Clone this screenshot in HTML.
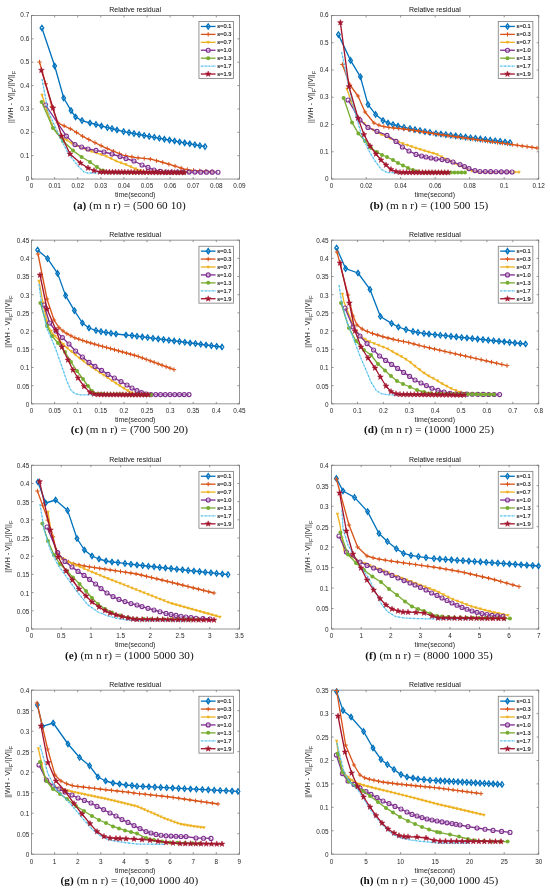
<!DOCTYPE html>
<html lang="en"><head><meta charset="utf-8"><title>Relative residual</title>
<style>
html,body{margin:0;padding:0;background:#fff;}
body{width:550px;height:891px;overflow:hidden;}
svg{display:block;}
.tk{font-family:'Liberation Sans', Arial, Helvetica, sans-serif;font-size:6.4px;fill:#262626;}
.tt{font-family:'Liberation Sans', Arial, Helvetica, sans-serif;font-size:7px;fill:#111;}
.lb{font-family:'Liberation Sans', Arial, Helvetica, sans-serif;font-size:7px;fill:#262626;}
.yl{font-family:'Liberation Sans', Arial, Helvetica, sans-serif;font-size:7px;letter-spacing:0.08px;fill:#262626;}
.sub{font-size:5.8px;}
.lg{font-family:'Liberation Sans', Arial, Helvetica, sans-serif;font-size:5.75px;fill:#111;stroke:#111;stroke-width:0.12px;}
.cap{font-family:'Liberation Serif', 'Times New Roman', serif;font-size:11.2px;word-spacing:0.2px;fill:#111;}
</style></head><body>
<svg width="550" height="891" viewBox="0 0 550 891">
<defs><filter id="soft" x="0" y="0" width="100%" height="100%" filterUnits="userSpaceOnUse"><feGaussianBlur stdDeviation="0.3"/></filter></defs>
<rect width="550" height="891" fill="#fff"/>
<g filter="url(#soft)">
<rect x="31.55" y="15.45" width="207.85" height="163.6" fill="#fff" stroke="#7a7a7a" stroke-width="0.8"/>
<text x="31.55" y="188.45" class="tk" text-anchor="middle">0</text>
<text x="54.64" y="188.45" class="tk" text-anchor="middle">0.01</text>
<text x="77.74" y="188.45" class="tk" text-anchor="middle">0.02</text>
<text x="100.83" y="188.45" class="tk" text-anchor="middle">0.03</text>
<text x="123.93" y="188.45" class="tk" text-anchor="middle">0.04</text>
<text x="147.02" y="188.45" class="tk" text-anchor="middle">0.05</text>
<text x="170.12" y="188.45" class="tk" text-anchor="middle">0.06</text>
<text x="193.21" y="188.45" class="tk" text-anchor="middle">0.07</text>
<text x="216.31" y="188.45" class="tk" text-anchor="middle">0.08</text>
<text x="239.4" y="188.45" class="tk" text-anchor="middle">0.09</text>
<text x="29.25" y="181.05" class="tk" text-anchor="end">0</text>
<text x="29.25" y="157.68" class="tk" text-anchor="end">0.1</text>
<text x="29.25" y="134.31" class="tk" text-anchor="end">0.2</text>
<text x="29.25" y="110.94" class="tk" text-anchor="end">0.3</text>
<text x="29.25" y="87.56" class="tk" text-anchor="end">0.4</text>
<text x="29.25" y="64.19" class="tk" text-anchor="end">0.5</text>
<text x="29.25" y="40.82" class="tk" text-anchor="end">0.6</text>
<text x="29.25" y="17.45" class="tk" text-anchor="end">0.7</text>
<path d="M31.55 179.05v-2M31.55 15.45v2M54.64 179.05v-2M54.64 15.45v2M77.74 179.05v-2M77.74 15.45v2M100.83 179.05v-2M100.83 15.45v2M123.93 179.05v-2M123.93 15.45v2M147.02 179.05v-2M147.02 15.45v2M170.12 179.05v-2M170.12 15.45v2M193.21 179.05v-2M193.21 15.45v2M216.31 179.05v-2M216.31 15.45v2M239.4 179.05v-2M239.4 15.45v2M31.55 179.05h2M239.4 179.05h-2M31.55 155.68h2M239.4 155.68h-2M31.55 132.31h2M239.4 132.31h-2M31.55 108.94h2M239.4 108.94h-2M31.55 85.56h2M239.4 85.56h-2M31.55 62.19h2M239.4 62.19h-2M31.55 38.82h2M239.4 38.82h-2M31.55 15.45h2M239.4 15.45h-2" stroke="#7a7a7a" stroke-width="0.8" fill="none"/>
<text x="135.17" y="11.85" class="tt" text-anchor="middle">Relative residual</text>
<text x="135.17" y="197.35" class="lb" text-anchor="middle">time(second)</text>
<text transform="translate(13.25 96.75) rotate(-90)" class="yl" text-anchor="middle">||WH - V||<tspan class="sub" dy="2.6">F</tspan><tspan dy="-2.6">/||V||</tspan><tspan class="sub" dy="2.6">F</tspan></text>
<path d="M41.9 28L54.7 66L63.7 98L71 110.6L75.6 117L82 120.6L90 123L96 124.4L101.4 126L107.4 127.6L112 128.6L117 130L123.6 131.6L129 132.6L134 133.6L205 146.6" fill="none" stroke="#0072BD" stroke-linejoin="round" stroke-width="1.32"/>
<path d="M41.9 25.35L43.7 28L41.9 30.65L40.1 28Z" fill="none" stroke="#0072BD" stroke-width="1.3"/>
<path d="M54.7 63.35L56.5 66L54.7 68.65L52.9 66Z" fill="none" stroke="#0072BD" stroke-width="1.3"/>
<path d="M63.7 95.35L65.5 98L63.7 100.65L61.9 98Z" fill="none" stroke="#0072BD" stroke-width="1.3"/>
<path d="M71 107.95L72.8 110.6L71 113.25L69.2 110.6Z" fill="none" stroke="#0072BD" stroke-width="1.3"/>
<path d="M75.6 114.35L77.4 117L75.6 119.65L73.8 117Z" fill="none" stroke="#0072BD" stroke-width="1.3"/>
<path d="M82 117.95L83.8 120.6L82 123.25L80.2 120.6Z" fill="none" stroke="#0072BD" stroke-width="1.3"/>
<path d="M90 120.35L91.8 123L90 125.65L88.2 123Z" fill="none" stroke="#0072BD" stroke-width="1.3"/>
<path d="M96 121.75L97.8 124.4L96 127.05L94.2 124.4Z" fill="none" stroke="#0072BD" stroke-width="1.3"/>
<path d="M101.4 123.35L103.2 126L101.4 128.65L99.6 126Z" fill="none" stroke="#0072BD" stroke-width="1.3"/>
<path d="M107.4 124.95L109.2 127.6L107.4 130.25L105.6 127.6Z" fill="none" stroke="#0072BD" stroke-width="1.3"/>
<path d="M112 125.95L113.8 128.6L112 131.25L110.2 128.6Z" fill="none" stroke="#0072BD" stroke-width="1.3"/>
<path d="M117 127.35L118.8 130L117 132.65L115.2 130Z" fill="none" stroke="#0072BD" stroke-width="1.3"/>
<path d="M123.6 128.95L125.4 131.6L123.6 134.25L121.8 131.6Z" fill="none" stroke="#0072BD" stroke-width="1.3"/>
<path d="M129 129.95L130.8 132.6L129 135.25L127.2 132.6Z" fill="none" stroke="#0072BD" stroke-width="1.3"/>
<path d="M134 130.95L135.8 133.6L134 136.25L132.2 133.6Z" fill="none" stroke="#0072BD" stroke-width="1.3"/>
<path d="M139.07 131.88L140.87 134.53L139.07 137.18L137.27 134.53Z" fill="none" stroke="#0072BD" stroke-width="1.3"/>
<path d="M144.14 132.81L145.94 135.46L144.14 138.11L142.34 135.46Z" fill="none" stroke="#0072BD" stroke-width="1.3"/>
<path d="M149.21 133.74L151.01 136.39L149.21 139.04L147.41 136.39Z" fill="none" stroke="#0072BD" stroke-width="1.3"/>
<path d="M154.29 134.66L156.09 137.31L154.29 139.96L152.49 137.31Z" fill="none" stroke="#0072BD" stroke-width="1.3"/>
<path d="M159.36 135.59L161.16 138.24L159.36 140.89L157.56 138.24Z" fill="none" stroke="#0072BD" stroke-width="1.3"/>
<path d="M164.43 136.52L166.23 139.17L164.43 141.82L162.63 139.17Z" fill="none" stroke="#0072BD" stroke-width="1.3"/>
<path d="M169.5 137.45L171.3 140.1L169.5 142.75L167.7 140.1Z" fill="none" stroke="#0072BD" stroke-width="1.3"/>
<path d="M174.57 138.38L176.37 141.03L174.57 143.68L172.77 141.03Z" fill="none" stroke="#0072BD" stroke-width="1.3"/>
<path d="M179.64 139.31L181.44 141.96L179.64 144.61L177.84 141.96Z" fill="none" stroke="#0072BD" stroke-width="1.3"/>
<path d="M184.71 140.24L186.51 142.89L184.71 145.54L182.91 142.89Z" fill="none" stroke="#0072BD" stroke-width="1.3"/>
<path d="M189.79 141.16L191.59 143.81L189.79 146.46L187.99 143.81Z" fill="none" stroke="#0072BD" stroke-width="1.3"/>
<path d="M194.86 142.09L196.66 144.74L194.86 147.39L193.06 144.74Z" fill="none" stroke="#0072BD" stroke-width="1.3"/>
<path d="M199.93 143.02L201.73 145.67L199.93 148.32L198.13 145.67Z" fill="none" stroke="#0072BD" stroke-width="1.3"/>
<path d="M205 143.95L206.8 146.6L205 149.25L203.2 146.6Z" fill="none" stroke="#0072BD" stroke-width="1.3"/>
<path d="M39.5 62L46 85L52 107L58 123L63 125.3L71.8 129.5L82.7 136.3L93.6 142L104.5 147.3L112.7 150.9L123.6 155.3L136 157.6L151 159.2L165 163L176 166.4L184 169L192 170.3L200 171L212 171.6" fill="none" stroke="#D95319" stroke-linejoin="round" stroke-width="1.32"/>
<path d="M37.3 62H41.7M39.5 59.8V64.2" stroke="#D95319" stroke-width="1" fill="none"/>
<path d="M43.46 83.8H47.86M45.66 81.6V86" stroke="#D95319" stroke-width="1" fill="none"/>
<path d="M49.62 106.35H54.02M51.82 104.15V108.55" stroke="#D95319" stroke-width="1" fill="none"/>
<path d="M55.78 122.95H60.18M57.98 120.75V125.15" stroke="#D95319" stroke-width="1" fill="none"/>
<path d="M61.94 125.85H66.34M64.14 123.65V128.05" stroke="#D95319" stroke-width="1" fill="none"/>
<path d="M68.1 128.79H72.5M70.3 126.59V130.99" stroke="#D95319" stroke-width="1" fill="none"/>
<path d="M74.26 132.41H78.66M76.46 130.21V134.61" stroke="#D95319" stroke-width="1" fill="none"/>
<path d="M80.42 136.25H84.83M82.62 134.05V138.45" stroke="#D95319" stroke-width="1" fill="none"/>
<path d="M86.59 139.48H90.99M88.79 137.28V141.68" stroke="#D95319" stroke-width="1" fill="none"/>
<path d="M92.75 142.65H97.15M94.95 140.45V144.85" stroke="#D95319" stroke-width="1" fill="none"/>
<path d="M98.91 145.65H103.31M101.11 143.45V147.85" stroke="#D95319" stroke-width="1" fill="none"/>
<path d="M105.07 148.52H109.47M107.27 146.32V150.72" stroke="#D95319" stroke-width="1" fill="none"/>
<path d="M111.23 151.19H115.63M113.43 148.99V153.39" stroke="#D95319" stroke-width="1" fill="none"/>
<path d="M117.39 153.68H121.79M119.59 151.48V155.88" stroke="#D95319" stroke-width="1" fill="none"/>
<path d="M123.55 155.7H127.95M125.75 153.5V157.9" stroke="#D95319" stroke-width="1" fill="none"/>
<path d="M129.71 156.84H134.11M131.91 154.64V159.04" stroke="#D95319" stroke-width="1" fill="none"/>
<path d="M135.87 157.82H140.27M138.07 155.62V160.02" stroke="#D95319" stroke-width="1" fill="none"/>
<path d="M142.03 158.48H146.43M144.23 156.28V160.68" stroke="#D95319" stroke-width="1" fill="none"/>
<path d="M148.19 159.14H152.59M150.39 156.94V161.34" stroke="#D95319" stroke-width="1" fill="none"/>
<path d="M154.35 160.71H158.75M156.55 158.51V162.91" stroke="#D95319" stroke-width="1" fill="none"/>
<path d="M160.51 162.38H164.91M162.71 160.18V164.58" stroke="#D95319" stroke-width="1" fill="none"/>
<path d="M166.68 164.2H171.07M168.88 162V166.4" stroke="#D95319" stroke-width="1" fill="none"/>
<path d="M172.84 166.1H177.24M175.04 163.9V168.3" stroke="#D95319" stroke-width="1" fill="none"/>
<path d="M179 168.09H183.4M181.2 165.89V170.29" stroke="#D95319" stroke-width="1" fill="none"/>
<path d="M185.16 169.55H189.56M187.36 167.35V171.75" stroke="#D95319" stroke-width="1" fill="none"/>
<path d="M191.32 170.43H195.72M193.52 168.23V172.63" stroke="#D95319" stroke-width="1" fill="none"/>
<path d="M197.48 170.97H201.88M199.68 168.77V173.17" stroke="#D95319" stroke-width="1" fill="none"/>
<path d="M203.64 171.29H208.04M205.84 169.09V173.49" stroke="#D95319" stroke-width="1" fill="none"/>
<path d="M209.8 171.6H214.2M212 169.4V173.8" stroke="#D95319" stroke-width="1" fill="none"/>
<path d="M42 95L47.5 112L53 128L60 136L74 144.6L88 150.4L95.9 152.8L106.8 156.5L116.8 161.3L125.9 164.6L135 168.6L145 172.4L150 172.6L190 172.6" fill="none" stroke="#EDB120" stroke-linejoin="round" stroke-width="1.32"/>
<path d="M40.7 93.96H43.3L42 96.43Z" fill="#EDB120" stroke="#EDB120" stroke-width="0.5"/>
<path d="M45.63 109.21H48.23L46.93 111.68Z" fill="#EDB120" stroke="#EDB120" stroke-width="0.5"/>
<path d="M50.57 123.66H53.17L51.87 126.13Z" fill="#EDB120" stroke="#EDB120" stroke-width="0.5"/>
<path d="M55.5 131.3H58.1L56.8 133.77Z" fill="#EDB120" stroke="#EDB120" stroke-width="0.5"/>
<path d="M60.43 136.02H63.03L61.73 138.49Z" fill="#EDB120" stroke="#EDB120" stroke-width="0.5"/>
<path d="M65.37 139.06H67.97L66.67 141.53Z" fill="#EDB120" stroke="#EDB120" stroke-width="0.5"/>
<path d="M70.3 142.09H72.9L71.6 144.56Z" fill="#EDB120" stroke="#EDB120" stroke-width="0.5"/>
<path d="M75.23 144.61H77.83L76.53 147.08Z" fill="#EDB120" stroke="#EDB120" stroke-width="0.5"/>
<path d="M80.17 146.65H82.77L81.47 149.12Z" fill="#EDB120" stroke="#EDB120" stroke-width="0.5"/>
<path d="M85.1 148.7H87.7L86.4 151.17Z" fill="#EDB120" stroke="#EDB120" stroke-width="0.5"/>
<path d="M90.03 150.37H92.63L91.33 152.84Z" fill="#EDB120" stroke="#EDB120" stroke-width="0.5"/>
<path d="M94.97 151.88H97.57L96.27 154.35Z" fill="#EDB120" stroke="#EDB120" stroke-width="0.5"/>
<path d="M99.9 153.56H102.5L101.2 156.03Z" fill="#EDB120" stroke="#EDB120" stroke-width="0.5"/>
<path d="M104.83 155.23H107.43L106.13 157.7Z" fill="#EDB120" stroke="#EDB120" stroke-width="0.5"/>
<path d="M109.77 157.51H112.37L111.07 159.98Z" fill="#EDB120" stroke="#EDB120" stroke-width="0.5"/>
<path d="M114.7 159.88H117.3L116 162.35Z" fill="#EDB120" stroke="#EDB120" stroke-width="0.5"/>
<path d="M119.63 161.76H122.23L120.93 164.23Z" fill="#EDB120" stroke="#EDB120" stroke-width="0.5"/>
<path d="M124.57 163.55H127.17L125.87 166.02Z" fill="#EDB120" stroke="#EDB120" stroke-width="0.5"/>
<path d="M129.5 165.71H132.1L130.8 168.18Z" fill="#EDB120" stroke="#EDB120" stroke-width="0.5"/>
<path d="M134.43 167.84H137.03L135.73 170.31Z" fill="#EDB120" stroke="#EDB120" stroke-width="0.5"/>
<path d="M139.37 169.71H141.97L140.67 172.18Z" fill="#EDB120" stroke="#EDB120" stroke-width="0.5"/>
<path d="M144.3 171.38H146.9L145.6 173.85Z" fill="#EDB120" stroke="#EDB120" stroke-width="0.5"/>
<path d="M149.23 171.56H151.83L150.53 174.03Z" fill="#EDB120" stroke="#EDB120" stroke-width="0.5"/>
<path d="M154.17 171.56H156.77L155.47 174.03Z" fill="#EDB120" stroke="#EDB120" stroke-width="0.5"/>
<path d="M159.1 171.56H161.7L160.4 174.03Z" fill="#EDB120" stroke="#EDB120" stroke-width="0.5"/>
<path d="M164.03 171.56H166.63L165.33 174.03Z" fill="#EDB120" stroke="#EDB120" stroke-width="0.5"/>
<path d="M168.97 171.56H171.57L170.27 174.03Z" fill="#EDB120" stroke="#EDB120" stroke-width="0.5"/>
<path d="M173.9 171.56H176.5L175.2 174.03Z" fill="#EDB120" stroke="#EDB120" stroke-width="0.5"/>
<path d="M178.83 171.56H181.43L180.13 174.03Z" fill="#EDB120" stroke="#EDB120" stroke-width="0.5"/>
<path d="M183.77 171.56H186.37L185.07 174.03Z" fill="#EDB120" stroke="#EDB120" stroke-width="0.5"/>
<path d="M188.7 171.56H191.3L190 174.03Z" fill="#EDB120" stroke="#EDB120" stroke-width="0.5"/>
<path d="M45.6 105L66.4 136.1L75 144.6L81.6 147L88 149L96 150.4L104 152L112 154L120 156.6L126 158.6L134 161L142 165L148 167.4L154 170L160 171.4L166 172L218 172.2" fill="none" stroke="#7E2F8E" stroke-linejoin="round" stroke-width="1.32"/>
<circle cx="45.6" cy="105" r="2.0" fill="#fff" fill-opacity="0.45" stroke="#7E2F8E" stroke-width="1.15"/>
<circle cx="66.4" cy="136.1" r="2.0" fill="#fff" fill-opacity="0.45" stroke="#7E2F8E" stroke-width="1.15"/>
<circle cx="75" cy="144.6" r="2.0" fill="#fff" fill-opacity="0.45" stroke="#7E2F8E" stroke-width="1.15"/>
<circle cx="81.6" cy="147" r="2.0" fill="#fff" fill-opacity="0.45" stroke="#7E2F8E" stroke-width="1.15"/>
<circle cx="88" cy="149" r="2.0" fill="#fff" fill-opacity="0.45" stroke="#7E2F8E" stroke-width="1.15"/>
<circle cx="96" cy="150.4" r="2.0" fill="#fff" fill-opacity="0.45" stroke="#7E2F8E" stroke-width="1.15"/>
<circle cx="104" cy="152" r="2.0" fill="#fff" fill-opacity="0.45" stroke="#7E2F8E" stroke-width="1.15"/>
<circle cx="112" cy="154" r="2.0" fill="#fff" fill-opacity="0.45" stroke="#7E2F8E" stroke-width="1.15"/>
<circle cx="120" cy="156.6" r="2.0" fill="#fff" fill-opacity="0.45" stroke="#7E2F8E" stroke-width="1.15"/>
<circle cx="126" cy="158.6" r="2.0" fill="#fff" fill-opacity="0.45" stroke="#7E2F8E" stroke-width="1.15"/>
<circle cx="134" cy="161" r="2.0" fill="#fff" fill-opacity="0.45" stroke="#7E2F8E" stroke-width="1.15"/>
<circle cx="142" cy="165" r="2.0" fill="#fff" fill-opacity="0.45" stroke="#7E2F8E" stroke-width="1.15"/>
<circle cx="148" cy="167.4" r="2.0" fill="#fff" fill-opacity="0.45" stroke="#7E2F8E" stroke-width="1.15"/>
<circle cx="154" cy="170" r="2.0" fill="#fff" fill-opacity="0.45" stroke="#7E2F8E" stroke-width="1.15"/>
<circle cx="160" cy="171.4" r="2.0" fill="#fff" fill-opacity="0.45" stroke="#7E2F8E" stroke-width="1.15"/>
<circle cx="166" cy="172" r="2.0" fill="#fff" fill-opacity="0.45" stroke="#7E2F8E" stroke-width="1.15"/>
<circle cx="171.78" cy="172.02" r="2.0" fill="#fff" fill-opacity="0.45" stroke="#7E2F8E" stroke-width="1.15"/>
<circle cx="177.56" cy="172.04" r="2.0" fill="#fff" fill-opacity="0.45" stroke="#7E2F8E" stroke-width="1.15"/>
<circle cx="183.33" cy="172.07" r="2.0" fill="#fff" fill-opacity="0.45" stroke="#7E2F8E" stroke-width="1.15"/>
<circle cx="189.11" cy="172.09" r="2.0" fill="#fff" fill-opacity="0.45" stroke="#7E2F8E" stroke-width="1.15"/>
<circle cx="194.89" cy="172.11" r="2.0" fill="#fff" fill-opacity="0.45" stroke="#7E2F8E" stroke-width="1.15"/>
<circle cx="200.67" cy="172.13" r="2.0" fill="#fff" fill-opacity="0.45" stroke="#7E2F8E" stroke-width="1.15"/>
<circle cx="206.44" cy="172.16" r="2.0" fill="#fff" fill-opacity="0.45" stroke="#7E2F8E" stroke-width="1.15"/>
<circle cx="212.22" cy="172.18" r="2.0" fill="#fff" fill-opacity="0.45" stroke="#7E2F8E" stroke-width="1.15"/>
<circle cx="218" cy="172.2" r="2.0" fill="#fff" fill-opacity="0.45" stroke="#7E2F8E" stroke-width="1.15"/>
<path d="M41.6 102L53 128L63 141L73 150.6L81.6 157L90 162L97 167L103 170.6L109 172.4L184 172.6" fill="none" stroke="#77AC30" stroke-linejoin="round" stroke-width="1.32"/>
<circle cx="41.6" cy="102" r="2.0" fill="#77AC30"/>
<circle cx="53" cy="128" r="2.0" fill="#77AC30"/>
<circle cx="63" cy="141" r="2.0" fill="#77AC30"/>
<circle cx="73" cy="150.6" r="2.0" fill="#77AC30"/>
<circle cx="81.6" cy="157" r="2.0" fill="#77AC30"/>
<circle cx="90" cy="162" r="2.0" fill="#77AC30"/>
<circle cx="97" cy="167" r="2.0" fill="#77AC30"/>
<circle cx="103" cy="170.6" r="2.0" fill="#77AC30"/>
<circle cx="109" cy="172.4" r="2.0" fill="#77AC30"/>
<circle cx="114" cy="172.41" r="2.0" fill="#77AC30"/>
<circle cx="119" cy="172.43" r="2.0" fill="#77AC30"/>
<circle cx="124" cy="172.44" r="2.0" fill="#77AC30"/>
<circle cx="129" cy="172.45" r="2.0" fill="#77AC30"/>
<circle cx="134" cy="172.47" r="2.0" fill="#77AC30"/>
<circle cx="139" cy="172.48" r="2.0" fill="#77AC30"/>
<circle cx="144" cy="172.49" r="2.0" fill="#77AC30"/>
<circle cx="149" cy="172.51" r="2.0" fill="#77AC30"/>
<circle cx="154" cy="172.52" r="2.0" fill="#77AC30"/>
<circle cx="159" cy="172.53" r="2.0" fill="#77AC30"/>
<circle cx="164" cy="172.55" r="2.0" fill="#77AC30"/>
<circle cx="169" cy="172.56" r="2.0" fill="#77AC30"/>
<circle cx="174" cy="172.57" r="2.0" fill="#77AC30"/>
<circle cx="179" cy="172.59" r="2.0" fill="#77AC30"/>
<circle cx="184" cy="172.6" r="2.0" fill="#77AC30"/>
<path d="M42 79L48 111L58 133L68 153L78 166L84 172L88 173L130 173" fill="none" stroke="#4DBEEE" stroke-linejoin="round" stroke-dasharray="2.1 0.55 0.6 0.55" stroke-width="1.3"/>
<path d="M41.4 70.2L53 108L61.6 136L70 154L80.4 163L88 168L94 170.6L100 172L184 172.6" fill="none" stroke="#A2142F" stroke-linejoin="round" stroke-width="1.32"/>
<path d="M41.4 67.2L42.13 69.19L44.25 69.27L42.59 70.59L43.16 72.63L41.4 71.45L39.64 72.63L40.21 70.59L38.55 69.27L40.67 69.19Z" fill="#A2142F" stroke="#A2142F" stroke-width="0.5"/>
<path d="M53 105L53.73 106.99L55.85 107.07L54.19 108.39L54.76 110.43L53 109.25L51.24 110.43L51.81 108.39L50.15 107.07L52.27 106.99Z" fill="#A2142F" stroke="#A2142F" stroke-width="0.5"/>
<path d="M61.6 133L62.33 134.99L64.45 135.07L62.79 136.39L63.36 138.43L61.6 137.25L59.84 138.43L60.41 136.39L58.75 135.07L60.87 134.99Z" fill="#A2142F" stroke="#A2142F" stroke-width="0.5"/>
<path d="M70 151L70.73 152.99L72.85 153.07L71.19 154.39L71.76 156.43L70 155.25L68.24 156.43L68.81 154.39L67.15 153.07L69.27 152.99Z" fill="#A2142F" stroke="#A2142F" stroke-width="0.5"/>
<path d="M80.4 160L81.13 161.99L83.25 162.07L81.59 163.39L82.16 165.43L80.4 164.25L78.64 165.43L79.21 163.39L77.55 162.07L79.67 161.99Z" fill="#A2142F" stroke="#A2142F" stroke-width="0.5"/>
<path d="M88 165L88.73 166.99L90.85 167.07L89.19 168.39L89.76 170.43L88 169.25L86.24 170.43L86.81 168.39L85.15 167.07L87.27 166.99Z" fill="#A2142F" stroke="#A2142F" stroke-width="0.5"/>
<path d="M94 167.6L94.73 169.59L96.85 169.67L95.19 170.99L95.76 173.03L94 171.85L92.24 173.03L92.81 170.99L91.15 169.67L93.27 169.59Z" fill="#A2142F" stroke="#A2142F" stroke-width="0.5"/>
<path d="M100 169L100.73 170.99L102.85 171.07L101.19 172.39L101.76 174.43L100 173.25L98.24 174.43L98.81 172.39L97.15 171.07L99.27 170.99Z" fill="#A2142F" stroke="#A2142F" stroke-width="0.5"/>
<path d="M103.11 169.02L103.85 171.01L105.96 171.1L104.3 172.41L104.87 174.45L103.11 173.27L101.35 174.45L101.92 172.41L100.26 171.1L102.38 171.01Z" fill="#A2142F" stroke="#A2142F" stroke-width="0.5"/>
<path d="M106.22 169.04L106.96 171.03L109.08 171.12L107.41 172.43L107.99 174.47L106.22 173.29L104.46 174.47L105.03 172.43L103.37 171.12L105.49 171.03Z" fill="#A2142F" stroke="#A2142F" stroke-width="0.5"/>
<path d="M109.33 169.07L110.07 171.06L112.19 171.14L110.52 172.45L111.1 174.49L109.33 173.32L107.57 174.49L108.14 172.45L106.48 171.14L108.6 171.06Z" fill="#A2142F" stroke="#A2142F" stroke-width="0.5"/>
<path d="M112.44 169.09L113.18 171.08L115.3 171.16L113.63 172.48L114.21 174.52L112.44 173.34L110.68 174.52L111.26 172.48L109.59 171.16L111.71 171.08Z" fill="#A2142F" stroke="#A2142F" stroke-width="0.5"/>
<path d="M115.56 169.11L116.29 171.1L118.41 171.18L116.74 172.5L117.32 174.54L115.56 173.36L113.79 174.54L114.37 172.5L112.7 171.18L114.82 171.1Z" fill="#A2142F" stroke="#A2142F" stroke-width="0.5"/>
<path d="M118.67 169.13L119.4 171.12L121.52 171.21L119.86 172.52L120.43 174.56L118.67 173.38L116.9 174.56L117.48 172.52L115.81 171.21L117.93 171.12Z" fill="#A2142F" stroke="#A2142F" stroke-width="0.5"/>
<path d="M121.78 169.16L122.51 171.14L124.63 171.23L122.97 172.54L123.54 174.58L121.78 173.41L120.01 174.58L120.59 172.54L118.92 171.23L121.04 171.14Z" fill="#A2142F" stroke="#A2142F" stroke-width="0.5"/>
<path d="M124.89 169.18L125.62 171.17L127.74 171.25L126.08 172.56L126.65 174.6L124.89 173.43L123.13 174.6L123.7 172.56L122.04 171.25L124.15 171.17Z" fill="#A2142F" stroke="#A2142F" stroke-width="0.5"/>
<path d="M128 169.2L128.73 171.19L130.85 171.27L129.19 172.59L129.76 174.63L128 173.45L126.24 174.63L126.81 172.59L125.15 171.27L127.27 171.19Z" fill="#A2142F" stroke="#A2142F" stroke-width="0.5"/>
<path d="M131.11 169.22L131.85 171.21L133.96 171.3L132.3 172.61L132.87 174.65L131.11 173.47L129.35 174.65L129.92 172.61L128.26 171.3L130.38 171.21Z" fill="#A2142F" stroke="#A2142F" stroke-width="0.5"/>
<path d="M134.22 169.24L134.96 171.23L137.08 171.32L135.41 172.63L135.99 174.67L134.22 173.49L132.46 174.67L133.03 172.63L131.37 171.32L133.49 171.23Z" fill="#A2142F" stroke="#A2142F" stroke-width="0.5"/>
<path d="M137.33 169.27L138.07 171.26L140.19 171.34L138.52 172.65L139.1 174.69L137.33 173.52L135.57 174.69L136.14 172.65L134.48 171.34L136.6 171.26Z" fill="#A2142F" stroke="#A2142F" stroke-width="0.5"/>
<path d="M140.44 169.29L141.18 171.28L143.3 171.36L141.63 172.68L142.21 174.72L140.44 173.54L138.68 174.72L139.26 172.68L137.59 171.36L139.71 171.28Z" fill="#A2142F" stroke="#A2142F" stroke-width="0.5"/>
<path d="M143.56 169.31L144.29 171.3L146.41 171.38L144.74 172.7L145.32 174.74L143.56 173.56L141.79 174.74L142.37 172.7L140.7 171.38L142.82 171.3Z" fill="#A2142F" stroke="#A2142F" stroke-width="0.5"/>
<path d="M146.67 169.33L147.4 171.32L149.52 171.41L147.86 172.72L148.43 174.76L146.67 173.58L144.9 174.76L145.48 172.72L143.81 171.41L145.93 171.32Z" fill="#A2142F" stroke="#A2142F" stroke-width="0.5"/>
<path d="M149.78 169.36L150.51 171.34L152.63 171.43L150.97 172.74L151.54 174.78L149.78 173.61L148.01 174.78L148.59 172.74L146.92 171.43L149.04 171.34Z" fill="#A2142F" stroke="#A2142F" stroke-width="0.5"/>
<path d="M152.89 169.38L153.62 171.37L155.74 171.45L154.08 172.76L154.65 174.8L152.89 173.63L151.13 174.8L151.7 172.76L150.04 171.45L152.15 171.37Z" fill="#A2142F" stroke="#A2142F" stroke-width="0.5"/>
<path d="M156 169.4L156.73 171.39L158.85 171.47L157.19 172.79L157.76 174.83L156 173.65L154.24 174.83L154.81 172.79L153.15 171.47L155.27 171.39Z" fill="#A2142F" stroke="#A2142F" stroke-width="0.5"/>
<path d="M159.11 169.42L159.85 171.41L161.96 171.5L160.3 172.81L160.87 174.85L159.11 173.67L157.35 174.85L157.92 172.81L156.26 171.5L158.38 171.41Z" fill="#A2142F" stroke="#A2142F" stroke-width="0.5"/>
<path d="M162.22 169.44L162.96 171.43L165.08 171.52L163.41 172.83L163.99 174.87L162.22 173.69L160.46 174.87L161.03 172.83L159.37 171.52L161.49 171.43Z" fill="#A2142F" stroke="#A2142F" stroke-width="0.5"/>
<path d="M165.33 169.47L166.07 171.46L168.19 171.54L166.52 172.85L167.1 174.89L165.33 173.72L163.57 174.89L164.14 172.85L162.48 171.54L164.6 171.46Z" fill="#A2142F" stroke="#A2142F" stroke-width="0.5"/>
<path d="M168.44 169.49L169.18 171.48L171.3 171.56L169.63 172.88L170.21 174.92L168.44 173.74L166.68 174.92L167.26 172.88L165.59 171.56L167.71 171.48Z" fill="#A2142F" stroke="#A2142F" stroke-width="0.5"/>
<path d="M171.56 169.51L172.29 171.5L174.41 171.58L172.74 172.9L173.32 174.94L171.56 173.76L169.79 174.94L170.37 172.9L168.7 171.58L170.82 171.5Z" fill="#A2142F" stroke="#A2142F" stroke-width="0.5"/>
<path d="M174.67 169.53L175.4 171.52L177.52 171.61L175.86 172.92L176.43 174.96L174.67 173.78L172.9 174.96L173.48 172.92L171.81 171.61L173.93 171.52Z" fill="#A2142F" stroke="#A2142F" stroke-width="0.5"/>
<path d="M177.78 169.56L178.51 171.54L180.63 171.63L178.97 172.94L179.54 174.98L177.78 173.81L176.01 174.98L176.59 172.94L174.92 171.63L177.04 171.54Z" fill="#A2142F" stroke="#A2142F" stroke-width="0.5"/>
<path d="M180.89 169.58L181.62 171.57L183.74 171.65L182.08 172.96L182.65 175L180.89 173.83L179.13 175L179.7 172.96L178.04 171.65L180.15 171.57Z" fill="#A2142F" stroke="#A2142F" stroke-width="0.5"/>
<path d="M184 169.6L184.73 171.59L186.85 171.67L185.19 172.99L185.76 175.03L184 173.85L182.24 175.03L182.81 172.99L181.15 171.67L183.27 171.59Z" fill="#A2142F" stroke="#A2142F" stroke-width="0.5"/>
<rect x="198.95" y="21.55" width="34.6" height="56.9" fill="#fff" stroke="#7a7a7a" stroke-width="0.8"/>
<path d="M200.85 26.45H215.55" stroke="#0072BD" fill="none" stroke-width="1.32"/>
<path d="M208.2 23.8L210 26.45L208.2 29.1L206.4 26.45Z" fill="none" stroke="#0072BD" stroke-width="1.3"/>
<text x="217.2" y="28.4" class="lg">s=0.1</text>
<path d="M200.85 34.38H215.55" stroke="#D95319" fill="none" stroke-width="1.32"/>
<path d="M206 34.38H210.4M208.2 32.18V36.58" stroke="#D95319" stroke-width="1" fill="none"/>
<text x="217.2" y="36.33" class="lg">s=0.3</text>
<path d="M200.85 42.31H215.55" stroke="#EDB120" fill="none" stroke-width="1.32"/>
<path d="M206.9 41.27H209.5L208.2 43.74Z" fill="#EDB120" stroke="#EDB120" stroke-width="0.5"/>
<text x="217.2" y="44.26" class="lg">s=0.7</text>
<path d="M200.85 50.24H215.55" stroke="#7E2F8E" fill="none" stroke-width="1.32"/>
<circle cx="208.2" cy="50.24" r="2.0" fill="#fff" fill-opacity="0.45" stroke="#7E2F8E" stroke-width="1.15"/>
<text x="217.2" y="52.19" class="lg">s=1.0</text>
<path d="M200.85 58.17H215.55" stroke="#77AC30" fill="none" stroke-width="1.32"/>
<circle cx="208.2" cy="58.17" r="2.0" fill="#77AC30"/>
<text x="217.2" y="60.12" class="lg">s=1.3</text>
<path d="M200.85 66.1H215.55" stroke="#4DBEEE" fill="none" stroke-dasharray="2.1 0.55 0.6 0.55" stroke-width="1.3"/>

<text x="217.2" y="68.05" class="lg">s=1.7</text>
<path d="M200.85 74.03H215.55" stroke="#A2142F" fill="none" stroke-width="1.32"/>
<path d="M208.2 71.03L208.93 73.02L211.05 73.1L209.39 74.42L209.96 76.46L208.2 75.28L206.44 76.46L207.01 74.42L205.35 73.1L207.47 73.02Z" fill="#A2142F" stroke="#A2142F" stroke-width="0.5"/>
<text x="217.2" y="75.98" class="lg">s=1.9</text>
<text x="129.4" y="208.65" class="cap" text-anchor="middle"><tspan font-weight="bold">(a)</tspan> (m n r) = (500 60 10)</text>
<rect x="331.6" y="15.45" width="207.1" height="163.6" fill="#fff" stroke="#7a7a7a" stroke-width="0.8"/>
<text x="331.6" y="188.45" class="tk" text-anchor="middle">0</text>
<text x="366.12" y="188.45" class="tk" text-anchor="middle">0.02</text>
<text x="400.63" y="188.45" class="tk" text-anchor="middle">0.04</text>
<text x="435.15" y="188.45" class="tk" text-anchor="middle">0.06</text>
<text x="469.67" y="188.45" class="tk" text-anchor="middle">0.08</text>
<text x="504.18" y="188.45" class="tk" text-anchor="middle">0.1</text>
<text x="538.7" y="188.45" class="tk" text-anchor="middle">0.12</text>
<text x="328.6" y="181.05" class="tk" text-anchor="end">0</text>
<text x="328.6" y="153.78" class="tk" text-anchor="end">0.1</text>
<text x="328.6" y="126.52" class="tk" text-anchor="end">0.2</text>
<text x="328.6" y="99.25" class="tk" text-anchor="end">0.3</text>
<text x="328.6" y="71.98" class="tk" text-anchor="end">0.4</text>
<text x="328.6" y="44.72" class="tk" text-anchor="end">0.5</text>
<text x="328.6" y="17.45" class="tk" text-anchor="end">0.6</text>
<path d="M331.6 179.05v-2M331.6 15.45v2M366.12 179.05v-2M366.12 15.45v2M400.63 179.05v-2M400.63 15.45v2M435.15 179.05v-2M435.15 15.45v2M469.67 179.05v-2M469.67 15.45v2M504.18 179.05v-2M504.18 15.45v2M538.7 179.05v-2M538.7 15.45v2M331.6 179.05h2M538.7 179.05h-2M331.6 151.78h2M538.7 151.78h-2M331.6 124.52h2M538.7 124.52h-2M331.6 97.25h2M538.7 97.25h-2M331.6 69.98h2M538.7 69.98h-2M331.6 42.72h2M538.7 42.72h-2M331.6 15.45h2M538.7 15.45h-2" stroke="#7a7a7a" stroke-width="0.8" fill="none"/>
<text x="434.85" y="11.85" class="tt" text-anchor="middle">Relative residual</text>
<text x="434.85" y="197.35" class="lb" text-anchor="middle">time(second)</text>
<text transform="translate(313.3 96.75) rotate(-90)" class="yl" text-anchor="middle">||WH - V||<tspan class="sub" dy="2.6">F</tspan><tspan dy="-2.6">/||V||</tspan><tspan class="sub" dy="2.6">F</tspan></text>
<path d="M338.4 34.6L350.6 60.4L360.4 76.8L368 104.6L375.6 114.4L383 120.6L388 123L393 124.6L398 126L404 127.4L410 128.6L415 129.6L420 130.6L425 131.6L430 132.4L436 133.4L510 142.6" fill="none" stroke="#0072BD" stroke-linejoin="round" stroke-width="1.32"/>
<path d="M338.4 31.95L340.2 34.6L338.4 37.25L336.6 34.6Z" fill="none" stroke="#0072BD" stroke-width="1.3"/>
<path d="M350.6 57.75L352.4 60.4L350.6 63.05L348.8 60.4Z" fill="none" stroke="#0072BD" stroke-width="1.3"/>
<path d="M360.4 74.15L362.2 76.8L360.4 79.45L358.6 76.8Z" fill="none" stroke="#0072BD" stroke-width="1.3"/>
<path d="M368 101.95L369.8 104.6L368 107.25L366.2 104.6Z" fill="none" stroke="#0072BD" stroke-width="1.3"/>
<path d="M375.6 111.75L377.4 114.4L375.6 117.05L373.8 114.4Z" fill="none" stroke="#0072BD" stroke-width="1.3"/>
<path d="M383 117.95L384.8 120.6L383 123.25L381.2 120.6Z" fill="none" stroke="#0072BD" stroke-width="1.3"/>
<path d="M388 120.35L389.8 123L388 125.65L386.2 123Z" fill="none" stroke="#0072BD" stroke-width="1.3"/>
<path d="M393 121.95L394.8 124.6L393 127.25L391.2 124.6Z" fill="none" stroke="#0072BD" stroke-width="1.3"/>
<path d="M398 123.35L399.8 126L398 128.65L396.2 126Z" fill="none" stroke="#0072BD" stroke-width="1.3"/>
<path d="M404 124.75L405.8 127.4L404 130.05L402.2 127.4Z" fill="none" stroke="#0072BD" stroke-width="1.3"/>
<path d="M410 125.95L411.8 128.6L410 131.25L408.2 128.6Z" fill="none" stroke="#0072BD" stroke-width="1.3"/>
<path d="M415 126.95L416.8 129.6L415 132.25L413.2 129.6Z" fill="none" stroke="#0072BD" stroke-width="1.3"/>
<path d="M420 127.95L421.8 130.6L420 133.25L418.2 130.6Z" fill="none" stroke="#0072BD" stroke-width="1.3"/>
<path d="M425 128.95L426.8 131.6L425 134.25L423.2 131.6Z" fill="none" stroke="#0072BD" stroke-width="1.3"/>
<path d="M430 129.75L431.8 132.4L430 135.05L428.2 132.4Z" fill="none" stroke="#0072BD" stroke-width="1.3"/>
<path d="M436 130.75L437.8 133.4L436 136.05L434.2 133.4Z" fill="none" stroke="#0072BD" stroke-width="1.3"/>
<path d="M440.93 131.36L442.73 134.01L440.93 136.66L439.13 134.01Z" fill="none" stroke="#0072BD" stroke-width="1.3"/>
<path d="M445.87 131.98L447.67 134.63L445.87 137.28L444.07 134.63Z" fill="none" stroke="#0072BD" stroke-width="1.3"/>
<path d="M450.8 132.59L452.6 135.24L450.8 137.89L449 135.24Z" fill="none" stroke="#0072BD" stroke-width="1.3"/>
<path d="M455.73 133.2L457.53 135.85L455.73 138.5L453.93 135.85Z" fill="none" stroke="#0072BD" stroke-width="1.3"/>
<path d="M460.67 133.82L462.47 136.47L460.67 139.12L458.87 136.47Z" fill="none" stroke="#0072BD" stroke-width="1.3"/>
<path d="M465.6 134.43L467.4 137.08L465.6 139.73L463.8 137.08Z" fill="none" stroke="#0072BD" stroke-width="1.3"/>
<path d="M470.53 135.04L472.33 137.69L470.53 140.34L468.73 137.69Z" fill="none" stroke="#0072BD" stroke-width="1.3"/>
<path d="M475.47 135.66L477.27 138.31L475.47 140.96L473.67 138.31Z" fill="none" stroke="#0072BD" stroke-width="1.3"/>
<path d="M480.4 136.27L482.2 138.92L480.4 141.57L478.6 138.92Z" fill="none" stroke="#0072BD" stroke-width="1.3"/>
<path d="M485.33 136.88L487.13 139.53L485.33 142.18L483.53 139.53Z" fill="none" stroke="#0072BD" stroke-width="1.3"/>
<path d="M490.27 137.5L492.07 140.15L490.27 142.8L488.47 140.15Z" fill="none" stroke="#0072BD" stroke-width="1.3"/>
<path d="M495.2 138.11L497 140.76L495.2 143.41L493.4 140.76Z" fill="none" stroke="#0072BD" stroke-width="1.3"/>
<path d="M500.13 138.72L501.93 141.37L500.13 144.02L498.33 141.37Z" fill="none" stroke="#0072BD" stroke-width="1.3"/>
<path d="M505.07 139.34L506.87 141.99L505.07 144.64L503.27 141.99Z" fill="none" stroke="#0072BD" stroke-width="1.3"/>
<path d="M510 139.95L511.8 142.6L510 145.25L508.2 142.6Z" fill="none" stroke="#0072BD" stroke-width="1.3"/>
<path d="M342.4 64.4L350 85L358 96L365 112L374 123L381 126L390 127.6L404 129L418 131L436 134L537 148" fill="none" stroke="#D95319" stroke-linejoin="round" stroke-width="1.32"/>
<path d="M340.2 64.4H344.6M342.4 62.2V66.6" stroke="#D95319" stroke-width="1" fill="none"/>
<path d="M347.8 85H352.2M350 82.8V87.2" stroke="#D95319" stroke-width="1" fill="none"/>
<path d="M355.8 96H360.2M358 93.8V98.2" stroke="#D95319" stroke-width="1" fill="none"/>
<path d="M362.8 112H367.2M365 109.8V114.2" stroke="#D95319" stroke-width="1" fill="none"/>
<path d="M371.8 123H376.2M374 120.8V125.2" stroke="#D95319" stroke-width="1" fill="none"/>
<path d="M376.74 125.12H381.14M378.94 122.92V127.32" stroke="#D95319" stroke-width="1" fill="none"/>
<path d="M381.68 126.51H386.08M383.88 124.31V128.71" stroke="#D95319" stroke-width="1" fill="none"/>
<path d="M386.62 127.39H391.02M388.82 125.19V129.59" stroke="#D95319" stroke-width="1" fill="none"/>
<path d="M391.56 127.98H395.96M393.76 125.78V130.18" stroke="#D95319" stroke-width="1" fill="none"/>
<path d="M396.5 128.47H400.9M398.7 126.27V130.67" stroke="#D95319" stroke-width="1" fill="none"/>
<path d="M401.44 128.96H405.84M403.64 126.76V131.16" stroke="#D95319" stroke-width="1" fill="none"/>
<path d="M406.38 129.65H410.78M408.58 127.45V131.85" stroke="#D95319" stroke-width="1" fill="none"/>
<path d="M411.32 130.36H415.72M413.52 128.16V132.56" stroke="#D95319" stroke-width="1" fill="none"/>
<path d="M416.25 131.08H420.65M418.45 128.88V133.28" stroke="#D95319" stroke-width="1" fill="none"/>
<path d="M421.19 131.9H425.59M423.39 129.7V134.1" stroke="#D95319" stroke-width="1" fill="none"/>
<path d="M426.13 132.72H430.53M428.33 130.52V134.92" stroke="#D95319" stroke-width="1" fill="none"/>
<path d="M431.07 133.55H435.47M433.27 131.35V135.75" stroke="#D95319" stroke-width="1" fill="none"/>
<path d="M436.01 134.31H440.41M438.21 132.11V136.51" stroke="#D95319" stroke-width="1" fill="none"/>
<path d="M440.95 134.99H445.35M443.15 132.79V137.19" stroke="#D95319" stroke-width="1" fill="none"/>
<path d="M445.89 135.68H450.29M448.09 133.48V137.88" stroke="#D95319" stroke-width="1" fill="none"/>
<path d="M450.83 136.36H455.23M453.03 134.16V138.56" stroke="#D95319" stroke-width="1" fill="none"/>
<path d="M455.77 137.05H460.17M457.97 134.85V139.25" stroke="#D95319" stroke-width="1" fill="none"/>
<path d="M460.71 137.73H465.11M462.91 135.53V139.93" stroke="#D95319" stroke-width="1" fill="none"/>
<path d="M465.65 138.41H470.05M467.85 136.21V140.61" stroke="#D95319" stroke-width="1" fill="none"/>
<path d="M470.59 139.1H474.99M472.79 136.9V141.3" stroke="#D95319" stroke-width="1" fill="none"/>
<path d="M475.53 139.78H479.93M477.73 137.58V141.98" stroke="#D95319" stroke-width="1" fill="none"/>
<path d="M480.47 140.47H484.87M482.67 138.27V142.67" stroke="#D95319" stroke-width="1" fill="none"/>
<path d="M485.41 141.15H489.81M487.61 138.95V143.35" stroke="#D95319" stroke-width="1" fill="none"/>
<path d="M490.35 141.84H494.75M492.55 139.64V144.04" stroke="#D95319" stroke-width="1" fill="none"/>
<path d="M495.28 142.52H499.68M497.48 140.32V144.72" stroke="#D95319" stroke-width="1" fill="none"/>
<path d="M500.22 143.21H504.62M502.42 141.01V145.41" stroke="#D95319" stroke-width="1" fill="none"/>
<path d="M505.16 143.89H509.56M507.36 141.69V146.09" stroke="#D95319" stroke-width="1" fill="none"/>
<path d="M510.1 144.58H514.5M512.3 142.38V146.78" stroke="#D95319" stroke-width="1" fill="none"/>
<path d="M515.04 145.26H519.44M517.24 143.06V147.46" stroke="#D95319" stroke-width="1" fill="none"/>
<path d="M519.98 145.95H524.38M522.18 143.75V148.15" stroke="#D95319" stroke-width="1" fill="none"/>
<path d="M524.92 146.63H529.32M527.12 144.43V148.83" stroke="#D95319" stroke-width="1" fill="none"/>
<path d="M529.86 147.32H534.26M532.06 145.12V149.52" stroke="#D95319" stroke-width="1" fill="none"/>
<path d="M534.8 148H539.2M537 145.8V150.2" stroke="#D95319" stroke-width="1" fill="none"/>
<path d="M347 89L352 104L358 118L368 127L380 134L396 141L404 144L414 147.4L424 150.6L436 154L444 158L456 164L466 168.6L472 171L478 172L519 172.2" fill="none" stroke="#EDB120" stroke-linejoin="round" stroke-width="1.32"/>
<path d="M345.7 87.96H348.3L347 90.43Z" fill="#EDB120" stroke="#EDB120" stroke-width="0.5"/>
<path d="M350 100.86H352.6L351.3 103.33Z" fill="#EDB120" stroke="#EDB120" stroke-width="0.5"/>
<path d="M354.3 111.36H356.9L355.6 113.83Z" fill="#EDB120" stroke="#EDB120" stroke-width="0.5"/>
<path d="M358.6 118.67H361.2L359.9 121.14Z" fill="#EDB120" stroke="#EDB120" stroke-width="0.5"/>
<path d="M362.9 122.54H365.5L364.2 125.01Z" fill="#EDB120" stroke="#EDB120" stroke-width="0.5"/>
<path d="M367.2 126.25H369.8L368.5 128.72Z" fill="#EDB120" stroke="#EDB120" stroke-width="0.5"/>
<path d="M371.5 128.76H374.1L372.8 131.23Z" fill="#EDB120" stroke="#EDB120" stroke-width="0.5"/>
<path d="M375.8 131.27H378.4L377.1 133.74Z" fill="#EDB120" stroke="#EDB120" stroke-width="0.5"/>
<path d="M380.1 133.57H382.7L381.4 136.04Z" fill="#EDB120" stroke="#EDB120" stroke-width="0.5"/>
<path d="M384.4 135.45H387L385.7 137.92Z" fill="#EDB120" stroke="#EDB120" stroke-width="0.5"/>
<path d="M388.7 137.34H391.3L390 139.81Z" fill="#EDB120" stroke="#EDB120" stroke-width="0.5"/>
<path d="M393 139.22H395.6L394.3 141.69Z" fill="#EDB120" stroke="#EDB120" stroke-width="0.5"/>
<path d="M397.3 140.94H399.9L398.6 143.41Z" fill="#EDB120" stroke="#EDB120" stroke-width="0.5"/>
<path d="M401.6 142.55H404.2L402.9 145.02Z" fill="#EDB120" stroke="#EDB120" stroke-width="0.5"/>
<path d="M405.9 144.05H408.5L407.2 146.52Z" fill="#EDB120" stroke="#EDB120" stroke-width="0.5"/>
<path d="M410.2 145.51H412.8L411.5 147.98Z" fill="#EDB120" stroke="#EDB120" stroke-width="0.5"/>
<path d="M414.5 146.94H417.1L415.8 149.41Z" fill="#EDB120" stroke="#EDB120" stroke-width="0.5"/>
<path d="M418.8 148.31H421.4L420.1 150.78Z" fill="#EDB120" stroke="#EDB120" stroke-width="0.5"/>
<path d="M423.1 149.67H425.7L424.4 152.14Z" fill="#EDB120" stroke="#EDB120" stroke-width="0.5"/>
<path d="M427.4 150.89H430L428.7 153.36Z" fill="#EDB120" stroke="#EDB120" stroke-width="0.5"/>
<path d="M431.7 152.11H434.3L433 154.58Z" fill="#EDB120" stroke="#EDB120" stroke-width="0.5"/>
<path d="M436 153.61H438.6L437.3 156.08Z" fill="#EDB120" stroke="#EDB120" stroke-width="0.5"/>
<path d="M440.3 155.76H442.9L441.6 158.23Z" fill="#EDB120" stroke="#EDB120" stroke-width="0.5"/>
<path d="M444.6 157.91H447.2L445.9 160.38Z" fill="#EDB120" stroke="#EDB120" stroke-width="0.5"/>
<path d="M448.9 160.06H451.5L450.2 162.53Z" fill="#EDB120" stroke="#EDB120" stroke-width="0.5"/>
<path d="M453.2 162.21H455.8L454.5 164.68Z" fill="#EDB120" stroke="#EDB120" stroke-width="0.5"/>
<path d="M457.5 164.25H460.1L458.8 166.72Z" fill="#EDB120" stroke="#EDB120" stroke-width="0.5"/>
<path d="M461.8 166.23H464.4L463.1 168.7Z" fill="#EDB120" stroke="#EDB120" stroke-width="0.5"/>
<path d="M466.1 168.12H468.7L467.4 170.59Z" fill="#EDB120" stroke="#EDB120" stroke-width="0.5"/>
<path d="M470.4 169.84H473L471.7 172.31Z" fill="#EDB120" stroke="#EDB120" stroke-width="0.5"/>
<path d="M474.7 170.63H477.3L476 173.1Z" fill="#EDB120" stroke="#EDB120" stroke-width="0.5"/>
<path d="M479 170.97H481.6L480.3 173.44Z" fill="#EDB120" stroke="#EDB120" stroke-width="0.5"/>
<path d="M483.3 170.99H485.9L484.6 173.46Z" fill="#EDB120" stroke="#EDB120" stroke-width="0.5"/>
<path d="M487.6 171.01H490.2L488.9 173.48Z" fill="#EDB120" stroke="#EDB120" stroke-width="0.5"/>
<path d="M491.9 171.03H494.5L493.2 173.5Z" fill="#EDB120" stroke="#EDB120" stroke-width="0.5"/>
<path d="M496.2 171.06H498.8L497.5 173.53Z" fill="#EDB120" stroke="#EDB120" stroke-width="0.5"/>
<path d="M500.5 171.08H503.1L501.8 173.55Z" fill="#EDB120" stroke="#EDB120" stroke-width="0.5"/>
<path d="M504.8 171.1H507.4L506.1 173.57Z" fill="#EDB120" stroke="#EDB120" stroke-width="0.5"/>
<path d="M509.1 171.12H511.7L510.4 173.59Z" fill="#EDB120" stroke="#EDB120" stroke-width="0.5"/>
<path d="M513.4 171.14H516L514.7 173.61Z" fill="#EDB120" stroke="#EDB120" stroke-width="0.5"/>
<path d="M517.7 171.16H520.3L519 173.63Z" fill="#EDB120" stroke="#EDB120" stroke-width="0.5"/>
<path d="M348 100L360 120L368 127.4L377 131.4L387 135.4L396 141.4L402.4 147L409 151L416 154.4L421.6 156L426 157L431 158L436 159L442 159.6L447.5 160.6L453 162L460 164.6L464.5 166.6L469 168.6L475 170.6L480 171.5L512 172" fill="none" stroke="#7E2F8E" stroke-linejoin="round" stroke-width="1.32"/>
<circle cx="348" cy="100" r="2.0" fill="#fff" fill-opacity="0.45" stroke="#7E2F8E" stroke-width="1.15"/>
<circle cx="360" cy="120" r="2.0" fill="#fff" fill-opacity="0.45" stroke="#7E2F8E" stroke-width="1.15"/>
<circle cx="368" cy="127.4" r="2.0" fill="#fff" fill-opacity="0.45" stroke="#7E2F8E" stroke-width="1.15"/>
<circle cx="377" cy="131.4" r="2.0" fill="#fff" fill-opacity="0.45" stroke="#7E2F8E" stroke-width="1.15"/>
<circle cx="387" cy="135.4" r="2.0" fill="#fff" fill-opacity="0.45" stroke="#7E2F8E" stroke-width="1.15"/>
<circle cx="396" cy="141.4" r="2.0" fill="#fff" fill-opacity="0.45" stroke="#7E2F8E" stroke-width="1.15"/>
<circle cx="402.4" cy="147" r="2.0" fill="#fff" fill-opacity="0.45" stroke="#7E2F8E" stroke-width="1.15"/>
<circle cx="409" cy="151" r="2.0" fill="#fff" fill-opacity="0.45" stroke="#7E2F8E" stroke-width="1.15"/>
<circle cx="416" cy="154.4" r="2.0" fill="#fff" fill-opacity="0.45" stroke="#7E2F8E" stroke-width="1.15"/>
<circle cx="421.6" cy="156" r="2.0" fill="#fff" fill-opacity="0.45" stroke="#7E2F8E" stroke-width="1.15"/>
<circle cx="426" cy="157" r="2.0" fill="#fff" fill-opacity="0.45" stroke="#7E2F8E" stroke-width="1.15"/>
<circle cx="431" cy="158" r="2.0" fill="#fff" fill-opacity="0.45" stroke="#7E2F8E" stroke-width="1.15"/>
<circle cx="436" cy="159" r="2.0" fill="#fff" fill-opacity="0.45" stroke="#7E2F8E" stroke-width="1.15"/>
<circle cx="442" cy="159.6" r="2.0" fill="#fff" fill-opacity="0.45" stroke="#7E2F8E" stroke-width="1.15"/>
<circle cx="447.5" cy="160.6" r="2.0" fill="#fff" fill-opacity="0.45" stroke="#7E2F8E" stroke-width="1.15"/>
<circle cx="453" cy="162" r="2.0" fill="#fff" fill-opacity="0.45" stroke="#7E2F8E" stroke-width="1.15"/>
<circle cx="460" cy="164.6" r="2.0" fill="#fff" fill-opacity="0.45" stroke="#7E2F8E" stroke-width="1.15"/>
<circle cx="464.5" cy="166.6" r="2.0" fill="#fff" fill-opacity="0.45" stroke="#7E2F8E" stroke-width="1.15"/>
<circle cx="469" cy="168.6" r="2.0" fill="#fff" fill-opacity="0.45" stroke="#7E2F8E" stroke-width="1.15"/>
<circle cx="475" cy="170.6" r="2.0" fill="#fff" fill-opacity="0.45" stroke="#7E2F8E" stroke-width="1.15"/>
<circle cx="480" cy="171.5" r="2.0" fill="#fff" fill-opacity="0.45" stroke="#7E2F8E" stroke-width="1.15"/>
<circle cx="485.33" cy="171.58" r="2.0" fill="#fff" fill-opacity="0.45" stroke="#7E2F8E" stroke-width="1.15"/>
<circle cx="490.67" cy="171.67" r="2.0" fill="#fff" fill-opacity="0.45" stroke="#7E2F8E" stroke-width="1.15"/>
<circle cx="496" cy="171.75" r="2.0" fill="#fff" fill-opacity="0.45" stroke="#7E2F8E" stroke-width="1.15"/>
<circle cx="501.33" cy="171.83" r="2.0" fill="#fff" fill-opacity="0.45" stroke="#7E2F8E" stroke-width="1.15"/>
<circle cx="506.67" cy="171.92" r="2.0" fill="#fff" fill-opacity="0.45" stroke="#7E2F8E" stroke-width="1.15"/>
<circle cx="512" cy="172" r="2.0" fill="#fff" fill-opacity="0.45" stroke="#7E2F8E" stroke-width="1.15"/>
<path d="M343.6 98L352 122.6L358.4 133.4L365 141L371 148L377 152L382 155L387 157L393 160L398 163L403 165.4L408 168L413 170L418 171.4L423 172.4L465 172.6" fill="none" stroke="#77AC30" stroke-linejoin="round" stroke-width="1.32"/>
<circle cx="343.6" cy="98" r="2.0" fill="#77AC30"/>
<circle cx="352" cy="122.6" r="2.0" fill="#77AC30"/>
<circle cx="358.4" cy="133.4" r="2.0" fill="#77AC30"/>
<circle cx="365" cy="141" r="2.0" fill="#77AC30"/>
<circle cx="371" cy="148" r="2.0" fill="#77AC30"/>
<circle cx="377" cy="152" r="2.0" fill="#77AC30"/>
<circle cx="382" cy="155" r="2.0" fill="#77AC30"/>
<circle cx="387" cy="157" r="2.0" fill="#77AC30"/>
<circle cx="393" cy="160" r="2.0" fill="#77AC30"/>
<circle cx="398" cy="163" r="2.0" fill="#77AC30"/>
<circle cx="403" cy="165.4" r="2.0" fill="#77AC30"/>
<circle cx="408" cy="168" r="2.0" fill="#77AC30"/>
<circle cx="413" cy="170" r="2.0" fill="#77AC30"/>
<circle cx="418" cy="171.4" r="2.0" fill="#77AC30"/>
<circle cx="423" cy="172.4" r="2.0" fill="#77AC30"/>
<circle cx="426.5" cy="172.42" r="2.0" fill="#77AC30"/>
<circle cx="430" cy="172.43" r="2.0" fill="#77AC30"/>
<circle cx="433.5" cy="172.45" r="2.0" fill="#77AC30"/>
<circle cx="437" cy="172.47" r="2.0" fill="#77AC30"/>
<circle cx="440.5" cy="172.48" r="2.0" fill="#77AC30"/>
<circle cx="444" cy="172.5" r="2.0" fill="#77AC30"/>
<circle cx="447.5" cy="172.52" r="2.0" fill="#77AC30"/>
<circle cx="451" cy="172.53" r="2.0" fill="#77AC30"/>
<circle cx="454.5" cy="172.55" r="2.0" fill="#77AC30"/>
<circle cx="458" cy="172.57" r="2.0" fill="#77AC30"/>
<circle cx="461.5" cy="172.58" r="2.0" fill="#77AC30"/>
<circle cx="465" cy="172.6" r="2.0" fill="#77AC30"/>
<path d="M341.6 52L348 83L354 109L361 133L368 149L375 161L381 169L387 172.6L420 173" fill="none" stroke="#4DBEEE" stroke-linejoin="round" stroke-dasharray="2.1 0.55 0.6 0.55" stroke-width="1.3"/>
<path d="M340.4 22.6L349 86.6L358 118L364 134.6L370 146L376 154L381 160L386 165L391 169.4L396 171.6L400 172.4L448 172.6" fill="none" stroke="#A2142F" stroke-linejoin="round" stroke-width="1.32"/>
<path d="M340.4 19.6L341.13 21.59L343.25 21.67L341.59 22.99L342.16 25.03L340.4 23.85L338.64 25.03L339.21 22.99L337.55 21.67L339.67 21.59Z" fill="#A2142F" stroke="#A2142F" stroke-width="0.5"/>
<path d="M349 83.6L349.73 85.59L351.85 85.67L350.19 86.99L350.76 89.03L349 87.85L347.24 89.03L347.81 86.99L346.15 85.67L348.27 85.59Z" fill="#A2142F" stroke="#A2142F" stroke-width="0.5"/>
<path d="M358 115L358.73 116.99L360.85 117.07L359.19 118.39L359.76 120.43L358 119.25L356.24 120.43L356.81 118.39L355.15 117.07L357.27 116.99Z" fill="#A2142F" stroke="#A2142F" stroke-width="0.5"/>
<path d="M364 131.6L364.73 133.59L366.85 133.67L365.19 134.99L365.76 137.03L364 135.85L362.24 137.03L362.81 134.99L361.15 133.67L363.27 133.59Z" fill="#A2142F" stroke="#A2142F" stroke-width="0.5"/>
<path d="M370 143L370.73 144.99L372.85 145.07L371.19 146.39L371.76 148.43L370 147.25L368.24 148.43L368.81 146.39L367.15 145.07L369.27 144.99Z" fill="#A2142F" stroke="#A2142F" stroke-width="0.5"/>
<path d="M376 151L376.73 152.99L378.85 153.07L377.19 154.39L377.76 156.43L376 155.25L374.24 156.43L374.81 154.39L373.15 153.07L375.27 152.99Z" fill="#A2142F" stroke="#A2142F" stroke-width="0.5"/>
<path d="M381 157L381.73 158.99L383.85 159.07L382.19 160.39L382.76 162.43L381 161.25L379.24 162.43L379.81 160.39L378.15 159.07L380.27 158.99Z" fill="#A2142F" stroke="#A2142F" stroke-width="0.5"/>
<path d="M386 162L386.73 163.99L388.85 164.07L387.19 165.39L387.76 167.43L386 166.25L384.24 167.43L384.81 165.39L383.15 164.07L385.27 163.99Z" fill="#A2142F" stroke="#A2142F" stroke-width="0.5"/>
<path d="M391 166.4L391.73 168.39L393.85 168.47L392.19 169.79L392.76 171.83L391 170.65L389.24 171.83L389.81 169.79L388.15 168.47L390.27 168.39Z" fill="#A2142F" stroke="#A2142F" stroke-width="0.5"/>
<path d="M396 168.6L396.73 170.59L398.85 170.67L397.19 171.99L397.76 174.03L396 172.85L394.24 174.03L394.81 171.99L393.15 170.67L395.27 170.59Z" fill="#A2142F" stroke="#A2142F" stroke-width="0.5"/>
<path d="M400 169.4L400.73 171.39L402.85 171.47L401.19 172.79L401.76 174.83L400 173.65L398.24 174.83L398.81 172.79L397.15 171.47L399.27 171.39Z" fill="#A2142F" stroke="#A2142F" stroke-width="0.5"/>
<path d="M403.2 169.41L403.93 171.4L406.05 171.49L404.39 172.8L404.96 174.84L403.2 173.66L401.44 174.84L402.01 172.8L400.35 171.49L402.47 171.4Z" fill="#A2142F" stroke="#A2142F" stroke-width="0.5"/>
<path d="M406.4 169.43L407.13 171.42L409.25 171.5L407.59 172.81L408.16 174.85L406.4 173.68L404.64 174.85L405.21 172.81L403.55 171.5L405.67 171.42Z" fill="#A2142F" stroke="#A2142F" stroke-width="0.5"/>
<path d="M409.6 169.44L410.33 171.43L412.45 171.51L410.79 172.83L411.36 174.87L409.6 173.69L407.84 174.87L408.41 172.83L406.75 171.51L408.87 171.43Z" fill="#A2142F" stroke="#A2142F" stroke-width="0.5"/>
<path d="M412.8 169.45L413.53 171.44L415.65 171.53L413.99 172.84L414.56 174.88L412.8 173.7L411.04 174.88L411.61 172.84L409.95 171.53L412.07 171.44Z" fill="#A2142F" stroke="#A2142F" stroke-width="0.5"/>
<path d="M416 169.47L416.73 171.46L418.85 171.54L417.19 172.85L417.76 174.89L416 173.72L414.24 174.89L414.81 172.85L413.15 171.54L415.27 171.46Z" fill="#A2142F" stroke="#A2142F" stroke-width="0.5"/>
<path d="M419.2 169.48L419.93 171.47L422.05 171.55L420.39 172.87L420.96 174.91L419.2 173.73L417.44 174.91L418.01 172.87L416.35 171.55L418.47 171.47Z" fill="#A2142F" stroke="#A2142F" stroke-width="0.5"/>
<path d="M422.4 169.49L423.13 171.48L425.25 171.57L423.59 172.88L424.16 174.92L422.4 173.74L420.64 174.92L421.21 172.88L419.55 171.57L421.67 171.48Z" fill="#A2142F" stroke="#A2142F" stroke-width="0.5"/>
<path d="M425.6 169.51L426.33 171.5L428.45 171.58L426.79 172.89L427.36 174.93L425.6 173.76L423.84 174.93L424.41 172.89L422.75 171.58L424.87 171.5Z" fill="#A2142F" stroke="#A2142F" stroke-width="0.5"/>
<path d="M428.8 169.52L429.53 171.51L431.65 171.59L429.99 172.91L430.56 174.95L428.8 173.77L427.04 174.95L427.61 172.91L425.95 171.59L428.07 171.51Z" fill="#A2142F" stroke="#A2142F" stroke-width="0.5"/>
<path d="M432 169.53L432.73 171.52L434.85 171.61L433.19 172.92L433.76 174.96L432 173.78L430.24 174.96L430.81 172.92L429.15 171.61L431.27 171.52Z" fill="#A2142F" stroke="#A2142F" stroke-width="0.5"/>
<path d="M435.2 169.55L435.93 171.54L438.05 171.62L436.39 172.93L436.96 174.97L435.2 173.8L433.44 174.97L434.01 172.93L432.35 171.62L434.47 171.54Z" fill="#A2142F" stroke="#A2142F" stroke-width="0.5"/>
<path d="M438.4 169.56L439.13 171.55L441.25 171.63L439.59 172.95L440.16 174.99L438.4 173.81L436.64 174.99L437.21 172.95L435.55 171.63L437.67 171.55Z" fill="#A2142F" stroke="#A2142F" stroke-width="0.5"/>
<path d="M441.6 169.57L442.33 171.56L444.45 171.65L442.79 172.96L443.36 175L441.6 173.82L439.84 175L440.41 172.96L438.75 171.65L440.87 171.56Z" fill="#A2142F" stroke="#A2142F" stroke-width="0.5"/>
<path d="M444.8 169.59L445.53 171.58L447.65 171.66L445.99 172.97L446.56 175.01L444.8 173.84L443.04 175.01L443.61 172.97L441.95 171.66L444.07 171.58Z" fill="#A2142F" stroke="#A2142F" stroke-width="0.5"/>
<path d="M448 169.6L448.73 171.59L450.85 171.67L449.19 172.99L449.76 175.03L448 173.85L446.24 175.03L446.81 172.99L445.15 171.67L447.27 171.59Z" fill="#A2142F" stroke="#A2142F" stroke-width="0.5"/>
<rect x="498.25" y="21.55" width="34.6" height="56.9" fill="#fff" stroke="#7a7a7a" stroke-width="0.8"/>
<path d="M500.15 26.45H514.85" stroke="#0072BD" fill="none" stroke-width="1.32"/>
<path d="M507.5 23.8L509.3 26.45L507.5 29.1L505.7 26.45Z" fill="none" stroke="#0072BD" stroke-width="1.3"/>
<text x="516.5" y="28.4" class="lg">s=0.1</text>
<path d="M500.15 34.38H514.85" stroke="#D95319" fill="none" stroke-width="1.32"/>
<path d="M505.3 34.38H509.7M507.5 32.18V36.58" stroke="#D95319" stroke-width="1" fill="none"/>
<text x="516.5" y="36.33" class="lg">s=0.3</text>
<path d="M500.15 42.31H514.85" stroke="#EDB120" fill="none" stroke-width="1.32"/>
<path d="M506.2 41.27H508.8L507.5 43.74Z" fill="#EDB120" stroke="#EDB120" stroke-width="0.5"/>
<text x="516.5" y="44.26" class="lg">s=0.7</text>
<path d="M500.15 50.24H514.85" stroke="#7E2F8E" fill="none" stroke-width="1.32"/>
<circle cx="507.5" cy="50.24" r="2.0" fill="#fff" fill-opacity="0.45" stroke="#7E2F8E" stroke-width="1.15"/>
<text x="516.5" y="52.19" class="lg">s=1.0</text>
<path d="M500.15 58.17H514.85" stroke="#77AC30" fill="none" stroke-width="1.32"/>
<circle cx="507.5" cy="58.17" r="2.0" fill="#77AC30"/>
<text x="516.5" y="60.12" class="lg">s=1.3</text>
<path d="M500.15 66.1H514.85" stroke="#4DBEEE" fill="none" stroke-dasharray="2.1 0.55 0.6 0.55" stroke-width="1.3"/>

<text x="516.5" y="68.05" class="lg">s=1.7</text>
<path d="M500.15 74.03H514.85" stroke="#A2142F" fill="none" stroke-width="1.32"/>
<path d="M507.5 71.03L508.23 73.02L510.35 73.1L508.69 74.42L509.26 76.46L507.5 75.28L505.74 76.46L506.31 74.42L504.65 73.1L506.77 73.02Z" fill="#A2142F" stroke="#A2142F" stroke-width="0.5"/>
<text x="516.5" y="75.98" class="lg">s=1.9</text>
<text x="429" y="208.65" class="cap" text-anchor="middle"><tspan font-weight="bold">(b)</tspan> (m n r) = (100 500 15)</text>
<rect x="31.55" y="240.15" width="207.85" height="163.7" fill="#fff" stroke="#7a7a7a" stroke-width="0.8"/>
<text x="31.55" y="413.25" class="tk" text-anchor="middle">0</text>
<text x="54.64" y="413.25" class="tk" text-anchor="middle">0.05</text>
<text x="77.74" y="413.25" class="tk" text-anchor="middle">0.1</text>
<text x="100.83" y="413.25" class="tk" text-anchor="middle">0.15</text>
<text x="123.93" y="413.25" class="tk" text-anchor="middle">0.2</text>
<text x="147.02" y="413.25" class="tk" text-anchor="middle">0.25</text>
<text x="170.12" y="413.25" class="tk" text-anchor="middle">0.3</text>
<text x="193.21" y="413.25" class="tk" text-anchor="middle">0.35</text>
<text x="216.31" y="413.25" class="tk" text-anchor="middle">0.4</text>
<text x="239.4" y="413.25" class="tk" text-anchor="middle">0.45</text>
<text x="29.25" y="406.75" class="tk" text-anchor="end">0</text>
<text x="29.25" y="388.56" class="tk" text-anchor="end">0.05</text>
<text x="29.25" y="370.37" class="tk" text-anchor="end">0.1</text>
<text x="29.25" y="352.18" class="tk" text-anchor="end">0.15</text>
<text x="29.25" y="333.99" class="tk" text-anchor="end">0.2</text>
<text x="29.25" y="315.81" class="tk" text-anchor="end">0.25</text>
<text x="29.25" y="297.62" class="tk" text-anchor="end">0.3</text>
<text x="29.25" y="279.43" class="tk" text-anchor="end">0.35</text>
<text x="29.25" y="261.24" class="tk" text-anchor="end">0.4</text>
<text x="29.25" y="243.05" class="tk" text-anchor="end">0.45</text>
<path d="M31.55 403.85v-2M31.55 240.15v2M54.64 403.85v-2M54.64 240.15v2M77.74 403.85v-2M77.74 240.15v2M100.83 403.85v-2M100.83 240.15v2M123.93 403.85v-2M123.93 240.15v2M147.02 403.85v-2M147.02 240.15v2M170.12 403.85v-2M170.12 240.15v2M193.21 403.85v-2M193.21 240.15v2M216.31 403.85v-2M216.31 240.15v2M239.4 403.85v-2M239.4 240.15v2M31.55 403.85h2M239.4 403.85h-2M31.55 385.66h2M239.4 385.66h-2M31.55 367.47h2M239.4 367.47h-2M31.55 349.28h2M239.4 349.28h-2M31.55 331.09h2M239.4 331.09h-2M31.55 312.91h2M239.4 312.91h-2M31.55 294.72h2M239.4 294.72h-2M31.55 276.53h2M239.4 276.53h-2M31.55 258.34h2M239.4 258.34h-2M31.55 240.15h2M239.4 240.15h-2" stroke="#7a7a7a" stroke-width="0.8" fill="none"/>
<text x="135.17" y="236.55" class="tt" text-anchor="middle">Relative residual</text>
<text x="135.17" y="422.15" class="lb" text-anchor="middle">time(second)</text>
<text transform="translate(9.95 321.5) rotate(-90)" class="yl" text-anchor="middle">||WH - V||<tspan class="sub" dy="2.6">F</tspan><tspan dy="-2.6">/||V||</tspan><tspan class="sub" dy="2.6">F</tspan></text>
<path d="M37.6 250L47.6 258.6L57.6 273.4L65.6 295.6L74.4 310.6L82.4 323L89 328L96 330.4L101 331.6L106 332.4L111 333.2L116 334L126 335L132 335.6L137 336.2L222 347" fill="none" stroke="#0072BD" stroke-linejoin="round" stroke-width="1.32"/>
<path d="M37.6 247.35L39.4 250L37.6 252.65L35.8 250Z" fill="none" stroke="#0072BD" stroke-width="1.3"/>
<path d="M47.6 255.95L49.4 258.6L47.6 261.25L45.8 258.6Z" fill="none" stroke="#0072BD" stroke-width="1.3"/>
<path d="M57.6 270.75L59.4 273.4L57.6 276.05L55.8 273.4Z" fill="none" stroke="#0072BD" stroke-width="1.3"/>
<path d="M65.6 292.95L67.4 295.6L65.6 298.25L63.8 295.6Z" fill="none" stroke="#0072BD" stroke-width="1.3"/>
<path d="M74.4 307.95L76.2 310.6L74.4 313.25L72.6 310.6Z" fill="none" stroke="#0072BD" stroke-width="1.3"/>
<path d="M82.4 320.35L84.2 323L82.4 325.65L80.6 323Z" fill="none" stroke="#0072BD" stroke-width="1.3"/>
<path d="M89 325.35L90.8 328L89 330.65L87.2 328Z" fill="none" stroke="#0072BD" stroke-width="1.3"/>
<path d="M96 327.75L97.8 330.4L96 333.05L94.2 330.4Z" fill="none" stroke="#0072BD" stroke-width="1.3"/>
<path d="M101 328.95L102.8 331.6L101 334.25L99.2 331.6Z" fill="none" stroke="#0072BD" stroke-width="1.3"/>
<path d="M106 329.75L107.8 332.4L106 335.05L104.2 332.4Z" fill="none" stroke="#0072BD" stroke-width="1.3"/>
<path d="M111 330.55L112.8 333.2L111 335.85L109.2 333.2Z" fill="none" stroke="#0072BD" stroke-width="1.3"/>
<path d="M116 331.35L117.8 334L116 336.65L114.2 334Z" fill="none" stroke="#0072BD" stroke-width="1.3"/>
<path d="M126 332.35L127.8 335L126 337.65L124.2 335Z" fill="none" stroke="#0072BD" stroke-width="1.3"/>
<path d="M132 332.95L133.8 335.6L132 338.25L130.2 335.6Z" fill="none" stroke="#0072BD" stroke-width="1.3"/>
<path d="M137 333.55L138.8 336.2L137 338.85L135.2 336.2Z" fill="none" stroke="#0072BD" stroke-width="1.3"/>
<path d="M142.31 334.23L144.11 336.88L142.31 339.52L140.51 336.88Z" fill="none" stroke="#0072BD" stroke-width="1.3"/>
<path d="M147.62 334.9L149.43 337.55L147.62 340.2L145.82 337.55Z" fill="none" stroke="#0072BD" stroke-width="1.3"/>
<path d="M152.94 335.57L154.74 338.22L152.94 340.87L151.14 338.22Z" fill="none" stroke="#0072BD" stroke-width="1.3"/>
<path d="M158.25 336.25L160.05 338.9L158.25 341.55L156.45 338.9Z" fill="none" stroke="#0072BD" stroke-width="1.3"/>
<path d="M163.56 336.93L165.36 339.57L163.56 342.22L161.76 339.57Z" fill="none" stroke="#0072BD" stroke-width="1.3"/>
<path d="M168.88 337.6L170.68 340.25L168.88 342.9L167.07 340.25Z" fill="none" stroke="#0072BD" stroke-width="1.3"/>
<path d="M174.19 338.28L175.99 340.93L174.19 343.57L172.39 340.93Z" fill="none" stroke="#0072BD" stroke-width="1.3"/>
<path d="M179.5 338.95L181.3 341.6L179.5 344.25L177.7 341.6Z" fill="none" stroke="#0072BD" stroke-width="1.3"/>
<path d="M184.81 339.62L186.61 342.27L184.81 344.92L183.01 342.27Z" fill="none" stroke="#0072BD" stroke-width="1.3"/>
<path d="M190.12 340.3L191.93 342.95L190.12 345.6L188.32 342.95Z" fill="none" stroke="#0072BD" stroke-width="1.3"/>
<path d="M195.44 340.98L197.24 343.62L195.44 346.27L193.64 343.62Z" fill="none" stroke="#0072BD" stroke-width="1.3"/>
<path d="M200.75 341.65L202.55 344.3L200.75 346.95L198.95 344.3Z" fill="none" stroke="#0072BD" stroke-width="1.3"/>
<path d="M206.06 342.33L207.86 344.98L206.06 347.62L204.26 344.98Z" fill="none" stroke="#0072BD" stroke-width="1.3"/>
<path d="M211.38 343L213.18 345.65L211.38 348.3L209.57 345.65Z" fill="none" stroke="#0072BD" stroke-width="1.3"/>
<path d="M216.69 343.68L218.49 346.32L216.69 348.97L214.89 346.32Z" fill="none" stroke="#0072BD" stroke-width="1.3"/>
<path d="M222 344.35L223.8 347L222 349.65L220.2 347Z" fill="none" stroke="#0072BD" stroke-width="1.3"/>
<path d="M38 254L47 299L54 320L59 327.7L65 332.6L74 337.5L86 341.6L98 345.2L112 349L124 352.4L137 356L174 369.6" fill="none" stroke="#D95319" stroke-linejoin="round" stroke-width="1.32"/>
<path d="M35.8 254H40.2M38 251.8V256.2" stroke="#D95319" stroke-width="1" fill="none"/>
<path d="M44.8 299H49.2M47 296.8V301.2" stroke="#D95319" stroke-width="1" fill="none"/>
<path d="M51.8 320H56.2M54 317.8V322.2" stroke="#D95319" stroke-width="1" fill="none"/>
<path d="M56.8 327.7H61.2M59 325.5V329.9" stroke="#D95319" stroke-width="1" fill="none"/>
<path d="M60.77 330.94H65.17M62.97 328.74V333.14" stroke="#D95319" stroke-width="1" fill="none"/>
<path d="M64.73 333.65H69.13M66.93 331.45V335.85" stroke="#D95319" stroke-width="1" fill="none"/>
<path d="M68.7 335.81H73.1M70.9 333.61V338.01" stroke="#D95319" stroke-width="1" fill="none"/>
<path d="M72.66 337.79H77.06M74.86 335.59V339.99" stroke="#D95319" stroke-width="1" fill="none"/>
<path d="M76.63 339.15H81.03M78.83 336.95V341.35" stroke="#D95319" stroke-width="1" fill="none"/>
<path d="M80.59 340.5H84.99M82.79 338.3V342.7" stroke="#D95319" stroke-width="1" fill="none"/>
<path d="M84.56 341.83H88.96M86.76 339.63V344.03" stroke="#D95319" stroke-width="1" fill="none"/>
<path d="M88.52 343.02H92.92M90.72 340.82V345.22" stroke="#D95319" stroke-width="1" fill="none"/>
<path d="M92.49 344.21H96.89M94.69 342.01V346.41" stroke="#D95319" stroke-width="1" fill="none"/>
<path d="M96.46 345.38H100.86M98.66 343.18V347.58" stroke="#D95319" stroke-width="1" fill="none"/>
<path d="M100.42 346.45H104.82M102.62 344.25V348.65" stroke="#D95319" stroke-width="1" fill="none"/>
<path d="M104.39 347.53H108.79M106.59 345.33V349.73" stroke="#D95319" stroke-width="1" fill="none"/>
<path d="M108.35 348.61H112.75M110.55 346.41V350.81" stroke="#D95319" stroke-width="1" fill="none"/>
<path d="M112.32 349.71H116.72M114.52 347.51V351.91" stroke="#D95319" stroke-width="1" fill="none"/>
<path d="M116.28 350.84H120.68M118.48 348.64V353.04" stroke="#D95319" stroke-width="1" fill="none"/>
<path d="M120.25 351.96H124.65M122.45 349.76V354.16" stroke="#D95319" stroke-width="1" fill="none"/>
<path d="M124.21 353.07H128.61M126.41 350.87V355.27" stroke="#D95319" stroke-width="1" fill="none"/>
<path d="M128.18 354.17H132.58M130.38 351.97V356.37" stroke="#D95319" stroke-width="1" fill="none"/>
<path d="M132.14 355.26H136.54M134.34 353.06V357.46" stroke="#D95319" stroke-width="1" fill="none"/>
<path d="M136.11 356.48H140.51M138.31 354.28V358.68" stroke="#D95319" stroke-width="1" fill="none"/>
<path d="M140.08 357.94H144.48M142.28 355.74V360.14" stroke="#D95319" stroke-width="1" fill="none"/>
<path d="M144.04 359.4H148.44M146.24 357.2V361.6" stroke="#D95319" stroke-width="1" fill="none"/>
<path d="M148.01 360.85H152.41M150.21 358.65V363.05" stroke="#D95319" stroke-width="1" fill="none"/>
<path d="M151.97 362.31H156.37M154.17 360.11V364.51" stroke="#D95319" stroke-width="1" fill="none"/>
<path d="M155.94 363.77H160.34M158.14 361.57V365.97" stroke="#D95319" stroke-width="1" fill="none"/>
<path d="M159.9 365.23H164.3M162.1 363.03V367.43" stroke="#D95319" stroke-width="1" fill="none"/>
<path d="M163.87 366.68H168.27M166.07 364.48V368.88" stroke="#D95319" stroke-width="1" fill="none"/>
<path d="M167.83 368.14H172.23M170.03 365.94V370.34" stroke="#D95319" stroke-width="1" fill="none"/>
<path d="M171.8 369.6H176.2M174 367.4V371.8" stroke="#D95319" stroke-width="1" fill="none"/>
<path d="M39 281L43 303L48 326L53 334L66 347L78 357L90 366L102 374L114 382L126 389.6L132 393L136 394.4L152 394.6" fill="none" stroke="#EDB120" stroke-linejoin="round" stroke-width="1.32"/>
<path d="M37.7 279.96H40.3L39 282.43Z" fill="#EDB120" stroke="#EDB120" stroke-width="0.5"/>
<path d="M41.74 302.12H44.34L43.04 304.59Z" fill="#EDB120" stroke="#EDB120" stroke-width="0.5"/>
<path d="M45.77 320.69H48.37L47.07 323.16Z" fill="#EDB120" stroke="#EDB120" stroke-width="0.5"/>
<path d="M49.81 329.93H52.41L51.11 332.4Z" fill="#EDB120" stroke="#EDB120" stroke-width="0.5"/>
<path d="M53.84 335.1H56.44L55.14 337.57Z" fill="#EDB120" stroke="#EDB120" stroke-width="0.5"/>
<path d="M57.88 339.14H60.48L59.18 341.61Z" fill="#EDB120" stroke="#EDB120" stroke-width="0.5"/>
<path d="M61.91 343.17H64.51L63.21 345.64Z" fill="#EDB120" stroke="#EDB120" stroke-width="0.5"/>
<path d="M65.95 347H68.55L67.25 349.47Z" fill="#EDB120" stroke="#EDB120" stroke-width="0.5"/>
<path d="M69.99 350.36H72.59L71.29 352.83Z" fill="#EDB120" stroke="#EDB120" stroke-width="0.5"/>
<path d="M74.02 353.73H76.62L75.32 356.2Z" fill="#EDB120" stroke="#EDB120" stroke-width="0.5"/>
<path d="M78.06 356.98H80.66L79.36 359.45Z" fill="#EDB120" stroke="#EDB120" stroke-width="0.5"/>
<path d="M82.09 360H84.69L83.39 362.47Z" fill="#EDB120" stroke="#EDB120" stroke-width="0.5"/>
<path d="M86.13 363.03H88.73L87.43 365.5Z" fill="#EDB120" stroke="#EDB120" stroke-width="0.5"/>
<path d="M90.16 365.94H92.76L91.46 368.41Z" fill="#EDB120" stroke="#EDB120" stroke-width="0.5"/>
<path d="M94.2 368.63H96.8L95.5 371.1Z" fill="#EDB120" stroke="#EDB120" stroke-width="0.5"/>
<path d="M98.24 371.32H100.84L99.54 373.79Z" fill="#EDB120" stroke="#EDB120" stroke-width="0.5"/>
<path d="M102.27 374.01H104.87L103.57 376.48Z" fill="#EDB120" stroke="#EDB120" stroke-width="0.5"/>
<path d="M106.31 376.7H108.91L107.61 379.17Z" fill="#EDB120" stroke="#EDB120" stroke-width="0.5"/>
<path d="M110.34 379.39H112.94L111.64 381.86Z" fill="#EDB120" stroke="#EDB120" stroke-width="0.5"/>
<path d="M114.38 382.02H116.98L115.68 384.49Z" fill="#EDB120" stroke="#EDB120" stroke-width="0.5"/>
<path d="M118.41 384.58H121.01L119.71 387.05Z" fill="#EDB120" stroke="#EDB120" stroke-width="0.5"/>
<path d="M122.45 387.13H125.05L123.75 389.61Z" fill="#EDB120" stroke="#EDB120" stroke-width="0.5"/>
<path d="M126.49 389.57H129.09L127.79 392.04Z" fill="#EDB120" stroke="#EDB120" stroke-width="0.5"/>
<path d="M130.52 391.86H133.12L131.82 394.33Z" fill="#EDB120" stroke="#EDB120" stroke-width="0.5"/>
<path d="M134.56 393.31H137.16L135.86 395.78Z" fill="#EDB120" stroke="#EDB120" stroke-width="0.5"/>
<path d="M138.59 393.41H141.19L139.89 395.88Z" fill="#EDB120" stroke="#EDB120" stroke-width="0.5"/>
<path d="M142.63 393.46H145.23L143.93 395.93Z" fill="#EDB120" stroke="#EDB120" stroke-width="0.5"/>
<path d="M146.66 393.51H149.26L147.96 395.98Z" fill="#EDB120" stroke="#EDB120" stroke-width="0.5"/>
<path d="M150.7 393.56H153.3L152 396.03Z" fill="#EDB120" stroke="#EDB120" stroke-width="0.5"/>
<path d="M44 305L49.6 323L56 331L62.4 337.6L69 344L75.6 351L82.4 357L89 362.4L95 366.4L101.6 370.4L108 374.4L114.4 378L121 381.6L127 385L132 388L137 390.6L141.5 392.6L146 394L151 394.6L189 394.6" fill="none" stroke="#7E2F8E" stroke-linejoin="round" stroke-width="1.32"/>
<circle cx="44" cy="305" r="2.0" fill="#fff" fill-opacity="0.45" stroke="#7E2F8E" stroke-width="1.15"/>
<circle cx="49.6" cy="323" r="2.0" fill="#fff" fill-opacity="0.45" stroke="#7E2F8E" stroke-width="1.15"/>
<circle cx="56" cy="331" r="2.0" fill="#fff" fill-opacity="0.45" stroke="#7E2F8E" stroke-width="1.15"/>
<circle cx="62.4" cy="337.6" r="2.0" fill="#fff" fill-opacity="0.45" stroke="#7E2F8E" stroke-width="1.15"/>
<circle cx="69" cy="344" r="2.0" fill="#fff" fill-opacity="0.45" stroke="#7E2F8E" stroke-width="1.15"/>
<circle cx="75.6" cy="351" r="2.0" fill="#fff" fill-opacity="0.45" stroke="#7E2F8E" stroke-width="1.15"/>
<circle cx="82.4" cy="357" r="2.0" fill="#fff" fill-opacity="0.45" stroke="#7E2F8E" stroke-width="1.15"/>
<circle cx="89" cy="362.4" r="2.0" fill="#fff" fill-opacity="0.45" stroke="#7E2F8E" stroke-width="1.15"/>
<circle cx="95" cy="366.4" r="2.0" fill="#fff" fill-opacity="0.45" stroke="#7E2F8E" stroke-width="1.15"/>
<circle cx="101.6" cy="370.4" r="2.0" fill="#fff" fill-opacity="0.45" stroke="#7E2F8E" stroke-width="1.15"/>
<circle cx="108" cy="374.4" r="2.0" fill="#fff" fill-opacity="0.45" stroke="#7E2F8E" stroke-width="1.15"/>
<circle cx="114.4" cy="378" r="2.0" fill="#fff" fill-opacity="0.45" stroke="#7E2F8E" stroke-width="1.15"/>
<circle cx="121" cy="381.6" r="2.0" fill="#fff" fill-opacity="0.45" stroke="#7E2F8E" stroke-width="1.15"/>
<circle cx="127" cy="385" r="2.0" fill="#fff" fill-opacity="0.45" stroke="#7E2F8E" stroke-width="1.15"/>
<circle cx="132" cy="388" r="2.0" fill="#fff" fill-opacity="0.45" stroke="#7E2F8E" stroke-width="1.15"/>
<circle cx="137" cy="390.6" r="2.0" fill="#fff" fill-opacity="0.45" stroke="#7E2F8E" stroke-width="1.15"/>
<circle cx="141.5" cy="392.6" r="2.0" fill="#fff" fill-opacity="0.45" stroke="#7E2F8E" stroke-width="1.15"/>
<circle cx="146" cy="394" r="2.0" fill="#fff" fill-opacity="0.45" stroke="#7E2F8E" stroke-width="1.15"/>
<circle cx="151" cy="394.6" r="2.0" fill="#fff" fill-opacity="0.45" stroke="#7E2F8E" stroke-width="1.15"/>
<circle cx="155.75" cy="394.6" r="2.0" fill="#fff" fill-opacity="0.45" stroke="#7E2F8E" stroke-width="1.15"/>
<circle cx="160.5" cy="394.6" r="2.0" fill="#fff" fill-opacity="0.45" stroke="#7E2F8E" stroke-width="1.15"/>
<circle cx="165.25" cy="394.6" r="2.0" fill="#fff" fill-opacity="0.45" stroke="#7E2F8E" stroke-width="1.15"/>
<circle cx="170" cy="394.6" r="2.0" fill="#fff" fill-opacity="0.45" stroke="#7E2F8E" stroke-width="1.15"/>
<circle cx="174.75" cy="394.6" r="2.0" fill="#fff" fill-opacity="0.45" stroke="#7E2F8E" stroke-width="1.15"/>
<circle cx="179.5" cy="394.6" r="2.0" fill="#fff" fill-opacity="0.45" stroke="#7E2F8E" stroke-width="1.15"/>
<circle cx="184.25" cy="394.6" r="2.0" fill="#fff" fill-opacity="0.45" stroke="#7E2F8E" stroke-width="1.15"/>
<circle cx="189" cy="394.6" r="2.0" fill="#fff" fill-opacity="0.45" stroke="#7E2F8E" stroke-width="1.15"/>
<path d="M40.4 303L47 326L52 336L58 343L65 352L71 362L77 371L83 379L88 386L92 391L96 394L151 394.8" fill="none" stroke="#77AC30" stroke-linejoin="round" stroke-width="1.32"/>
<circle cx="40.4" cy="303" r="2.0" fill="#77AC30"/>
<circle cx="47" cy="326" r="2.0" fill="#77AC30"/>
<circle cx="52" cy="336" r="2.0" fill="#77AC30"/>
<circle cx="58" cy="343" r="2.0" fill="#77AC30"/>
<circle cx="65" cy="352" r="2.0" fill="#77AC30"/>
<circle cx="71" cy="362" r="2.0" fill="#77AC30"/>
<circle cx="77" cy="371" r="2.0" fill="#77AC30"/>
<circle cx="83" cy="379" r="2.0" fill="#77AC30"/>
<circle cx="88" cy="386" r="2.0" fill="#77AC30"/>
<circle cx="92" cy="391" r="2.0" fill="#77AC30"/>
<circle cx="96" cy="394" r="2.0" fill="#77AC30"/>
<circle cx="99.67" cy="394.05" r="2.0" fill="#77AC30"/>
<circle cx="103.33" cy="394.11" r="2.0" fill="#77AC30"/>
<circle cx="107" cy="394.16" r="2.0" fill="#77AC30"/>
<circle cx="110.67" cy="394.21" r="2.0" fill="#77AC30"/>
<circle cx="114.33" cy="394.27" r="2.0" fill="#77AC30"/>
<circle cx="118" cy="394.32" r="2.0" fill="#77AC30"/>
<circle cx="121.67" cy="394.37" r="2.0" fill="#77AC30"/>
<circle cx="125.33" cy="394.43" r="2.0" fill="#77AC30"/>
<circle cx="129" cy="394.48" r="2.0" fill="#77AC30"/>
<circle cx="132.67" cy="394.53" r="2.0" fill="#77AC30"/>
<circle cx="136.33" cy="394.59" r="2.0" fill="#77AC30"/>
<circle cx="140" cy="394.64" r="2.0" fill="#77AC30"/>
<circle cx="143.67" cy="394.69" r="2.0" fill="#77AC30"/>
<circle cx="147.33" cy="394.75" r="2.0" fill="#77AC30"/>
<circle cx="151" cy="394.8" r="2.0" fill="#77AC30"/>
<path d="M39 284L41.5 304L46.7 328L54.6 346L61 364L66.5 380L70.5 389.6L74.5 393.4L80 394.8L120 394.8" fill="none" stroke="#4DBEEE" stroke-linejoin="round" stroke-dasharray="2.1 0.55 0.6 0.55" stroke-width="1.3"/>
<path d="M40 275L47 309L56 330L62 347L68 360L73 370L78 378L84 386.4L90 392.4L94 394L98 394.6L148 394.8" fill="none" stroke="#A2142F" stroke-linejoin="round" stroke-width="1.32"/>
<path d="M40 272L40.73 273.99L42.85 274.07L41.19 275.39L41.76 277.43L40 276.25L38.24 277.43L38.81 275.39L37.15 274.07L39.27 273.99Z" fill="#A2142F" stroke="#A2142F" stroke-width="0.5"/>
<path d="M47 306L47.73 307.99L49.85 308.07L48.19 309.39L48.76 311.43L47 310.25L45.24 311.43L45.81 309.39L44.15 308.07L46.27 307.99Z" fill="#A2142F" stroke="#A2142F" stroke-width="0.5"/>
<path d="M56 327L56.73 328.99L58.85 329.07L57.19 330.39L57.76 332.43L56 331.25L54.24 332.43L54.81 330.39L53.15 329.07L55.27 328.99Z" fill="#A2142F" stroke="#A2142F" stroke-width="0.5"/>
<path d="M62 344L62.73 345.99L64.85 346.07L63.19 347.39L63.76 349.43L62 348.25L60.24 349.43L60.81 347.39L59.15 346.07L61.27 345.99Z" fill="#A2142F" stroke="#A2142F" stroke-width="0.5"/>
<path d="M68 357L68.73 358.99L70.85 359.07L69.19 360.39L69.76 362.43L68 361.25L66.24 362.43L66.81 360.39L65.15 359.07L67.27 358.99Z" fill="#A2142F" stroke="#A2142F" stroke-width="0.5"/>
<path d="M73 367L73.73 368.99L75.85 369.07L74.19 370.39L74.76 372.43L73 371.25L71.24 372.43L71.81 370.39L70.15 369.07L72.27 368.99Z" fill="#A2142F" stroke="#A2142F" stroke-width="0.5"/>
<path d="M78 375L78.73 376.99L80.85 377.07L79.19 378.39L79.76 380.43L78 379.25L76.24 380.43L76.81 378.39L75.15 377.07L77.27 376.99Z" fill="#A2142F" stroke="#A2142F" stroke-width="0.5"/>
<path d="M84 383.4L84.73 385.39L86.85 385.47L85.19 386.79L85.76 388.83L84 387.65L82.24 388.83L82.81 386.79L81.15 385.47L83.27 385.39Z" fill="#A2142F" stroke="#A2142F" stroke-width="0.5"/>
<path d="M90 389.4L90.73 391.39L92.85 391.47L91.19 392.79L91.76 394.83L90 393.65L88.24 394.83L88.81 392.79L87.15 391.47L89.27 391.39Z" fill="#A2142F" stroke="#A2142F" stroke-width="0.5"/>
<path d="M94 391L94.73 392.99L96.85 393.07L95.19 394.39L95.76 396.43L94 395.25L92.24 396.43L92.81 394.39L91.15 393.07L93.27 392.99Z" fill="#A2142F" stroke="#A2142F" stroke-width="0.5"/>
<path d="M98 391.6L98.73 393.59L100.85 393.67L99.19 394.99L99.76 397.03L98 395.85L96.24 397.03L96.81 394.99L95.15 393.67L97.27 393.59Z" fill="#A2142F" stroke="#A2142F" stroke-width="0.5"/>
<path d="M101.12 391.61L101.86 393.6L103.98 393.69L102.31 395L102.89 397.04L101.12 395.86L99.36 397.04L99.94 395L98.27 393.69L100.39 393.6Z" fill="#A2142F" stroke="#A2142F" stroke-width="0.5"/>
<path d="M104.25 391.62L104.98 393.61L107.1 393.7L105.44 395.01L106.01 397.05L104.25 395.88L102.49 397.05L103.06 395.01L101.4 393.7L103.52 393.61Z" fill="#A2142F" stroke="#A2142F" stroke-width="0.5"/>
<path d="M107.38 391.64L108.11 393.63L110.23 393.71L108.56 395.02L109.14 397.06L107.38 395.89L105.61 397.06L106.19 395.02L104.52 393.71L106.64 393.63Z" fill="#A2142F" stroke="#A2142F" stroke-width="0.5"/>
<path d="M110.5 391.65L111.23 393.64L113.35 393.72L111.69 395.04L112.26 397.08L110.5 395.9L108.74 397.08L109.31 395.04L107.65 393.72L109.77 393.64Z" fill="#A2142F" stroke="#A2142F" stroke-width="0.5"/>
<path d="M113.62 391.66L114.36 393.65L116.48 393.74L114.81 395.05L115.39 397.09L113.62 395.91L111.86 397.09L112.44 395.05L110.77 393.74L112.89 393.65Z" fill="#A2142F" stroke="#A2142F" stroke-width="0.5"/>
<path d="M116.75 391.68L117.48 393.66L119.6 393.75L117.94 395.06L118.51 397.1L116.75 395.93L114.99 397.1L115.56 395.06L113.9 393.75L116.02 393.66Z" fill="#A2142F" stroke="#A2142F" stroke-width="0.5"/>
<path d="M119.88 391.69L120.61 393.68L122.73 393.76L121.06 395.07L121.64 397.11L119.88 395.94L118.11 397.11L118.69 395.07L117.02 393.76L119.14 393.68Z" fill="#A2142F" stroke="#A2142F" stroke-width="0.5"/>
<path d="M123 391.7L123.73 393.69L125.85 393.77L124.19 395.09L124.76 397.13L123 395.95L121.24 397.13L121.81 395.09L120.15 393.77L122.27 393.69Z" fill="#A2142F" stroke="#A2142F" stroke-width="0.5"/>
<path d="M126.12 391.71L126.86 393.7L128.98 393.79L127.31 395.1L127.89 397.14L126.12 395.96L124.36 397.14L124.94 395.1L123.27 393.79L125.39 393.7Z" fill="#A2142F" stroke="#A2142F" stroke-width="0.5"/>
<path d="M129.25 391.73L129.98 393.71L132.1 393.8L130.44 395.11L131.01 397.15L129.25 395.98L127.49 397.15L128.06 395.11L126.4 393.8L128.52 393.71Z" fill="#A2142F" stroke="#A2142F" stroke-width="0.5"/>
<path d="M132.38 391.74L133.11 393.73L135.23 393.81L133.56 395.12L134.14 397.16L132.38 395.99L130.61 397.16L131.19 395.12L129.52 393.81L131.64 393.73Z" fill="#A2142F" stroke="#A2142F" stroke-width="0.5"/>
<path d="M135.5 391.75L136.23 393.74L138.35 393.82L136.69 395.14L137.26 397.18L135.5 396L133.74 397.18L134.31 395.14L132.65 393.82L134.77 393.74Z" fill="#A2142F" stroke="#A2142F" stroke-width="0.5"/>
<path d="M138.62 391.76L139.36 393.75L141.48 393.84L139.81 395.15L140.39 397.19L138.62 396.01L136.86 397.19L137.44 395.15L135.77 393.84L137.89 393.75Z" fill="#A2142F" stroke="#A2142F" stroke-width="0.5"/>
<path d="M141.75 391.78L142.48 393.76L144.6 393.85L142.94 395.16L143.51 397.2L141.75 396.03L139.99 397.2L140.56 395.16L138.9 393.85L141.02 393.76Z" fill="#A2142F" stroke="#A2142F" stroke-width="0.5"/>
<path d="M144.88 391.79L145.61 393.78L147.73 393.86L146.06 395.17L146.64 397.21L144.88 396.04L143.11 397.21L143.69 395.17L142.02 393.86L144.14 393.78Z" fill="#A2142F" stroke="#A2142F" stroke-width="0.5"/>
<path d="M148 391.8L148.73 393.79L150.85 393.87L149.19 395.19L149.76 397.23L148 396.05L146.24 397.23L146.81 395.19L145.15 393.87L147.27 393.79Z" fill="#A2142F" stroke="#A2142F" stroke-width="0.5"/>
<rect x="198.95" y="246.25" width="34.6" height="56.9" fill="#fff" stroke="#7a7a7a" stroke-width="0.8"/>
<path d="M200.85 251.15H215.55" stroke="#0072BD" fill="none" stroke-width="1.32"/>
<path d="M208.2 248.5L210 251.15L208.2 253.8L206.4 251.15Z" fill="none" stroke="#0072BD" stroke-width="1.3"/>
<text x="217.2" y="253.1" class="lg">s=0.1</text>
<path d="M200.85 259.08H215.55" stroke="#D95319" fill="none" stroke-width="1.32"/>
<path d="M206 259.08H210.4M208.2 256.88V261.28" stroke="#D95319" stroke-width="1" fill="none"/>
<text x="217.2" y="261.03" class="lg">s=0.3</text>
<path d="M200.85 267.01H215.55" stroke="#EDB120" fill="none" stroke-width="1.32"/>
<path d="M206.9 265.97H209.5L208.2 268.44Z" fill="#EDB120" stroke="#EDB120" stroke-width="0.5"/>
<text x="217.2" y="268.96" class="lg">s=0.7</text>
<path d="M200.85 274.94H215.55" stroke="#7E2F8E" fill="none" stroke-width="1.32"/>
<circle cx="208.2" cy="274.94" r="2.0" fill="#fff" fill-opacity="0.45" stroke="#7E2F8E" stroke-width="1.15"/>
<text x="217.2" y="276.89" class="lg">s=1.0</text>
<path d="M200.85 282.87H215.55" stroke="#77AC30" fill="none" stroke-width="1.32"/>
<circle cx="208.2" cy="282.87" r="2.0" fill="#77AC30"/>
<text x="217.2" y="284.82" class="lg">s=1.3</text>
<path d="M200.85 290.8H215.55" stroke="#4DBEEE" fill="none" stroke-dasharray="2.1 0.55 0.6 0.55" stroke-width="1.3"/>

<text x="217.2" y="292.75" class="lg">s=1.7</text>
<path d="M200.85 298.73H215.55" stroke="#A2142F" fill="none" stroke-width="1.32"/>
<path d="M208.2 295.73L208.93 297.72L211.05 297.8L209.39 299.12L209.96 301.16L208.2 299.98L206.44 301.16L207.01 299.12L205.35 297.8L207.47 297.72Z" fill="#A2142F" stroke="#A2142F" stroke-width="0.5"/>
<text x="217.2" y="300.68" class="lg">s=1.9</text>
<text x="129.4" y="433.45" class="cap" text-anchor="middle"><tspan font-weight="bold">(c)</tspan> (m n r) = (700 500 20)</text>
<rect x="331.6" y="240.15" width="207.1" height="163.7" fill="#fff" stroke="#7a7a7a" stroke-width="0.8"/>
<text x="331.6" y="413.25" class="tk" text-anchor="middle">0</text>
<text x="357.49" y="413.25" class="tk" text-anchor="middle">0.1</text>
<text x="383.38" y="413.25" class="tk" text-anchor="middle">0.2</text>
<text x="409.26" y="413.25" class="tk" text-anchor="middle">0.3</text>
<text x="435.15" y="413.25" class="tk" text-anchor="middle">0.4</text>
<text x="461.04" y="413.25" class="tk" text-anchor="middle">0.5</text>
<text x="486.93" y="413.25" class="tk" text-anchor="middle">0.6</text>
<text x="512.81" y="413.25" class="tk" text-anchor="middle">0.7</text>
<text x="538.7" y="413.25" class="tk" text-anchor="middle">0.8</text>
<text x="328.6" y="406.75" class="tk" text-anchor="end">0</text>
<text x="328.6" y="388.56" class="tk" text-anchor="end">0.05</text>
<text x="328.6" y="370.37" class="tk" text-anchor="end">0.1</text>
<text x="328.6" y="352.18" class="tk" text-anchor="end">0.15</text>
<text x="328.6" y="333.99" class="tk" text-anchor="end">0.2</text>
<text x="328.6" y="315.81" class="tk" text-anchor="end">0.25</text>
<text x="328.6" y="297.62" class="tk" text-anchor="end">0.3</text>
<text x="328.6" y="279.43" class="tk" text-anchor="end">0.35</text>
<text x="328.6" y="261.24" class="tk" text-anchor="end">0.4</text>
<text x="328.6" y="243.05" class="tk" text-anchor="end">0.45</text>
<path d="M331.6 403.85v-2M331.6 240.15v2M357.49 403.85v-2M357.49 240.15v2M383.38 403.85v-2M383.38 240.15v2M409.26 403.85v-2M409.26 240.15v2M435.15 403.85v-2M435.15 240.15v2M461.04 403.85v-2M461.04 240.15v2M486.93 403.85v-2M486.93 240.15v2M512.81 403.85v-2M512.81 240.15v2M538.7 403.85v-2M538.7 240.15v2M331.6 403.85h2M538.7 403.85h-2M331.6 385.66h2M538.7 385.66h-2M331.6 367.47h2M538.7 367.47h-2M331.6 349.28h2M538.7 349.28h-2M331.6 331.09h2M538.7 331.09h-2M331.6 312.91h2M538.7 312.91h-2M331.6 294.72h2M538.7 294.72h-2M331.6 276.53h2M538.7 276.53h-2M331.6 258.34h2M538.7 258.34h-2M331.6 240.15h2M538.7 240.15h-2" stroke="#7a7a7a" stroke-width="0.8" fill="none"/>
<text x="434.85" y="236.55" class="tt" text-anchor="middle">Relative residual</text>
<text x="434.85" y="422.15" class="lb" text-anchor="middle">time(second)</text>
<text transform="translate(310 321.5) rotate(-90)" class="yl" text-anchor="middle">||WH - V||<tspan class="sub" dy="2.6">F</tspan><tspan dy="-2.6">/||V||</tspan><tspan class="sub" dy="2.6">F</tspan></text>
<path d="M336.6 248L345.6 268.6L358 273L370 289.4L380.4 316.5L391.6 323.4L398.4 327L406 329.6L413 331.4L418 332.4L424 333.4L429 334L435 334.7L525.6 344" fill="none" stroke="#0072BD" stroke-linejoin="round" stroke-width="1.32"/>
<path d="M336.6 245.35L338.4 248L336.6 250.65L334.8 248Z" fill="none" stroke="#0072BD" stroke-width="1.3"/>
<path d="M345.6 265.95L347.4 268.6L345.6 271.25L343.8 268.6Z" fill="none" stroke="#0072BD" stroke-width="1.3"/>
<path d="M358 270.35L359.8 273L358 275.65L356.2 273Z" fill="none" stroke="#0072BD" stroke-width="1.3"/>
<path d="M370 286.75L371.8 289.4L370 292.05L368.2 289.4Z" fill="none" stroke="#0072BD" stroke-width="1.3"/>
<path d="M380.4 313.85L382.2 316.5L380.4 319.15L378.6 316.5Z" fill="none" stroke="#0072BD" stroke-width="1.3"/>
<path d="M391.6 320.75L393.4 323.4L391.6 326.05L389.8 323.4Z" fill="none" stroke="#0072BD" stroke-width="1.3"/>
<path d="M398.4 324.35L400.2 327L398.4 329.65L396.6 327Z" fill="none" stroke="#0072BD" stroke-width="1.3"/>
<path d="M406 326.95L407.8 329.6L406 332.25L404.2 329.6Z" fill="none" stroke="#0072BD" stroke-width="1.3"/>
<path d="M413 328.75L414.8 331.4L413 334.05L411.2 331.4Z" fill="none" stroke="#0072BD" stroke-width="1.3"/>
<path d="M418 329.75L419.8 332.4L418 335.05L416.2 332.4Z" fill="none" stroke="#0072BD" stroke-width="1.3"/>
<path d="M424 330.75L425.8 333.4L424 336.05L422.2 333.4Z" fill="none" stroke="#0072BD" stroke-width="1.3"/>
<path d="M429 331.35L430.8 334L429 336.65L427.2 334Z" fill="none" stroke="#0072BD" stroke-width="1.3"/>
<path d="M435 332.05L436.8 334.7L435 337.35L433.2 334.7Z" fill="none" stroke="#0072BD" stroke-width="1.3"/>
<path d="M440.33 332.6L442.13 335.25L440.33 337.9L438.53 335.25Z" fill="none" stroke="#0072BD" stroke-width="1.3"/>
<path d="M445.66 333.14L447.46 335.79L445.66 338.44L443.86 335.79Z" fill="none" stroke="#0072BD" stroke-width="1.3"/>
<path d="M450.99 333.69L452.79 336.34L450.99 338.99L449.19 336.34Z" fill="none" stroke="#0072BD" stroke-width="1.3"/>
<path d="M456.32 334.24L458.12 336.89L456.32 339.54L454.52 336.89Z" fill="none" stroke="#0072BD" stroke-width="1.3"/>
<path d="M461.65 334.79L463.45 337.44L461.65 340.09L459.85 337.44Z" fill="none" stroke="#0072BD" stroke-width="1.3"/>
<path d="M466.98 335.33L468.78 337.98L466.98 340.63L465.18 337.98Z" fill="none" stroke="#0072BD" stroke-width="1.3"/>
<path d="M472.31 335.88L474.11 338.53L472.31 341.18L470.51 338.53Z" fill="none" stroke="#0072BD" stroke-width="1.3"/>
<path d="M477.64 336.43L479.44 339.08L477.64 341.73L475.84 339.08Z" fill="none" stroke="#0072BD" stroke-width="1.3"/>
<path d="M482.96 336.97L484.76 339.62L482.96 342.27L481.16 339.62Z" fill="none" stroke="#0072BD" stroke-width="1.3"/>
<path d="M488.29 337.52L490.09 340.17L488.29 342.82L486.49 340.17Z" fill="none" stroke="#0072BD" stroke-width="1.3"/>
<path d="M493.62 338.07L495.42 340.72L493.62 343.37L491.82 340.72Z" fill="none" stroke="#0072BD" stroke-width="1.3"/>
<path d="M498.95 338.61L500.75 341.26L498.95 343.91L497.15 341.26Z" fill="none" stroke="#0072BD" stroke-width="1.3"/>
<path d="M504.28 339.16L506.08 341.81L504.28 344.46L502.48 341.81Z" fill="none" stroke="#0072BD" stroke-width="1.3"/>
<path d="M509.61 339.71L511.41 342.36L509.61 345.01L507.81 342.36Z" fill="none" stroke="#0072BD" stroke-width="1.3"/>
<path d="M514.94 340.26L516.74 342.91L514.94 345.56L513.14 342.91Z" fill="none" stroke="#0072BD" stroke-width="1.3"/>
<path d="M520.27 340.8L522.07 343.45L520.27 346.1L518.47 343.45Z" fill="none" stroke="#0072BD" stroke-width="1.3"/>
<path d="M525.6 341.35L527.4 344L525.6 346.65L523.8 344Z" fill="none" stroke="#0072BD" stroke-width="1.3"/>
<path d="M337 252L348 295L353 316L357 325L363 329.6L371 333L384 337L396 340L408 342.4L420 345.6L437 349.6L507 365.6" fill="none" stroke="#D95319" stroke-linejoin="round" stroke-width="1.32"/>
<path d="M334.8 252H339.2M337 249.8V254.2" stroke="#D95319" stroke-width="1" fill="none"/>
<path d="M345.8 295H350.2M348 292.8V297.2" stroke="#D95319" stroke-width="1" fill="none"/>
<path d="M350.8 316H355.2M353 313.8V318.2" stroke="#D95319" stroke-width="1" fill="none"/>
<path d="M354.8 325H359.2M357 322.8V327.2" stroke="#D95319" stroke-width="1" fill="none"/>
<path d="M359.97 328.97H364.37M362.17 326.77V331.17" stroke="#D95319" stroke-width="1" fill="none"/>
<path d="M365.14 331.45H369.54M367.34 329.25V333.65" stroke="#D95319" stroke-width="1" fill="none"/>
<path d="M370.32 333.47H374.72M372.52 331.27V335.67" stroke="#D95319" stroke-width="1" fill="none"/>
<path d="M375.49 335.06H379.89M377.69 332.86V337.26" stroke="#D95319" stroke-width="1" fill="none"/>
<path d="M380.66 336.65H385.06M382.86 334.45V338.85" stroke="#D95319" stroke-width="1" fill="none"/>
<path d="M385.83 338.01H390.23M388.03 335.81V340.21" stroke="#D95319" stroke-width="1" fill="none"/>
<path d="M391.01 339.3H395.41M393.21 337.1V341.5" stroke="#D95319" stroke-width="1" fill="none"/>
<path d="M396.18 340.48H400.58M398.38 338.28V342.68" stroke="#D95319" stroke-width="1" fill="none"/>
<path d="M401.35 341.51H405.75M403.55 339.31V343.71" stroke="#D95319" stroke-width="1" fill="none"/>
<path d="M406.52 342.59H410.92M408.72 340.39V344.79" stroke="#D95319" stroke-width="1" fill="none"/>
<path d="M411.7 343.97H416.1M413.9 341.77V346.17" stroke="#D95319" stroke-width="1" fill="none"/>
<path d="M416.87 345.35H421.27M419.07 343.15V347.55" stroke="#D95319" stroke-width="1" fill="none"/>
<path d="M422.04 346.6H426.44M424.24 344.4V348.8" stroke="#D95319" stroke-width="1" fill="none"/>
<path d="M427.21 347.82H431.61M429.41 345.62V350.02" stroke="#D95319" stroke-width="1" fill="none"/>
<path d="M432.39 349.03H436.79M434.59 346.83V351.23" stroke="#D95319" stroke-width="1" fill="none"/>
<path d="M437.56 350.23H441.96M439.76 348.03V352.43" stroke="#D95319" stroke-width="1" fill="none"/>
<path d="M442.73 351.41H447.13M444.93 349.21V353.61" stroke="#D95319" stroke-width="1" fill="none"/>
<path d="M447.9 352.6H452.3M450.1 350.4V354.8" stroke="#D95319" stroke-width="1" fill="none"/>
<path d="M453.08 353.78H457.48M455.28 351.58V355.98" stroke="#D95319" stroke-width="1" fill="none"/>
<path d="M458.25 354.96H462.65M460.45 352.76V357.16" stroke="#D95319" stroke-width="1" fill="none"/>
<path d="M463.42 356.14H467.82M465.62 353.94V358.34" stroke="#D95319" stroke-width="1" fill="none"/>
<path d="M468.59 357.32H472.99M470.79 355.12V359.52" stroke="#D95319" stroke-width="1" fill="none"/>
<path d="M473.77 358.51H478.17M475.97 356.31V360.71" stroke="#D95319" stroke-width="1" fill="none"/>
<path d="M478.94 359.69H483.34M481.14 357.49V361.89" stroke="#D95319" stroke-width="1" fill="none"/>
<path d="M484.11 360.87H488.51M486.31 358.67V363.07" stroke="#D95319" stroke-width="1" fill="none"/>
<path d="M489.28 362.05H493.68M491.48 359.85V364.25" stroke="#D95319" stroke-width="1" fill="none"/>
<path d="M494.46 363.24H498.86M496.66 361.04V365.44" stroke="#D95319" stroke-width="1" fill="none"/>
<path d="M499.63 364.42H504.03M501.83 362.22V366.62" stroke="#D95319" stroke-width="1" fill="none"/>
<path d="M504.8 365.6H509.2M507 363.4V367.8" stroke="#D95319" stroke-width="1" fill="none"/>
<path d="M342.4 294L344 302L348 312L354 328L360 336L368 341L378 345L388 349L396 353.6L404 358L410 362L416 367L422 371.6L428 375.6L437 380.5L442 383.6L452 389L460 392L467 393.8L492 394.4" fill="none" stroke="#EDB120" stroke-linejoin="round" stroke-width="1.32"/>
<path d="M341.1 292.96H343.7L342.4 295.43Z" fill="#EDB120" stroke="#EDB120" stroke-width="0.5"/>
<path d="M345.63 308.29H348.23L346.93 310.76Z" fill="#EDB120" stroke="#EDB120" stroke-width="0.5"/>
<path d="M350.17 320.2H352.77L351.47 322.67Z" fill="#EDB120" stroke="#EDB120" stroke-width="0.5"/>
<path d="M354.7 329.63H357.3L356 332.1Z" fill="#EDB120" stroke="#EDB120" stroke-width="0.5"/>
<path d="M359.23 335.29H361.83L360.53 337.76Z" fill="#EDB120" stroke="#EDB120" stroke-width="0.5"/>
<path d="M363.77 338.13H366.37L365.07 340.6Z" fill="#EDB120" stroke="#EDB120" stroke-width="0.5"/>
<path d="M368.3 340.6H370.9L369.6 343.07Z" fill="#EDB120" stroke="#EDB120" stroke-width="0.5"/>
<path d="M372.83 342.41H375.43L374.13 344.88Z" fill="#EDB120" stroke="#EDB120" stroke-width="0.5"/>
<path d="M377.37 344.23H379.97L378.67 346.7Z" fill="#EDB120" stroke="#EDB120" stroke-width="0.5"/>
<path d="M381.9 346.04H384.5L383.2 348.51Z" fill="#EDB120" stroke="#EDB120" stroke-width="0.5"/>
<path d="M386.43 347.85H389.03L387.73 350.32Z" fill="#EDB120" stroke="#EDB120" stroke-width="0.5"/>
<path d="M390.97 350.41H393.57L392.27 352.88Z" fill="#EDB120" stroke="#EDB120" stroke-width="0.5"/>
<path d="M395.5 353H398.1L396.8 355.47Z" fill="#EDB120" stroke="#EDB120" stroke-width="0.5"/>
<path d="M400.03 355.49H402.63L401.33 357.96Z" fill="#EDB120" stroke="#EDB120" stroke-width="0.5"/>
<path d="M404.57 358.2H407.17L405.87 360.67Z" fill="#EDB120" stroke="#EDB120" stroke-width="0.5"/>
<path d="M409.1 361.29H411.7L410.4 363.76Z" fill="#EDB120" stroke="#EDB120" stroke-width="0.5"/>
<path d="M413.63 365.07H416.23L414.93 367.54Z" fill="#EDB120" stroke="#EDB120" stroke-width="0.5"/>
<path d="M418.17 368.62H420.77L419.47 371.09Z" fill="#EDB120" stroke="#EDB120" stroke-width="0.5"/>
<path d="M422.7 371.89H425.3L424 374.36Z" fill="#EDB120" stroke="#EDB120" stroke-width="0.5"/>
<path d="M427.23 374.85H429.83L428.53 377.32Z" fill="#EDB120" stroke="#EDB120" stroke-width="0.5"/>
<path d="M431.77 377.32H434.37L433.07 379.79Z" fill="#EDB120" stroke="#EDB120" stroke-width="0.5"/>
<path d="M436.3 379.83H438.9L437.6 382.3Z" fill="#EDB120" stroke="#EDB120" stroke-width="0.5"/>
<path d="M440.83 382.63H443.43L442.13 385.1Z" fill="#EDB120" stroke="#EDB120" stroke-width="0.5"/>
<path d="M445.37 385.08H447.97L446.67 387.55Z" fill="#EDB120" stroke="#EDB120" stroke-width="0.5"/>
<path d="M449.9 387.53H452.5L451.2 390Z" fill="#EDB120" stroke="#EDB120" stroke-width="0.5"/>
<path d="M454.43 389.36H457.03L455.73 391.83Z" fill="#EDB120" stroke="#EDB120" stroke-width="0.5"/>
<path d="M458.97 391.03H461.57L460.27 393.5Z" fill="#EDB120" stroke="#EDB120" stroke-width="0.5"/>
<path d="M463.5 392.19H466.1L464.8 394.66Z" fill="#EDB120" stroke="#EDB120" stroke-width="0.5"/>
<path d="M468.03 392.82H470.63L469.33 395.29Z" fill="#EDB120" stroke="#EDB120" stroke-width="0.5"/>
<path d="M472.57 392.92H475.17L473.87 395.39Z" fill="#EDB120" stroke="#EDB120" stroke-width="0.5"/>
<path d="M477.1 393.03H479.7L478.4 395.5Z" fill="#EDB120" stroke="#EDB120" stroke-width="0.5"/>
<path d="M481.63 393.14H484.23L482.93 395.61Z" fill="#EDB120" stroke="#EDB120" stroke-width="0.5"/>
<path d="M486.17 393.25H488.77L487.47 395.72Z" fill="#EDB120" stroke="#EDB120" stroke-width="0.5"/>
<path d="M490.7 393.36H493.3L492 395.83Z" fill="#EDB120" stroke="#EDB120" stroke-width="0.5"/>
<path d="M345 308L353 327L360 336L367 343.6L373.6 350L379.6 356L385.6 360.4L391.6 364.4L397.6 368.4L403.6 372.4L409.6 376.4L415 380L421 383L426.4 385.6L432 388.2L438 390.4L444 392L450 393.2L456 394L499.6 394.6" fill="none" stroke="#7E2F8E" stroke-linejoin="round" stroke-width="1.32"/>
<circle cx="345" cy="308" r="2.0" fill="#fff" fill-opacity="0.45" stroke="#7E2F8E" stroke-width="1.15"/>
<circle cx="353" cy="327" r="2.0" fill="#fff" fill-opacity="0.45" stroke="#7E2F8E" stroke-width="1.15"/>
<circle cx="360" cy="336" r="2.0" fill="#fff" fill-opacity="0.45" stroke="#7E2F8E" stroke-width="1.15"/>
<circle cx="367" cy="343.6" r="2.0" fill="#fff" fill-opacity="0.45" stroke="#7E2F8E" stroke-width="1.15"/>
<circle cx="373.6" cy="350" r="2.0" fill="#fff" fill-opacity="0.45" stroke="#7E2F8E" stroke-width="1.15"/>
<circle cx="379.6" cy="356" r="2.0" fill="#fff" fill-opacity="0.45" stroke="#7E2F8E" stroke-width="1.15"/>
<circle cx="385.6" cy="360.4" r="2.0" fill="#fff" fill-opacity="0.45" stroke="#7E2F8E" stroke-width="1.15"/>
<circle cx="391.6" cy="364.4" r="2.0" fill="#fff" fill-opacity="0.45" stroke="#7E2F8E" stroke-width="1.15"/>
<circle cx="397.6" cy="368.4" r="2.0" fill="#fff" fill-opacity="0.45" stroke="#7E2F8E" stroke-width="1.15"/>
<circle cx="403.6" cy="372.4" r="2.0" fill="#fff" fill-opacity="0.45" stroke="#7E2F8E" stroke-width="1.15"/>
<circle cx="409.6" cy="376.4" r="2.0" fill="#fff" fill-opacity="0.45" stroke="#7E2F8E" stroke-width="1.15"/>
<circle cx="415" cy="380" r="2.0" fill="#fff" fill-opacity="0.45" stroke="#7E2F8E" stroke-width="1.15"/>
<circle cx="421" cy="383" r="2.0" fill="#fff" fill-opacity="0.45" stroke="#7E2F8E" stroke-width="1.15"/>
<circle cx="426.4" cy="385.6" r="2.0" fill="#fff" fill-opacity="0.45" stroke="#7E2F8E" stroke-width="1.15"/>
<circle cx="432" cy="388.2" r="2.0" fill="#fff" fill-opacity="0.45" stroke="#7E2F8E" stroke-width="1.15"/>
<circle cx="438" cy="390.4" r="2.0" fill="#fff" fill-opacity="0.45" stroke="#7E2F8E" stroke-width="1.15"/>
<circle cx="444" cy="392" r="2.0" fill="#fff" fill-opacity="0.45" stroke="#7E2F8E" stroke-width="1.15"/>
<circle cx="450" cy="393.2" r="2.0" fill="#fff" fill-opacity="0.45" stroke="#7E2F8E" stroke-width="1.15"/>
<circle cx="456" cy="394" r="2.0" fill="#fff" fill-opacity="0.45" stroke="#7E2F8E" stroke-width="1.15"/>
<circle cx="461.45" cy="394.07" r="2.0" fill="#fff" fill-opacity="0.45" stroke="#7E2F8E" stroke-width="1.15"/>
<circle cx="466.9" cy="394.15" r="2.0" fill="#fff" fill-opacity="0.45" stroke="#7E2F8E" stroke-width="1.15"/>
<circle cx="472.35" cy="394.23" r="2.0" fill="#fff" fill-opacity="0.45" stroke="#7E2F8E" stroke-width="1.15"/>
<circle cx="477.8" cy="394.3" r="2.0" fill="#fff" fill-opacity="0.45" stroke="#7E2F8E" stroke-width="1.15"/>
<circle cx="483.25" cy="394.38" r="2.0" fill="#fff" fill-opacity="0.45" stroke="#7E2F8E" stroke-width="1.15"/>
<circle cx="488.7" cy="394.45" r="2.0" fill="#fff" fill-opacity="0.45" stroke="#7E2F8E" stroke-width="1.15"/>
<circle cx="494.15" cy="394.53" r="2.0" fill="#fff" fill-opacity="0.45" stroke="#7E2F8E" stroke-width="1.15"/>
<circle cx="499.6" cy="394.6" r="2.0" fill="#fff" fill-opacity="0.45" stroke="#7E2F8E" stroke-width="1.15"/>
<path d="M341 303L349 328L356 341L364 350L371 355L378 364L385 370.4L391 376L397 381L403 384L410 387L417 390L424 392L431 393.2L437 393.8L494 394.6" fill="none" stroke="#77AC30" stroke-linejoin="round" stroke-width="1.32"/>
<circle cx="341" cy="303" r="2.0" fill="#77AC30"/>
<circle cx="349" cy="328" r="2.0" fill="#77AC30"/>
<circle cx="356" cy="341" r="2.0" fill="#77AC30"/>
<circle cx="364" cy="350" r="2.0" fill="#77AC30"/>
<circle cx="371" cy="355" r="2.0" fill="#77AC30"/>
<circle cx="378" cy="364" r="2.0" fill="#77AC30"/>
<circle cx="385" cy="370.4" r="2.0" fill="#77AC30"/>
<circle cx="391" cy="376" r="2.0" fill="#77AC30"/>
<circle cx="397" cy="381" r="2.0" fill="#77AC30"/>
<circle cx="403" cy="384" r="2.0" fill="#77AC30"/>
<circle cx="410" cy="387" r="2.0" fill="#77AC30"/>
<circle cx="417" cy="390" r="2.0" fill="#77AC30"/>
<circle cx="424" cy="392" r="2.0" fill="#77AC30"/>
<circle cx="431" cy="393.2" r="2.0" fill="#77AC30"/>
<circle cx="437" cy="393.8" r="2.0" fill="#77AC30"/>
<circle cx="441.38" cy="393.86" r="2.0" fill="#77AC30"/>
<circle cx="445.77" cy="393.92" r="2.0" fill="#77AC30"/>
<circle cx="450.15" cy="393.98" r="2.0" fill="#77AC30"/>
<circle cx="454.54" cy="394.05" r="2.0" fill="#77AC30"/>
<circle cx="458.92" cy="394.11" r="2.0" fill="#77AC30"/>
<circle cx="463.31" cy="394.17" r="2.0" fill="#77AC30"/>
<circle cx="467.69" cy="394.23" r="2.0" fill="#77AC30"/>
<circle cx="472.08" cy="394.29" r="2.0" fill="#77AC30"/>
<circle cx="476.46" cy="394.35" r="2.0" fill="#77AC30"/>
<circle cx="480.85" cy="394.42" r="2.0" fill="#77AC30"/>
<circle cx="485.23" cy="394.48" r="2.0" fill="#77AC30"/>
<circle cx="489.62" cy="394.54" r="2.0" fill="#77AC30"/>
<circle cx="494" cy="394.6" r="2.0" fill="#77AC30"/>
<path d="M339 285L342 304L347 322L354 340L360 356L366 370L371 382L376 390L381 393.6L388 394.8L430 394.8" fill="none" stroke="#4DBEEE" stroke-linejoin="round" stroke-dasharray="2.1 0.55 0.6 0.55" stroke-width="1.3"/>
<path d="M340 263L349.4 303L355 331L361 347L368 358L375 368L380.4 377L386 386L391 391.6L396 393.8L400 394.4L464 395" fill="none" stroke="#A2142F" stroke-linejoin="round" stroke-width="1.32"/>
<path d="M340 260L340.73 261.99L342.85 262.07L341.19 263.39L341.76 265.43L340 264.25L338.24 265.43L338.81 263.39L337.15 262.07L339.27 261.99Z" fill="#A2142F" stroke="#A2142F" stroke-width="0.5"/>
<path d="M349.4 300L350.13 301.99L352.25 302.07L350.59 303.39L351.16 305.43L349.4 304.25L347.64 305.43L348.21 303.39L346.55 302.07L348.67 301.99Z" fill="#A2142F" stroke="#A2142F" stroke-width="0.5"/>
<path d="M355 328L355.73 329.99L357.85 330.07L356.19 331.39L356.76 333.43L355 332.25L353.24 333.43L353.81 331.39L352.15 330.07L354.27 329.99Z" fill="#A2142F" stroke="#A2142F" stroke-width="0.5"/>
<path d="M361 344L361.73 345.99L363.85 346.07L362.19 347.39L362.76 349.43L361 348.25L359.24 349.43L359.81 347.39L358.15 346.07L360.27 345.99Z" fill="#A2142F" stroke="#A2142F" stroke-width="0.5"/>
<path d="M368 355L368.73 356.99L370.85 357.07L369.19 358.39L369.76 360.43L368 359.25L366.24 360.43L366.81 358.39L365.15 357.07L367.27 356.99Z" fill="#A2142F" stroke="#A2142F" stroke-width="0.5"/>
<path d="M375 365L375.73 366.99L377.85 367.07L376.19 368.39L376.76 370.43L375 369.25L373.24 370.43L373.81 368.39L372.15 367.07L374.27 366.99Z" fill="#A2142F" stroke="#A2142F" stroke-width="0.5"/>
<path d="M380.4 374L381.13 375.99L383.25 376.07L381.59 377.39L382.16 379.43L380.4 378.25L378.64 379.43L379.21 377.39L377.55 376.07L379.67 375.99Z" fill="#A2142F" stroke="#A2142F" stroke-width="0.5"/>
<path d="M386 383L386.73 384.99L388.85 385.07L387.19 386.39L387.76 388.43L386 387.25L384.24 388.43L384.81 386.39L383.15 385.07L385.27 384.99Z" fill="#A2142F" stroke="#A2142F" stroke-width="0.5"/>
<path d="M391 388.6L391.73 390.59L393.85 390.67L392.19 391.99L392.76 394.03L391 392.85L389.24 394.03L389.81 391.99L388.15 390.67L390.27 390.59Z" fill="#A2142F" stroke="#A2142F" stroke-width="0.5"/>
<path d="M396 390.8L396.73 392.79L398.85 392.87L397.19 394.19L397.76 396.23L396 395.05L394.24 396.23L394.81 394.19L393.15 392.87L395.27 392.79Z" fill="#A2142F" stroke="#A2142F" stroke-width="0.5"/>
<path d="M400 391.4L400.73 393.39L402.85 393.47L401.19 394.79L401.76 396.83L400 395.65L398.24 396.83L398.81 394.79L397.15 393.47L399.27 393.39Z" fill="#A2142F" stroke="#A2142F" stroke-width="0.5"/>
<path d="M403.56 391.43L404.29 393.42L406.41 393.51L404.74 394.82L405.32 396.86L403.56 395.68L401.79 396.86L402.37 394.82L400.7 393.51L402.82 393.42Z" fill="#A2142F" stroke="#A2142F" stroke-width="0.5"/>
<path d="M407.11 391.47L407.85 393.46L409.96 393.54L408.3 394.85L408.87 396.89L407.11 395.72L405.35 396.89L405.92 394.85L404.26 393.54L406.38 393.46Z" fill="#A2142F" stroke="#A2142F" stroke-width="0.5"/>
<path d="M410.67 391.5L411.4 393.49L413.52 393.57L411.86 394.89L412.43 396.93L410.67 395.75L408.9 396.93L409.48 394.89L407.81 393.57L409.93 393.49Z" fill="#A2142F" stroke="#A2142F" stroke-width="0.5"/>
<path d="M414.22 391.53L414.96 393.52L417.08 393.61L415.41 394.92L415.99 396.96L414.22 395.78L412.46 396.96L413.03 394.92L411.37 393.61L413.49 393.52Z" fill="#A2142F" stroke="#A2142F" stroke-width="0.5"/>
<path d="M417.78 391.57L418.51 393.56L420.63 393.64L418.97 394.95L419.54 396.99L417.78 395.82L416.01 396.99L416.59 394.95L414.92 393.64L417.04 393.56Z" fill="#A2142F" stroke="#A2142F" stroke-width="0.5"/>
<path d="M421.33 391.6L422.07 393.59L424.19 393.67L422.52 394.99L423.1 397.03L421.33 395.85L419.57 397.03L420.14 394.99L418.48 393.67L420.6 393.59Z" fill="#A2142F" stroke="#A2142F" stroke-width="0.5"/>
<path d="M424.89 391.63L425.62 393.62L427.74 393.71L426.08 395.02L426.65 397.06L424.89 395.88L423.13 397.06L423.7 395.02L422.04 393.71L424.15 393.62Z" fill="#A2142F" stroke="#A2142F" stroke-width="0.5"/>
<path d="M428.44 391.67L429.18 393.66L431.3 393.74L429.63 395.05L430.21 397.09L428.44 395.92L426.68 397.09L427.26 395.05L425.59 393.74L427.71 393.66Z" fill="#A2142F" stroke="#A2142F" stroke-width="0.5"/>
<path d="M432 391.7L432.73 393.69L434.85 393.77L433.19 395.09L433.76 397.13L432 395.95L430.24 397.13L430.81 395.09L429.15 393.77L431.27 393.69Z" fill="#A2142F" stroke="#A2142F" stroke-width="0.5"/>
<path d="M435.56 391.73L436.29 393.72L438.41 393.81L436.74 395.12L437.32 397.16L435.56 395.98L433.79 397.16L434.37 395.12L432.7 393.81L434.82 393.72Z" fill="#A2142F" stroke="#A2142F" stroke-width="0.5"/>
<path d="M439.11 391.77L439.85 393.76L441.96 393.84L440.3 395.15L440.87 397.19L439.11 396.02L437.35 397.19L437.92 395.15L436.26 393.84L438.38 393.76Z" fill="#A2142F" stroke="#A2142F" stroke-width="0.5"/>
<path d="M442.67 391.8L443.4 393.79L445.52 393.87L443.86 395.19L444.43 397.23L442.67 396.05L440.9 397.23L441.48 395.19L439.81 393.87L441.93 393.79Z" fill="#A2142F" stroke="#A2142F" stroke-width="0.5"/>
<path d="M446.22 391.83L446.96 393.82L449.08 393.91L447.41 395.22L447.99 397.26L446.22 396.08L444.46 397.26L445.03 395.22L443.37 393.91L445.49 393.82Z" fill="#A2142F" stroke="#A2142F" stroke-width="0.5"/>
<path d="M449.78 391.87L450.51 393.86L452.63 393.94L450.97 395.25L451.54 397.29L449.78 396.12L448.01 397.29L448.59 395.25L446.92 393.94L449.04 393.86Z" fill="#A2142F" stroke="#A2142F" stroke-width="0.5"/>
<path d="M453.33 391.9L454.07 393.89L456.19 393.97L454.52 395.29L455.1 397.33L453.33 396.15L451.57 397.33L452.14 395.29L450.48 393.97L452.6 393.89Z" fill="#A2142F" stroke="#A2142F" stroke-width="0.5"/>
<path d="M456.89 391.93L457.62 393.92L459.74 394.01L458.08 395.32L458.65 397.36L456.89 396.18L455.13 397.36L455.7 395.32L454.04 394.01L456.15 393.92Z" fill="#A2142F" stroke="#A2142F" stroke-width="0.5"/>
<path d="M460.44 391.97L461.18 393.96L463.3 394.04L461.63 395.35L462.21 397.39L460.44 396.22L458.68 397.39L459.26 395.35L457.59 394.04L459.71 393.96Z" fill="#A2142F" stroke="#A2142F" stroke-width="0.5"/>
<path d="M464 392L464.73 393.99L466.85 394.07L465.19 395.39L465.76 397.43L464 396.25L462.24 397.43L462.81 395.39L461.15 394.07L463.27 393.99Z" fill="#A2142F" stroke="#A2142F" stroke-width="0.5"/>
<rect x="498.25" y="246.25" width="34.6" height="56.9" fill="#fff" stroke="#7a7a7a" stroke-width="0.8"/>
<path d="M500.15 251.15H514.85" stroke="#0072BD" fill="none" stroke-width="1.32"/>
<path d="M507.5 248.5L509.3 251.15L507.5 253.8L505.7 251.15Z" fill="none" stroke="#0072BD" stroke-width="1.3"/>
<text x="516.5" y="253.1" class="lg">s=0.1</text>
<path d="M500.15 259.08H514.85" stroke="#D95319" fill="none" stroke-width="1.32"/>
<path d="M505.3 259.08H509.7M507.5 256.88V261.28" stroke="#D95319" stroke-width="1" fill="none"/>
<text x="516.5" y="261.03" class="lg">s=0.3</text>
<path d="M500.15 267.01H514.85" stroke="#EDB120" fill="none" stroke-width="1.32"/>
<path d="M506.2 265.97H508.8L507.5 268.44Z" fill="#EDB120" stroke="#EDB120" stroke-width="0.5"/>
<text x="516.5" y="268.96" class="lg">s=0.7</text>
<path d="M500.15 274.94H514.85" stroke="#7E2F8E" fill="none" stroke-width="1.32"/>
<circle cx="507.5" cy="274.94" r="2.0" fill="#fff" fill-opacity="0.45" stroke="#7E2F8E" stroke-width="1.15"/>
<text x="516.5" y="276.89" class="lg">s=1.0</text>
<path d="M500.15 282.87H514.85" stroke="#77AC30" fill="none" stroke-width="1.32"/>
<circle cx="507.5" cy="282.87" r="2.0" fill="#77AC30"/>
<text x="516.5" y="284.82" class="lg">s=1.3</text>
<path d="M500.15 290.8H514.85" stroke="#4DBEEE" fill="none" stroke-dasharray="2.1 0.55 0.6 0.55" stroke-width="1.3"/>

<text x="516.5" y="292.75" class="lg">s=1.7</text>
<path d="M500.15 298.73H514.85" stroke="#A2142F" fill="none" stroke-width="1.32"/>
<path d="M507.5 295.73L508.23 297.72L510.35 297.8L508.69 299.12L509.26 301.16L507.5 299.98L505.74 301.16L506.31 299.12L504.65 297.8L506.77 297.72Z" fill="#A2142F" stroke="#A2142F" stroke-width="0.5"/>
<text x="516.5" y="300.68" class="lg">s=1.9</text>
<text x="429" y="433.45" class="cap" text-anchor="middle"><tspan font-weight="bold">(d)</tspan> (m n r) = (1000 1000 25)</text>
<rect x="31.55" y="465.25" width="207.85" height="163.75" fill="#fff" stroke="#7a7a7a" stroke-width="0.8"/>
<text x="31.55" y="638.4" class="tk" text-anchor="middle">0</text>
<text x="61.24" y="638.4" class="tk" text-anchor="middle">0.5</text>
<text x="90.94" y="638.4" class="tk" text-anchor="middle">1</text>
<text x="120.63" y="638.4" class="tk" text-anchor="middle">1.5</text>
<text x="150.32" y="638.4" class="tk" text-anchor="middle">2</text>
<text x="180.01" y="638.4" class="tk" text-anchor="middle">2.5</text>
<text x="209.71" y="638.4" class="tk" text-anchor="middle">3</text>
<text x="239.4" y="638.4" class="tk" text-anchor="middle">3.5</text>
<text x="29.25" y="631.9" class="tk" text-anchor="end">0</text>
<text x="29.25" y="613.71" class="tk" text-anchor="end">0.05</text>
<text x="29.25" y="595.51" class="tk" text-anchor="end">0.1</text>
<text x="29.25" y="577.32" class="tk" text-anchor="end">0.15</text>
<text x="29.25" y="559.12" class="tk" text-anchor="end">0.2</text>
<text x="29.25" y="540.93" class="tk" text-anchor="end">0.25</text>
<text x="29.25" y="522.73" class="tk" text-anchor="end">0.3</text>
<text x="29.25" y="504.54" class="tk" text-anchor="end">0.35</text>
<text x="29.25" y="486.34" class="tk" text-anchor="end">0.4</text>
<text x="29.25" y="468.15" class="tk" text-anchor="end">0.45</text>
<path d="M31.55 629v-2M31.55 465.25v2M61.24 629v-2M61.24 465.25v2M90.94 629v-2M90.94 465.25v2M120.63 629v-2M120.63 465.25v2M150.32 629v-2M150.32 465.25v2M180.01 629v-2M180.01 465.25v2M209.71 629v-2M209.71 465.25v2M239.4 629v-2M239.4 465.25v2M31.55 629h2M239.4 629h-2M31.55 610.81h2M239.4 610.81h-2M31.55 592.61h2M239.4 592.61h-2M31.55 574.42h2M239.4 574.42h-2M31.55 556.22h2M239.4 556.22h-2M31.55 538.03h2M239.4 538.03h-2M31.55 519.83h2M239.4 519.83h-2M31.55 501.64h2M239.4 501.64h-2M31.55 483.44h2M239.4 483.44h-2M31.55 465.25h2M239.4 465.25h-2" stroke="#7a7a7a" stroke-width="0.8" fill="none"/>
<text x="135.17" y="461.65" class="tt" text-anchor="middle">Relative residual</text>
<text x="135.17" y="647.3" class="lb" text-anchor="middle">time(second)</text>
<text transform="translate(9.95 546.62) rotate(-90)" class="yl" text-anchor="middle">||WH - V||<tspan class="sub" dy="2.6">F</tspan><tspan dy="-2.6">/||V||</tspan><tspan class="sub" dy="2.6">F</tspan></text>
<path d="M38 482L45.6 503L55.6 500L67.6 510.4L77 538.5L84.4 550L92 556L99 559L106 561L112 562L118 562.6L125 563.4L131 564.2L137 565L228 574.6" fill="none" stroke="#0072BD" stroke-linejoin="round" stroke-width="1.32"/>
<path d="M38 479.35L39.8 482L38 484.65L36.2 482Z" fill="none" stroke="#0072BD" stroke-width="1.3"/>
<path d="M45.6 500.35L47.4 503L45.6 505.65L43.8 503Z" fill="none" stroke="#0072BD" stroke-width="1.3"/>
<path d="M55.6 497.35L57.4 500L55.6 502.65L53.8 500Z" fill="none" stroke="#0072BD" stroke-width="1.3"/>
<path d="M67.6 507.75L69.4 510.4L67.6 513.05L65.8 510.4Z" fill="none" stroke="#0072BD" stroke-width="1.3"/>
<path d="M77 535.85L78.8 538.5L77 541.15L75.2 538.5Z" fill="none" stroke="#0072BD" stroke-width="1.3"/>
<path d="M84.4 547.35L86.2 550L84.4 552.65L82.6 550Z" fill="none" stroke="#0072BD" stroke-width="1.3"/>
<path d="M92 553.35L93.8 556L92 558.65L90.2 556Z" fill="none" stroke="#0072BD" stroke-width="1.3"/>
<path d="M99 556.35L100.8 559L99 561.65L97.2 559Z" fill="none" stroke="#0072BD" stroke-width="1.3"/>
<path d="M106 558.35L107.8 561L106 563.65L104.2 561Z" fill="none" stroke="#0072BD" stroke-width="1.3"/>
<path d="M112 559.35L113.8 562L112 564.65L110.2 562Z" fill="none" stroke="#0072BD" stroke-width="1.3"/>
<path d="M118 559.95L119.8 562.6L118 565.25L116.2 562.6Z" fill="none" stroke="#0072BD" stroke-width="1.3"/>
<path d="M125 560.75L126.8 563.4L125 566.05L123.2 563.4Z" fill="none" stroke="#0072BD" stroke-width="1.3"/>
<path d="M131 561.55L132.8 564.2L131 566.85L129.2 564.2Z" fill="none" stroke="#0072BD" stroke-width="1.3"/>
<path d="M137 562.35L138.8 565L137 567.65L135.2 565Z" fill="none" stroke="#0072BD" stroke-width="1.3"/>
<path d="M142.69 562.95L144.49 565.6L142.69 568.25L140.89 565.6Z" fill="none" stroke="#0072BD" stroke-width="1.3"/>
<path d="M148.38 563.55L150.18 566.2L148.38 568.85L146.57 566.2Z" fill="none" stroke="#0072BD" stroke-width="1.3"/>
<path d="M154.06 564.15L155.86 566.8L154.06 569.45L152.26 566.8Z" fill="none" stroke="#0072BD" stroke-width="1.3"/>
<path d="M159.75 564.75L161.55 567.4L159.75 570.05L157.95 567.4Z" fill="none" stroke="#0072BD" stroke-width="1.3"/>
<path d="M165.44 565.35L167.24 568L165.44 570.65L163.64 568Z" fill="none" stroke="#0072BD" stroke-width="1.3"/>
<path d="M171.12 565.95L172.93 568.6L171.12 571.25L169.32 568.6Z" fill="none" stroke="#0072BD" stroke-width="1.3"/>
<path d="M176.81 566.55L178.61 569.2L176.81 571.85L175.01 569.2Z" fill="none" stroke="#0072BD" stroke-width="1.3"/>
<path d="M182.5 567.15L184.3 569.8L182.5 572.45L180.7 569.8Z" fill="none" stroke="#0072BD" stroke-width="1.3"/>
<path d="M188.19 567.75L189.99 570.4L188.19 573.05L186.39 570.4Z" fill="none" stroke="#0072BD" stroke-width="1.3"/>
<path d="M193.88 568.35L195.68 571L193.88 573.65L192.07 571Z" fill="none" stroke="#0072BD" stroke-width="1.3"/>
<path d="M199.56 568.95L201.36 571.6L199.56 574.25L197.76 571.6Z" fill="none" stroke="#0072BD" stroke-width="1.3"/>
<path d="M205.25 569.55L207.05 572.2L205.25 574.85L203.45 572.2Z" fill="none" stroke="#0072BD" stroke-width="1.3"/>
<path d="M210.94 570.15L212.74 572.8L210.94 575.45L209.14 572.8Z" fill="none" stroke="#0072BD" stroke-width="1.3"/>
<path d="M216.62 570.75L218.43 573.4L216.62 576.05L214.82 573.4Z" fill="none" stroke="#0072BD" stroke-width="1.3"/>
<path d="M222.31 571.35L224.11 574L222.31 576.65L220.51 574Z" fill="none" stroke="#0072BD" stroke-width="1.3"/>
<path d="M228 571.95L229.8 574.6L228 577.25L226.2 574.6Z" fill="none" stroke="#0072BD" stroke-width="1.3"/>
<path d="M37.4 491L46 514.5L52.5 535L56 549L60 557L66 561L74 564L88 566.6L104 569L120 571.4L137 574L170 582L214 593" fill="none" stroke="#D95319" stroke-linejoin="round" stroke-width="1.32"/>
<path d="M35.2 491H39.6M37.4 488.8V493.2" stroke="#D95319" stroke-width="1" fill="none"/>
<path d="M40.39 505.19H44.79M42.59 502.99V507.39" stroke="#D95319" stroke-width="1" fill="none"/>
<path d="M45.59 520.14H49.99M47.79 517.94V522.34" stroke="#D95319" stroke-width="1" fill="none"/>
<path d="M50.78 536.93H55.18M52.98 534.73V539.13" stroke="#D95319" stroke-width="1" fill="none"/>
<path d="M55.98 553.35H60.38M58.18 551.15V555.55" stroke="#D95319" stroke-width="1" fill="none"/>
<path d="M61.17 559.25H65.57M63.37 557.05V561.45" stroke="#D95319" stroke-width="1" fill="none"/>
<path d="M66.36 561.96H70.76M68.56 559.76V564.16" stroke="#D95319" stroke-width="1" fill="none"/>
<path d="M71.56 563.91H75.96M73.76 561.71V566.11" stroke="#D95319" stroke-width="1" fill="none"/>
<path d="M76.75 564.92H81.15M78.95 562.72V567.12" stroke="#D95319" stroke-width="1" fill="none"/>
<path d="M81.95 565.88H86.35M84.15 563.68V568.08" stroke="#D95319" stroke-width="1" fill="none"/>
<path d="M87.14 566.8H91.54M89.34 564.6V569" stroke="#D95319" stroke-width="1" fill="none"/>
<path d="M92.34 567.58H96.74M94.54 565.38V569.78" stroke="#D95319" stroke-width="1" fill="none"/>
<path d="M97.53 568.36H101.93M99.73 566.16V570.56" stroke="#D95319" stroke-width="1" fill="none"/>
<path d="M102.72 569.14H107.12M104.92 566.94V571.34" stroke="#D95319" stroke-width="1" fill="none"/>
<path d="M107.92 569.92H112.32M110.12 567.72V572.12" stroke="#D95319" stroke-width="1" fill="none"/>
<path d="M113.11 570.7H117.51M115.31 568.5V572.9" stroke="#D95319" stroke-width="1" fill="none"/>
<path d="M118.31 571.48H122.71M120.51 569.28V573.68" stroke="#D95319" stroke-width="1" fill="none"/>
<path d="M123.5 572.27H127.9M125.7 570.07V574.47" stroke="#D95319" stroke-width="1" fill="none"/>
<path d="M128.69 573.07H133.09M130.89 570.87V575.27" stroke="#D95319" stroke-width="1" fill="none"/>
<path d="M133.89 573.86H138.29M136.09 571.66V576.06" stroke="#D95319" stroke-width="1" fill="none"/>
<path d="M139.08 575.04H143.48M141.28 572.84V577.24" stroke="#D95319" stroke-width="1" fill="none"/>
<path d="M144.28 576.3H148.68M146.48 574.1V578.5" stroke="#D95319" stroke-width="1" fill="none"/>
<path d="M149.47 577.56H153.87M151.67 575.36V579.76" stroke="#D95319" stroke-width="1" fill="none"/>
<path d="M154.66 578.82H159.06M156.86 576.62V581.02" stroke="#D95319" stroke-width="1" fill="none"/>
<path d="M159.86 580.07H164.26M162.06 577.87V582.27" stroke="#D95319" stroke-width="1" fill="none"/>
<path d="M165.05 581.33H169.45M167.25 579.13V583.53" stroke="#D95319" stroke-width="1" fill="none"/>
<path d="M170.25 582.61H174.65M172.45 580.41V584.81" stroke="#D95319" stroke-width="1" fill="none"/>
<path d="M175.44 583.91H179.84M177.64 581.71V586.11" stroke="#D95319" stroke-width="1" fill="none"/>
<path d="M180.64 585.21H185.04M182.84 583.01V587.41" stroke="#D95319" stroke-width="1" fill="none"/>
<path d="M185.83 586.51H190.23M188.03 584.31V588.71" stroke="#D95319" stroke-width="1" fill="none"/>
<path d="M191.02 587.81H195.42M193.22 585.61V590.01" stroke="#D95319" stroke-width="1" fill="none"/>
<path d="M196.22 589.1H200.62M198.42 586.9V591.3" stroke="#D95319" stroke-width="1" fill="none"/>
<path d="M201.41 590.4H205.81M203.61 588.2V592.6" stroke="#D95319" stroke-width="1" fill="none"/>
<path d="M206.61 591.7H211.01M208.81 589.5V593.9" stroke="#D95319" stroke-width="1" fill="none"/>
<path d="M211.8 593H216.2M214 590.8V595.2" stroke="#D95319" stroke-width="1" fill="none"/>
<path d="M48 512L51 531L55 547L60 557L68 562L78 566L92 572L108 578.6L122 584L137 590L170 603L220 617" fill="none" stroke="#EDB120" stroke-linejoin="round" stroke-width="1.32"/>
<path d="M46.7 510.96H49.3L48 513.43Z" fill="#EDB120" stroke="#EDB120" stroke-width="0.5"/>
<path d="M50.7 533.96H53.3L52 536.43Z" fill="#EDB120" stroke="#EDB120" stroke-width="0.5"/>
<path d="M54.7 547.96H57.3L56 550.43Z" fill="#EDB120" stroke="#EDB120" stroke-width="0.5"/>
<path d="M58.7 555.96H61.3L60 558.43Z" fill="#EDB120" stroke="#EDB120" stroke-width="0.5"/>
<path d="M62.7 558.46H65.3L64 560.93Z" fill="#EDB120" stroke="#EDB120" stroke-width="0.5"/>
<path d="M66.7 560.96H69.3L68 563.43Z" fill="#EDB120" stroke="#EDB120" stroke-width="0.5"/>
<path d="M70.7 562.56H73.3L72 565.03Z" fill="#EDB120" stroke="#EDB120" stroke-width="0.5"/>
<path d="M74.7 564.16H77.3L76 566.63Z" fill="#EDB120" stroke="#EDB120" stroke-width="0.5"/>
<path d="M78.7 565.82H81.3L80 568.29Z" fill="#EDB120" stroke="#EDB120" stroke-width="0.5"/>
<path d="M82.7 567.53H85.3L84 570Z" fill="#EDB120" stroke="#EDB120" stroke-width="0.5"/>
<path d="M86.7 569.25H89.3L88 571.72Z" fill="#EDB120" stroke="#EDB120" stroke-width="0.5"/>
<path d="M90.7 570.96H93.3L92 573.43Z" fill="#EDB120" stroke="#EDB120" stroke-width="0.5"/>
<path d="M94.7 572.61H97.3L96 575.08Z" fill="#EDB120" stroke="#EDB120" stroke-width="0.5"/>
<path d="M98.7 574.26H101.3L100 576.73Z" fill="#EDB120" stroke="#EDB120" stroke-width="0.5"/>
<path d="M102.7 575.91H105.3L104 578.38Z" fill="#EDB120" stroke="#EDB120" stroke-width="0.5"/>
<path d="M106.7 577.56H109.3L108 580.03Z" fill="#EDB120" stroke="#EDB120" stroke-width="0.5"/>
<path d="M110.7 579.1H113.3L112 581.57Z" fill="#EDB120" stroke="#EDB120" stroke-width="0.5"/>
<path d="M114.7 580.65H117.3L116 583.12Z" fill="#EDB120" stroke="#EDB120" stroke-width="0.5"/>
<path d="M118.7 582.19H121.3L120 584.66Z" fill="#EDB120" stroke="#EDB120" stroke-width="0.5"/>
<path d="M122.7 583.76H125.3L124 586.23Z" fill="#EDB120" stroke="#EDB120" stroke-width="0.5"/>
<path d="M126.7 585.36H129.3L128 587.83Z" fill="#EDB120" stroke="#EDB120" stroke-width="0.5"/>
<path d="M130.7 586.96H133.3L132 589.43Z" fill="#EDB120" stroke="#EDB120" stroke-width="0.5"/>
<path d="M134.7 588.56H137.3L136 591.03Z" fill="#EDB120" stroke="#EDB120" stroke-width="0.5"/>
<path d="M138.7 590.14H141.3L140 592.61Z" fill="#EDB120" stroke="#EDB120" stroke-width="0.5"/>
<path d="M142.7 591.72H145.3L144 594.19Z" fill="#EDB120" stroke="#EDB120" stroke-width="0.5"/>
<path d="M146.7 593.29H149.3L148 595.76Z" fill="#EDB120" stroke="#EDB120" stroke-width="0.5"/>
<path d="M150.7 594.87H153.3L152 597.34Z" fill="#EDB120" stroke="#EDB120" stroke-width="0.5"/>
<path d="M154.7 596.44H157.3L156 598.91Z" fill="#EDB120" stroke="#EDB120" stroke-width="0.5"/>
<path d="M158.7 598.02H161.3L160 600.49Z" fill="#EDB120" stroke="#EDB120" stroke-width="0.5"/>
<path d="M162.7 599.6H165.3L164 602.07Z" fill="#EDB120" stroke="#EDB120" stroke-width="0.5"/>
<path d="M166.7 601.17H169.3L168 603.64Z" fill="#EDB120" stroke="#EDB120" stroke-width="0.5"/>
<path d="M170.7 602.52H173.3L172 604.99Z" fill="#EDB120" stroke="#EDB120" stroke-width="0.5"/>
<path d="M174.7 603.64H177.3L176 606.11Z" fill="#EDB120" stroke="#EDB120" stroke-width="0.5"/>
<path d="M178.7 604.76H181.3L180 607.23Z" fill="#EDB120" stroke="#EDB120" stroke-width="0.5"/>
<path d="M182.7 605.88H185.3L184 608.35Z" fill="#EDB120" stroke="#EDB120" stroke-width="0.5"/>
<path d="M186.7 607H189.3L188 609.47Z" fill="#EDB120" stroke="#EDB120" stroke-width="0.5"/>
<path d="M190.7 608.12H193.3L192 610.59Z" fill="#EDB120" stroke="#EDB120" stroke-width="0.5"/>
<path d="M194.7 609.24H197.3L196 611.71Z" fill="#EDB120" stroke="#EDB120" stroke-width="0.5"/>
<path d="M198.7 610.36H201.3L200 612.83Z" fill="#EDB120" stroke="#EDB120" stroke-width="0.5"/>
<path d="M202.7 611.48H205.3L204 613.95Z" fill="#EDB120" stroke="#EDB120" stroke-width="0.5"/>
<path d="M206.7 612.6H209.3L208 615.07Z" fill="#EDB120" stroke="#EDB120" stroke-width="0.5"/>
<path d="M210.7 613.72H213.3L212 616.19Z" fill="#EDB120" stroke="#EDB120" stroke-width="0.5"/>
<path d="M214.7 614.84H217.3L216 617.31Z" fill="#EDB120" stroke="#EDB120" stroke-width="0.5"/>
<path d="M218.7 615.96H221.3L220 618.43Z" fill="#EDB120" stroke="#EDB120" stroke-width="0.5"/>
<path d="M47 527L57.6 552.6L65 561.4L72 567L78 571.4L84 575.4L89.6 579.4L95.6 584L101 588.6L107 593L113 596.6L119 599.4L125 601.6L131 603.6L137 605L142 606.6L148 608.3L154 610L160 611.7L166 613.4L171 614.4L176 615.4L181 616.2L186 617L191 617.6L196 618.2L203 618.6L210 619" fill="none" stroke="#7E2F8E" stroke-linejoin="round" stroke-width="1.32"/>
<circle cx="47" cy="527" r="2.0" fill="#fff" fill-opacity="0.45" stroke="#7E2F8E" stroke-width="1.15"/>
<circle cx="57.6" cy="552.6" r="2.0" fill="#fff" fill-opacity="0.45" stroke="#7E2F8E" stroke-width="1.15"/>
<circle cx="65" cy="561.4" r="2.0" fill="#fff" fill-opacity="0.45" stroke="#7E2F8E" stroke-width="1.15"/>
<circle cx="72" cy="567" r="2.0" fill="#fff" fill-opacity="0.45" stroke="#7E2F8E" stroke-width="1.15"/>
<circle cx="78" cy="571.4" r="2.0" fill="#fff" fill-opacity="0.45" stroke="#7E2F8E" stroke-width="1.15"/>
<circle cx="84" cy="575.4" r="2.0" fill="#fff" fill-opacity="0.45" stroke="#7E2F8E" stroke-width="1.15"/>
<circle cx="89.6" cy="579.4" r="2.0" fill="#fff" fill-opacity="0.45" stroke="#7E2F8E" stroke-width="1.15"/>
<circle cx="95.6" cy="584" r="2.0" fill="#fff" fill-opacity="0.45" stroke="#7E2F8E" stroke-width="1.15"/>
<circle cx="101" cy="588.6" r="2.0" fill="#fff" fill-opacity="0.45" stroke="#7E2F8E" stroke-width="1.15"/>
<circle cx="107" cy="593" r="2.0" fill="#fff" fill-opacity="0.45" stroke="#7E2F8E" stroke-width="1.15"/>
<circle cx="113" cy="596.6" r="2.0" fill="#fff" fill-opacity="0.45" stroke="#7E2F8E" stroke-width="1.15"/>
<circle cx="119" cy="599.4" r="2.0" fill="#fff" fill-opacity="0.45" stroke="#7E2F8E" stroke-width="1.15"/>
<circle cx="125" cy="601.6" r="2.0" fill="#fff" fill-opacity="0.45" stroke="#7E2F8E" stroke-width="1.15"/>
<circle cx="131" cy="603.6" r="2.0" fill="#fff" fill-opacity="0.45" stroke="#7E2F8E" stroke-width="1.15"/>
<circle cx="137" cy="605" r="2.0" fill="#fff" fill-opacity="0.45" stroke="#7E2F8E" stroke-width="1.15"/>
<circle cx="142" cy="606.6" r="2.0" fill="#fff" fill-opacity="0.45" stroke="#7E2F8E" stroke-width="1.15"/>
<circle cx="148" cy="608.3" r="2.0" fill="#fff" fill-opacity="0.45" stroke="#7E2F8E" stroke-width="1.15"/>
<circle cx="154" cy="610" r="2.0" fill="#fff" fill-opacity="0.45" stroke="#7E2F8E" stroke-width="1.15"/>
<circle cx="160" cy="611.7" r="2.0" fill="#fff" fill-opacity="0.45" stroke="#7E2F8E" stroke-width="1.15"/>
<circle cx="166" cy="613.4" r="2.0" fill="#fff" fill-opacity="0.45" stroke="#7E2F8E" stroke-width="1.15"/>
<circle cx="171" cy="614.4" r="2.0" fill="#fff" fill-opacity="0.45" stroke="#7E2F8E" stroke-width="1.15"/>
<circle cx="176" cy="615.4" r="2.0" fill="#fff" fill-opacity="0.45" stroke="#7E2F8E" stroke-width="1.15"/>
<circle cx="181" cy="616.2" r="2.0" fill="#fff" fill-opacity="0.45" stroke="#7E2F8E" stroke-width="1.15"/>
<circle cx="186" cy="617" r="2.0" fill="#fff" fill-opacity="0.45" stroke="#7E2F8E" stroke-width="1.15"/>
<circle cx="191" cy="617.6" r="2.0" fill="#fff" fill-opacity="0.45" stroke="#7E2F8E" stroke-width="1.15"/>
<circle cx="196" cy="618.2" r="2.0" fill="#fff" fill-opacity="0.45" stroke="#7E2F8E" stroke-width="1.15"/>
<circle cx="203" cy="618.6" r="2.0" fill="#fff" fill-opacity="0.45" stroke="#7E2F8E" stroke-width="1.15"/>
<circle cx="210" cy="619" r="2.0" fill="#fff" fill-opacity="0.45" stroke="#7E2F8E" stroke-width="1.15"/>
<path d="M42.4 523.6L48 541L54 555L60 564L67 571L73 577.4L79.6 584L86 591L92 598L98 604L105 609L112 612.6L120 615.4L128 617.4L137 619L198 619.6" fill="none" stroke="#77AC30" stroke-linejoin="round" stroke-width="1.32"/>
<circle cx="42.4" cy="523.6" r="2.0" fill="#77AC30"/>
<circle cx="48" cy="541" r="2.0" fill="#77AC30"/>
<circle cx="54" cy="555" r="2.0" fill="#77AC30"/>
<circle cx="60" cy="564" r="2.0" fill="#77AC30"/>
<circle cx="67" cy="571" r="2.0" fill="#77AC30"/>
<circle cx="73" cy="577.4" r="2.0" fill="#77AC30"/>
<circle cx="79.6" cy="584" r="2.0" fill="#77AC30"/>
<circle cx="86" cy="591" r="2.0" fill="#77AC30"/>
<circle cx="92" cy="598" r="2.0" fill="#77AC30"/>
<circle cx="98" cy="604" r="2.0" fill="#77AC30"/>
<circle cx="105" cy="609" r="2.0" fill="#77AC30"/>
<circle cx="112" cy="612.6" r="2.0" fill="#77AC30"/>
<circle cx="120" cy="615.4" r="2.0" fill="#77AC30"/>
<circle cx="128" cy="617.4" r="2.0" fill="#77AC30"/>
<circle cx="137" cy="619" r="2.0" fill="#77AC30"/>
<circle cx="143.78" cy="619.07" r="2.0" fill="#77AC30"/>
<circle cx="150.56" cy="619.13" r="2.0" fill="#77AC30"/>
<circle cx="157.33" cy="619.2" r="2.0" fill="#77AC30"/>
<circle cx="164.11" cy="619.27" r="2.0" fill="#77AC30"/>
<circle cx="170.89" cy="619.33" r="2.0" fill="#77AC30"/>
<circle cx="177.67" cy="619.4" r="2.0" fill="#77AC30"/>
<circle cx="184.44" cy="619.47" r="2.0" fill="#77AC30"/>
<circle cx="191.22" cy="619.53" r="2.0" fill="#77AC30"/>
<circle cx="198" cy="619.6" r="2.0" fill="#77AC30"/>
<path d="M40 504L44 529L50 549L58 565L68 579L78 593L88 605L98 612L108 616L118 618.6L128 620L137 620.6L190 620.8" fill="none" stroke="#4DBEEE" stroke-linejoin="round" stroke-dasharray="2.1 0.55 0.6 0.55" stroke-width="1.3"/>
<path d="M39.6 481.6L50.4 530L58 557L66 571L72.4 580L79 589L86 596L92 602L99 607L105 610.6L110 613L116 615L122 616.6L128 618L133 619L137 619.4L214 620" fill="none" stroke="#A2142F" stroke-linejoin="round" stroke-width="1.32"/>
<path d="M39.6 478.6L40.33 480.59L42.45 480.67L40.79 481.99L41.36 484.03L39.6 482.85L37.84 484.03L38.41 481.99L36.75 480.67L38.87 480.59Z" fill="#A2142F" stroke="#A2142F" stroke-width="0.5"/>
<path d="M50.4 527L51.13 528.99L53.25 529.07L51.59 530.39L52.16 532.43L50.4 531.25L48.64 532.43L49.21 530.39L47.55 529.07L49.67 528.99Z" fill="#A2142F" stroke="#A2142F" stroke-width="0.5"/>
<path d="M58 554L58.73 555.99L60.85 556.07L59.19 557.39L59.76 559.43L58 558.25L56.24 559.43L56.81 557.39L55.15 556.07L57.27 555.99Z" fill="#A2142F" stroke="#A2142F" stroke-width="0.5"/>
<path d="M66 568L66.73 569.99L68.85 570.07L67.19 571.39L67.76 573.43L66 572.25L64.24 573.43L64.81 571.39L63.15 570.07L65.27 569.99Z" fill="#A2142F" stroke="#A2142F" stroke-width="0.5"/>
<path d="M72.4 577L73.13 578.99L75.25 579.07L73.59 580.39L74.16 582.43L72.4 581.25L70.64 582.43L71.21 580.39L69.55 579.07L71.67 578.99Z" fill="#A2142F" stroke="#A2142F" stroke-width="0.5"/>
<path d="M79 586L79.73 587.99L81.85 588.07L80.19 589.39L80.76 591.43L79 590.25L77.24 591.43L77.81 589.39L76.15 588.07L78.27 587.99Z" fill="#A2142F" stroke="#A2142F" stroke-width="0.5"/>
<path d="M86 593L86.73 594.99L88.85 595.07L87.19 596.39L87.76 598.43L86 597.25L84.24 598.43L84.81 596.39L83.15 595.07L85.27 594.99Z" fill="#A2142F" stroke="#A2142F" stroke-width="0.5"/>
<path d="M92 599L92.73 600.99L94.85 601.07L93.19 602.39L93.76 604.43L92 603.25L90.24 604.43L90.81 602.39L89.15 601.07L91.27 600.99Z" fill="#A2142F" stroke="#A2142F" stroke-width="0.5"/>
<path d="M99 604L99.73 605.99L101.85 606.07L100.19 607.39L100.76 609.43L99 608.25L97.24 609.43L97.81 607.39L96.15 606.07L98.27 605.99Z" fill="#A2142F" stroke="#A2142F" stroke-width="0.5"/>
<path d="M105 607.6L105.73 609.59L107.85 609.67L106.19 610.99L106.76 613.03L105 611.85L103.24 613.03L103.81 610.99L102.15 609.67L104.27 609.59Z" fill="#A2142F" stroke="#A2142F" stroke-width="0.5"/>
<path d="M110 610L110.73 611.99L112.85 612.07L111.19 613.39L111.76 615.43L110 614.25L108.24 615.43L108.81 613.39L107.15 612.07L109.27 611.99Z" fill="#A2142F" stroke="#A2142F" stroke-width="0.5"/>
<path d="M116 612L116.73 613.99L118.85 614.07L117.19 615.39L117.76 617.43L116 616.25L114.24 617.43L114.81 615.39L113.15 614.07L115.27 613.99Z" fill="#A2142F" stroke="#A2142F" stroke-width="0.5"/>
<path d="M122 613.6L122.73 615.59L124.85 615.67L123.19 616.99L123.76 619.03L122 617.85L120.24 619.03L120.81 616.99L119.15 615.67L121.27 615.59Z" fill="#A2142F" stroke="#A2142F" stroke-width="0.5"/>
<path d="M128 615L128.73 616.99L130.85 617.07L129.19 618.39L129.76 620.43L128 619.25L126.24 620.43L126.81 618.39L125.15 617.07L127.27 616.99Z" fill="#A2142F" stroke="#A2142F" stroke-width="0.5"/>
<path d="M133 616L133.73 617.99L135.85 618.07L134.19 619.39L134.76 621.43L133 620.25L131.24 621.43L131.81 619.39L130.15 618.07L132.27 617.99Z" fill="#A2142F" stroke="#A2142F" stroke-width="0.5"/>
<path d="M137 616.4L137.73 618.39L139.85 618.47L138.19 619.79L138.76 621.83L137 620.65L135.24 621.83L135.81 619.79L134.15 618.47L136.27 618.39Z" fill="#A2142F" stroke="#A2142F" stroke-width="0.5"/>
<path d="M142.13 616.44L142.87 618.43L144.99 618.51L143.32 619.83L143.9 621.87L142.13 620.69L140.37 621.87L140.94 619.83L139.28 618.51L141.4 618.43Z" fill="#A2142F" stroke="#A2142F" stroke-width="0.5"/>
<path d="M147.27 616.48L148 618.47L150.12 618.55L148.46 619.87L149.03 621.91L147.27 620.73L145.5 621.91L146.08 619.87L144.41 618.55L146.53 618.47Z" fill="#A2142F" stroke="#A2142F" stroke-width="0.5"/>
<path d="M152.4 616.52L153.13 618.51L155.25 618.59L153.59 619.91L154.16 621.95L152.4 620.77L150.64 621.95L151.21 619.91L149.55 618.59L151.67 618.51Z" fill="#A2142F" stroke="#A2142F" stroke-width="0.5"/>
<path d="M157.53 616.56L158.27 618.55L160.39 618.63L158.72 619.95L159.3 621.99L157.53 620.81L155.77 621.99L156.34 619.95L154.68 618.63L156.8 618.55Z" fill="#A2142F" stroke="#A2142F" stroke-width="0.5"/>
<path d="M162.67 616.6L163.4 618.59L165.52 618.67L163.86 619.99L164.43 622.03L162.67 620.85L160.9 622.03L161.48 619.99L159.81 618.67L161.93 618.59Z" fill="#A2142F" stroke="#A2142F" stroke-width="0.5"/>
<path d="M167.8 616.64L168.53 618.63L170.65 618.71L168.99 620.03L169.56 622.07L167.8 620.89L166.04 622.07L166.61 620.03L164.95 618.71L167.07 618.63Z" fill="#A2142F" stroke="#A2142F" stroke-width="0.5"/>
<path d="M172.93 616.68L173.67 618.67L175.79 618.75L174.12 620.07L174.7 622.11L172.93 620.93L171.17 622.11L171.74 620.07L170.08 618.75L172.2 618.67Z" fill="#A2142F" stroke="#A2142F" stroke-width="0.5"/>
<path d="M178.07 616.72L178.8 618.71L180.92 618.79L179.26 620.11L179.83 622.15L178.07 620.97L176.3 622.15L176.88 620.11L175.21 618.79L177.33 618.71Z" fill="#A2142F" stroke="#A2142F" stroke-width="0.5"/>
<path d="M183.2 616.76L183.93 618.75L186.05 618.83L184.39 620.15L184.96 622.19L183.2 621.01L181.44 622.19L182.01 620.15L180.35 618.83L182.47 618.75Z" fill="#A2142F" stroke="#A2142F" stroke-width="0.5"/>
<path d="M188.33 616.8L189.07 618.79L191.19 618.87L189.52 620.19L190.1 622.23L188.33 621.05L186.57 622.23L187.14 620.19L185.48 618.87L187.6 618.79Z" fill="#A2142F" stroke="#A2142F" stroke-width="0.5"/>
<path d="M193.47 616.84L194.2 618.83L196.32 618.91L194.66 620.23L195.23 622.27L193.47 621.09L191.7 622.27L192.28 620.23L190.61 618.91L192.73 618.83Z" fill="#A2142F" stroke="#A2142F" stroke-width="0.5"/>
<path d="M198.6 616.88L199.33 618.87L201.45 618.95L199.79 620.27L200.36 622.31L198.6 621.13L196.84 622.31L197.41 620.27L195.75 618.95L197.87 618.87Z" fill="#A2142F" stroke="#A2142F" stroke-width="0.5"/>
<path d="M203.73 616.92L204.47 618.91L206.59 618.99L204.92 620.31L205.5 622.35L203.73 621.17L201.97 622.35L202.54 620.31L200.88 618.99L203 618.91Z" fill="#A2142F" stroke="#A2142F" stroke-width="0.5"/>
<path d="M208.87 616.96L209.6 618.95L211.72 619.03L210.06 620.35L210.63 622.39L208.87 621.21L207.1 622.39L207.68 620.35L206.01 619.03L208.13 618.95Z" fill="#A2142F" stroke="#A2142F" stroke-width="0.5"/>
<path d="M214 617L214.73 618.99L216.85 619.07L215.19 620.39L215.76 622.43L214 621.25L212.24 622.43L212.81 620.39L211.15 619.07L213.27 618.99Z" fill="#A2142F" stroke="#A2142F" stroke-width="0.5"/>
<rect x="198.95" y="471.35" width="34.6" height="56.9" fill="#fff" stroke="#7a7a7a" stroke-width="0.8"/>
<path d="M200.85 476.25H215.55" stroke="#0072BD" fill="none" stroke-width="1.32"/>
<path d="M208.2 473.6L210 476.25L208.2 478.9L206.4 476.25Z" fill="none" stroke="#0072BD" stroke-width="1.3"/>
<text x="217.2" y="478.2" class="lg">s=0.1</text>
<path d="M200.85 484.18H215.55" stroke="#D95319" fill="none" stroke-width="1.32"/>
<path d="M206 484.18H210.4M208.2 481.98V486.38" stroke="#D95319" stroke-width="1" fill="none"/>
<text x="217.2" y="486.13" class="lg">s=0.3</text>
<path d="M200.85 492.11H215.55" stroke="#EDB120" fill="none" stroke-width="1.32"/>
<path d="M206.9 491.07H209.5L208.2 493.54Z" fill="#EDB120" stroke="#EDB120" stroke-width="0.5"/>
<text x="217.2" y="494.06" class="lg">s=0.7</text>
<path d="M200.85 500.04H215.55" stroke="#7E2F8E" fill="none" stroke-width="1.32"/>
<circle cx="208.2" cy="500.04" r="2.0" fill="#fff" fill-opacity="0.45" stroke="#7E2F8E" stroke-width="1.15"/>
<text x="217.2" y="501.99" class="lg">s=1.0</text>
<path d="M200.85 507.97H215.55" stroke="#77AC30" fill="none" stroke-width="1.32"/>
<circle cx="208.2" cy="507.97" r="2.0" fill="#77AC30"/>
<text x="217.2" y="509.92" class="lg">s=1.3</text>
<path d="M200.85 515.9H215.55" stroke="#4DBEEE" fill="none" stroke-dasharray="2.1 0.55 0.6 0.55" stroke-width="1.3"/>

<text x="217.2" y="517.85" class="lg">s=1.7</text>
<path d="M200.85 523.83H215.55" stroke="#A2142F" fill="none" stroke-width="1.32"/>
<path d="M208.2 520.83L208.93 522.82L211.05 522.9L209.39 524.22L209.96 526.26L208.2 525.08L206.44 526.26L207.01 524.22L205.35 522.9L207.47 522.82Z" fill="#A2142F" stroke="#A2142F" stroke-width="0.5"/>
<text x="217.2" y="525.78" class="lg">s=1.9</text>
<text x="129.4" y="658.6" class="cap" text-anchor="middle"><tspan font-weight="bold">(e)</tspan> (m n r) = (1000 5000 30)</text>
<rect x="331.6" y="465.25" width="207.1" height="163.75" fill="#fff" stroke="#7a7a7a" stroke-width="0.8"/>
<text x="331.6" y="638.4" class="tk" text-anchor="middle">0</text>
<text x="361.19" y="638.4" class="tk" text-anchor="middle">1</text>
<text x="390.77" y="638.4" class="tk" text-anchor="middle">2</text>
<text x="420.36" y="638.4" class="tk" text-anchor="middle">3</text>
<text x="449.94" y="638.4" class="tk" text-anchor="middle">4</text>
<text x="479.53" y="638.4" class="tk" text-anchor="middle">5</text>
<text x="509.11" y="638.4" class="tk" text-anchor="middle">6</text>
<text x="538.7" y="638.4" class="tk" text-anchor="middle">7</text>
<text x="328.6" y="631.9" class="tk" text-anchor="end">0</text>
<text x="328.6" y="611.43" class="tk" text-anchor="end">0.05</text>
<text x="328.6" y="590.96" class="tk" text-anchor="end">0.1</text>
<text x="328.6" y="570.49" class="tk" text-anchor="end">0.15</text>
<text x="328.6" y="550.02" class="tk" text-anchor="end">0.2</text>
<text x="328.6" y="529.56" class="tk" text-anchor="end">0.25</text>
<text x="328.6" y="509.09" class="tk" text-anchor="end">0.3</text>
<text x="328.6" y="488.62" class="tk" text-anchor="end">0.35</text>
<text x="328.6" y="468.15" class="tk" text-anchor="end">0.4</text>
<path d="M331.6 629v-2M331.6 465.25v2M361.19 629v-2M361.19 465.25v2M390.77 629v-2M390.77 465.25v2M420.36 629v-2M420.36 465.25v2M449.94 629v-2M449.94 465.25v2M479.53 629v-2M479.53 465.25v2M509.11 629v-2M509.11 465.25v2M538.7 629v-2M538.7 465.25v2M331.6 629h2M538.7 629h-2M331.6 608.53h2M538.7 608.53h-2M331.6 588.06h2M538.7 588.06h-2M331.6 567.59h2M538.7 567.59h-2M331.6 547.12h2M538.7 547.12h-2M331.6 526.66h2M538.7 526.66h-2M331.6 506.19h2M538.7 506.19h-2M331.6 485.72h2M538.7 485.72h-2M331.6 465.25h2M538.7 465.25h-2" stroke="#7a7a7a" stroke-width="0.8" fill="none"/>
<text x="434.85" y="461.65" class="tt" text-anchor="middle">Relative residual</text>
<text x="434.85" y="647.3" class="lb" text-anchor="middle">time(second)</text>
<text transform="translate(310 546.62) rotate(-90)" class="yl" text-anchor="middle">||WH - V||<tspan class="sub" dy="2.6">F</tspan><tspan dy="-2.6">/||V||</tspan><tspan class="sub" dy="2.6">F</tspan></text>
<path d="M336.4 478.4L343 491L354.6 497.4L367.6 511.6L379 533.5L387.4 541.5L396.4 548.8L403.6 553.4L411 555.4L418.4 556.6L426 557.6L434 558.6L538.5 566" fill="none" stroke="#0072BD" stroke-linejoin="round" stroke-width="1.32"/>
<path d="M336.4 475.75L338.2 478.4L336.4 481.05L334.6 478.4Z" fill="none" stroke="#0072BD" stroke-width="1.3"/>
<path d="M343 488.35L344.8 491L343 493.65L341.2 491Z" fill="none" stroke="#0072BD" stroke-width="1.3"/>
<path d="M354.6 494.75L356.4 497.4L354.6 500.05L352.8 497.4Z" fill="none" stroke="#0072BD" stroke-width="1.3"/>
<path d="M367.6 508.95L369.4 511.6L367.6 514.25L365.8 511.6Z" fill="none" stroke="#0072BD" stroke-width="1.3"/>
<path d="M379 530.85L380.8 533.5L379 536.15L377.2 533.5Z" fill="none" stroke="#0072BD" stroke-width="1.3"/>
<path d="M387.4 538.85L389.2 541.5L387.4 544.15L385.6 541.5Z" fill="none" stroke="#0072BD" stroke-width="1.3"/>
<path d="M396.4 546.15L398.2 548.8L396.4 551.45L394.6 548.8Z" fill="none" stroke="#0072BD" stroke-width="1.3"/>
<path d="M403.6 550.75L405.4 553.4L403.6 556.05L401.8 553.4Z" fill="none" stroke="#0072BD" stroke-width="1.3"/>
<path d="M411 552.75L412.8 555.4L411 558.05L409.2 555.4Z" fill="none" stroke="#0072BD" stroke-width="1.3"/>
<path d="M418.4 553.95L420.2 556.6L418.4 559.25L416.6 556.6Z" fill="none" stroke="#0072BD" stroke-width="1.3"/>
<path d="M426 554.95L427.8 557.6L426 560.25L424.2 557.6Z" fill="none" stroke="#0072BD" stroke-width="1.3"/>
<path d="M434 555.95L435.8 558.6L434 561.25L432.2 558.6Z" fill="none" stroke="#0072BD" stroke-width="1.3"/>
<path d="M439.81 556.36L441.61 559.01L439.81 561.66L438.01 559.01Z" fill="none" stroke="#0072BD" stroke-width="1.3"/>
<path d="M445.61 556.77L447.41 559.42L445.61 562.07L443.81 559.42Z" fill="none" stroke="#0072BD" stroke-width="1.3"/>
<path d="M451.42 557.18L453.22 559.83L451.42 562.48L449.62 559.83Z" fill="none" stroke="#0072BD" stroke-width="1.3"/>
<path d="M457.22 557.59L459.02 560.24L457.22 562.89L455.42 560.24Z" fill="none" stroke="#0072BD" stroke-width="1.3"/>
<path d="M463.03 558.01L464.83 560.66L463.03 563.31L461.23 560.66Z" fill="none" stroke="#0072BD" stroke-width="1.3"/>
<path d="M468.83 558.42L470.63 561.07L468.83 563.72L467.03 561.07Z" fill="none" stroke="#0072BD" stroke-width="1.3"/>
<path d="M474.64 558.83L476.44 561.48L474.64 564.13L472.84 561.48Z" fill="none" stroke="#0072BD" stroke-width="1.3"/>
<path d="M480.44 559.24L482.24 561.89L480.44 564.54L478.64 561.89Z" fill="none" stroke="#0072BD" stroke-width="1.3"/>
<path d="M486.25 559.65L488.05 562.3L486.25 564.95L484.45 562.3Z" fill="none" stroke="#0072BD" stroke-width="1.3"/>
<path d="M492.06 560.06L493.86 562.71L492.06 565.36L490.26 562.71Z" fill="none" stroke="#0072BD" stroke-width="1.3"/>
<path d="M497.86 560.47L499.66 563.12L497.86 565.77L496.06 563.12Z" fill="none" stroke="#0072BD" stroke-width="1.3"/>
<path d="M503.67 560.88L505.47 563.53L503.67 566.18L501.87 563.53Z" fill="none" stroke="#0072BD" stroke-width="1.3"/>
<path d="M509.47 561.29L511.27 563.94L509.47 566.59L507.67 563.94Z" fill="none" stroke="#0072BD" stroke-width="1.3"/>
<path d="M515.28 561.71L517.08 564.36L515.28 567.01L513.48 564.36Z" fill="none" stroke="#0072BD" stroke-width="1.3"/>
<path d="M521.08 562.12L522.88 564.77L521.08 567.42L519.28 564.77Z" fill="none" stroke="#0072BD" stroke-width="1.3"/>
<path d="M526.89 562.53L528.69 565.18L526.89 567.83L525.09 565.18Z" fill="none" stroke="#0072BD" stroke-width="1.3"/>
<path d="M532.69 562.94L534.49 565.59L532.69 568.24L530.89 565.59Z" fill="none" stroke="#0072BD" stroke-width="1.3"/>
<path d="M538.5 563.35L540.3 566L538.5 568.65L536.7 566Z" fill="none" stroke="#0072BD" stroke-width="1.3"/>
<path d="M336.4 479L349 525L357.6 547L367 556L376 558.6L388 560.6L402 562.6L416 564.6L437 567.6L462 572L492 579L519 586.6" fill="none" stroke="#D95319" stroke-linejoin="round" stroke-width="1.32"/>
<path d="M334.2 479H338.6M336.4 476.8V481.2" stroke="#D95319" stroke-width="1" fill="none"/>
<path d="M346.8 525H351.2M349 522.8V527.2" stroke="#D95319" stroke-width="1" fill="none"/>
<path d="M355.4 547H359.8M357.6 544.8V549.2" stroke="#D95319" stroke-width="1" fill="none"/>
<path d="M364.8 556H369.2M367 553.8V558.2" stroke="#D95319" stroke-width="1" fill="none"/>
<path d="M370.88 557.76H375.28M373.08 555.56V559.96" stroke="#D95319" stroke-width="1" fill="none"/>
<path d="M376.96 559.13H381.36M379.16 556.93V561.33" stroke="#D95319" stroke-width="1" fill="none"/>
<path d="M383.04 560.14H387.44M385.24 557.94V562.34" stroke="#D95319" stroke-width="1" fill="none"/>
<path d="M389.12 561.07H393.52M391.32 558.87V563.27" stroke="#D95319" stroke-width="1" fill="none"/>
<path d="M395.2 561.94H399.6M397.4 559.74V564.14" stroke="#D95319" stroke-width="1" fill="none"/>
<path d="M401.28 562.81H405.68M403.48 560.61V565.01" stroke="#D95319" stroke-width="1" fill="none"/>
<path d="M407.36 563.68H411.76M409.56 561.48V565.88" stroke="#D95319" stroke-width="1" fill="none"/>
<path d="M413.44 564.55H417.84M415.64 562.35V566.75" stroke="#D95319" stroke-width="1" fill="none"/>
<path d="M419.52 565.42H423.92M421.72 563.22V567.62" stroke="#D95319" stroke-width="1" fill="none"/>
<path d="M425.6 566.29H430M427.8 564.09V568.49" stroke="#D95319" stroke-width="1" fill="none"/>
<path d="M431.68 567.15H436.08M433.88 564.95V569.35" stroke="#D95319" stroke-width="1" fill="none"/>
<path d="M437.76 568.12H442.16M439.96 565.92V570.32" stroke="#D95319" stroke-width="1" fill="none"/>
<path d="M443.84 569.19H448.24M446.04 566.99V571.39" stroke="#D95319" stroke-width="1" fill="none"/>
<path d="M449.92 570.26H454.32M452.12 568.06V572.46" stroke="#D95319" stroke-width="1" fill="none"/>
<path d="M456 571.33H460.4M458.2 569.13V573.53" stroke="#D95319" stroke-width="1" fill="none"/>
<path d="M462.08 572.53H466.48M464.28 570.33V574.73" stroke="#D95319" stroke-width="1" fill="none"/>
<path d="M468.16 573.95H472.56M470.36 571.75V576.15" stroke="#D95319" stroke-width="1" fill="none"/>
<path d="M474.24 575.37H478.64M476.44 573.17V577.57" stroke="#D95319" stroke-width="1" fill="none"/>
<path d="M480.32 576.79H484.72M482.52 574.59V578.99" stroke="#D95319" stroke-width="1" fill="none"/>
<path d="M486.4 578.21H490.8M488.6 576.01V580.41" stroke="#D95319" stroke-width="1" fill="none"/>
<path d="M492.48 579.75H496.88M494.68 577.55V581.95" stroke="#D95319" stroke-width="1" fill="none"/>
<path d="M498.56 581.47H502.96M500.76 579.27V583.67" stroke="#D95319" stroke-width="1" fill="none"/>
<path d="M504.64 583.18H509.04M506.84 580.98V585.38" stroke="#D95319" stroke-width="1" fill="none"/>
<path d="M510.72 584.89H515.12M512.92 582.69V587.09" stroke="#D95319" stroke-width="1" fill="none"/>
<path d="M516.8 586.6H521.2M519 584.4V588.8" stroke="#D95319" stroke-width="1" fill="none"/>
<path d="M337.4 514L340 525L344 551L350 556L360 561.5L378 568.6L398 576.6L418 584.2L437 591.4L452 599L472 606.6L492 612L508 615.4" fill="none" stroke="#EDB120" stroke-linejoin="round" stroke-width="1.32"/>
<path d="M336.1 512.96H338.7L337.4 515.43Z" fill="#EDB120" stroke="#EDB120" stroke-width="0.5"/>
<path d="M340.71 537.03H343.31L342.01 539.5Z" fill="#EDB120" stroke="#EDB120" stroke-width="0.5"/>
<path d="M345.32 552.14H347.92L346.62 554.61Z" fill="#EDB120" stroke="#EDB120" stroke-width="0.5"/>
<path d="M349.93 555.64H352.53L351.23 558.11Z" fill="#EDB120" stroke="#EDB120" stroke-width="0.5"/>
<path d="M354.54 558.17H357.14L355.84 560.64Z" fill="#EDB120" stroke="#EDB120" stroke-width="0.5"/>
<path d="M359.15 560.64H361.75L360.45 563.11Z" fill="#EDB120" stroke="#EDB120" stroke-width="0.5"/>
<path d="M363.76 562.46H366.36L365.06 564.93Z" fill="#EDB120" stroke="#EDB120" stroke-width="0.5"/>
<path d="M368.38 564.28H370.98L369.68 566.75Z" fill="#EDB120" stroke="#EDB120" stroke-width="0.5"/>
<path d="M372.99 566.1H375.59L374.29 568.57Z" fill="#EDB120" stroke="#EDB120" stroke-width="0.5"/>
<path d="M377.6 567.92H380.2L378.9 570.39Z" fill="#EDB120" stroke="#EDB120" stroke-width="0.5"/>
<path d="M382.21 569.76H384.81L383.51 572.23Z" fill="#EDB120" stroke="#EDB120" stroke-width="0.5"/>
<path d="M386.82 571.61H389.42L388.12 574.08Z" fill="#EDB120" stroke="#EDB120" stroke-width="0.5"/>
<path d="M391.43 573.45H394.03L392.73 575.92Z" fill="#EDB120" stroke="#EDB120" stroke-width="0.5"/>
<path d="M396.04 575.3H398.64L397.34 577.77Z" fill="#EDB120" stroke="#EDB120" stroke-width="0.5"/>
<path d="M400.65 577.06H403.25L401.95 579.53Z" fill="#EDB120" stroke="#EDB120" stroke-width="0.5"/>
<path d="M405.26 578.81H407.86L406.56 581.28Z" fill="#EDB120" stroke="#EDB120" stroke-width="0.5"/>
<path d="M409.87 580.57H412.47L411.17 583.04Z" fill="#EDB120" stroke="#EDB120" stroke-width="0.5"/>
<path d="M414.48 582.32H417.08L415.78 584.79Z" fill="#EDB120" stroke="#EDB120" stroke-width="0.5"/>
<path d="M419.09 584.07H421.69L420.39 586.54Z" fill="#EDB120" stroke="#EDB120" stroke-width="0.5"/>
<path d="M423.71 585.81H426.31L425.01 588.28Z" fill="#EDB120" stroke="#EDB120" stroke-width="0.5"/>
<path d="M428.32 587.56H430.92L429.62 590.03Z" fill="#EDB120" stroke="#EDB120" stroke-width="0.5"/>
<path d="M432.93 589.31H435.53L434.23 591.78Z" fill="#EDB120" stroke="#EDB120" stroke-width="0.5"/>
<path d="M437.54 591.29H440.14L438.84 593.76Z" fill="#EDB120" stroke="#EDB120" stroke-width="0.5"/>
<path d="M442.15 593.63H444.75L443.45 596.1Z" fill="#EDB120" stroke="#EDB120" stroke-width="0.5"/>
<path d="M446.76 595.96H449.36L448.06 598.43Z" fill="#EDB120" stroke="#EDB120" stroke-width="0.5"/>
<path d="M451.37 598.21H453.97L452.67 600.68Z" fill="#EDB120" stroke="#EDB120" stroke-width="0.5"/>
<path d="M455.98 599.97H458.58L457.28 602.44Z" fill="#EDB120" stroke="#EDB120" stroke-width="0.5"/>
<path d="M460.59 601.72H463.19L461.89 604.19Z" fill="#EDB120" stroke="#EDB120" stroke-width="0.5"/>
<path d="M465.2 603.47H467.8L466.5 605.94Z" fill="#EDB120" stroke="#EDB120" stroke-width="0.5"/>
<path d="M469.81 605.22H472.41L471.11 607.69Z" fill="#EDB120" stroke="#EDB120" stroke-width="0.5"/>
<path d="M474.42 606.57H477.02L475.72 609.04Z" fill="#EDB120" stroke="#EDB120" stroke-width="0.5"/>
<path d="M479.04 607.81H481.64L480.34 610.28Z" fill="#EDB120" stroke="#EDB120" stroke-width="0.5"/>
<path d="M483.65 609.06H486.25L484.95 611.53Z" fill="#EDB120" stroke="#EDB120" stroke-width="0.5"/>
<path d="M488.26 610.3H490.86L489.56 612.77Z" fill="#EDB120" stroke="#EDB120" stroke-width="0.5"/>
<path d="M492.87 611.42H495.47L494.17 613.89Z" fill="#EDB120" stroke="#EDB120" stroke-width="0.5"/>
<path d="M497.48 612.4H500.08L498.78 614.87Z" fill="#EDB120" stroke="#EDB120" stroke-width="0.5"/>
<path d="M502.09 613.38H504.69L503.39 615.85Z" fill="#EDB120" stroke="#EDB120" stroke-width="0.5"/>
<path d="M506.7 614.36H509.3L508 616.83Z" fill="#EDB120" stroke="#EDB120" stroke-width="0.5"/>
<path d="M339 536L346.4 552L360 562L367 565.4L373.6 568L380 570.6L386 573L392 575.4L398 578L404 580.6L410 583L415 585L420.4 587.4L426 590L431.6 593L437 595.4L442 598L447 600.5L452 603L457 605.2L462 607.4L467 609.2L472 611L477 612.3L482 613.6L487 614.5L492 615.4L497.5 615.8L503 616.2" fill="none" stroke="#7E2F8E" stroke-linejoin="round" stroke-width="1.32"/>
<circle cx="339" cy="536" r="2.0" fill="#fff" fill-opacity="0.45" stroke="#7E2F8E" stroke-width="1.15"/>
<circle cx="346.4" cy="552" r="2.0" fill="#fff" fill-opacity="0.45" stroke="#7E2F8E" stroke-width="1.15"/>
<circle cx="360" cy="562" r="2.0" fill="#fff" fill-opacity="0.45" stroke="#7E2F8E" stroke-width="1.15"/>
<circle cx="367" cy="565.4" r="2.0" fill="#fff" fill-opacity="0.45" stroke="#7E2F8E" stroke-width="1.15"/>
<circle cx="373.6" cy="568" r="2.0" fill="#fff" fill-opacity="0.45" stroke="#7E2F8E" stroke-width="1.15"/>
<circle cx="380" cy="570.6" r="2.0" fill="#fff" fill-opacity="0.45" stroke="#7E2F8E" stroke-width="1.15"/>
<circle cx="386" cy="573" r="2.0" fill="#fff" fill-opacity="0.45" stroke="#7E2F8E" stroke-width="1.15"/>
<circle cx="392" cy="575.4" r="2.0" fill="#fff" fill-opacity="0.45" stroke="#7E2F8E" stroke-width="1.15"/>
<circle cx="398" cy="578" r="2.0" fill="#fff" fill-opacity="0.45" stroke="#7E2F8E" stroke-width="1.15"/>
<circle cx="404" cy="580.6" r="2.0" fill="#fff" fill-opacity="0.45" stroke="#7E2F8E" stroke-width="1.15"/>
<circle cx="410" cy="583" r="2.0" fill="#fff" fill-opacity="0.45" stroke="#7E2F8E" stroke-width="1.15"/>
<circle cx="415" cy="585" r="2.0" fill="#fff" fill-opacity="0.45" stroke="#7E2F8E" stroke-width="1.15"/>
<circle cx="420.4" cy="587.4" r="2.0" fill="#fff" fill-opacity="0.45" stroke="#7E2F8E" stroke-width="1.15"/>
<circle cx="426" cy="590" r="2.0" fill="#fff" fill-opacity="0.45" stroke="#7E2F8E" stroke-width="1.15"/>
<circle cx="431.6" cy="593" r="2.0" fill="#fff" fill-opacity="0.45" stroke="#7E2F8E" stroke-width="1.15"/>
<circle cx="437" cy="595.4" r="2.0" fill="#fff" fill-opacity="0.45" stroke="#7E2F8E" stroke-width="1.15"/>
<circle cx="442" cy="598" r="2.0" fill="#fff" fill-opacity="0.45" stroke="#7E2F8E" stroke-width="1.15"/>
<circle cx="447" cy="600.5" r="2.0" fill="#fff" fill-opacity="0.45" stroke="#7E2F8E" stroke-width="1.15"/>
<circle cx="452" cy="603" r="2.0" fill="#fff" fill-opacity="0.45" stroke="#7E2F8E" stroke-width="1.15"/>
<circle cx="457" cy="605.2" r="2.0" fill="#fff" fill-opacity="0.45" stroke="#7E2F8E" stroke-width="1.15"/>
<circle cx="462" cy="607.4" r="2.0" fill="#fff" fill-opacity="0.45" stroke="#7E2F8E" stroke-width="1.15"/>
<circle cx="467" cy="609.2" r="2.0" fill="#fff" fill-opacity="0.45" stroke="#7E2F8E" stroke-width="1.15"/>
<circle cx="472" cy="611" r="2.0" fill="#fff" fill-opacity="0.45" stroke="#7E2F8E" stroke-width="1.15"/>
<circle cx="477" cy="612.3" r="2.0" fill="#fff" fill-opacity="0.45" stroke="#7E2F8E" stroke-width="1.15"/>
<circle cx="482" cy="613.6" r="2.0" fill="#fff" fill-opacity="0.45" stroke="#7E2F8E" stroke-width="1.15"/>
<circle cx="487" cy="614.5" r="2.0" fill="#fff" fill-opacity="0.45" stroke="#7E2F8E" stroke-width="1.15"/>
<circle cx="492" cy="615.4" r="2.0" fill="#fff" fill-opacity="0.45" stroke="#7E2F8E" stroke-width="1.15"/>
<circle cx="497.5" cy="615.8" r="2.0" fill="#fff" fill-opacity="0.45" stroke="#7E2F8E" stroke-width="1.15"/>
<circle cx="503" cy="616.2" r="2.0" fill="#fff" fill-opacity="0.45" stroke="#7E2F8E" stroke-width="1.15"/>
<path d="M340.4 532.6L348 554.6L356 563L364 570L372.4 576.6L381 582L389 589L397 595L405 601.4L412 606.6L418 609L424 611L430 613.4L437 616L442 616.6L452 617.4L510 618.6" fill="none" stroke="#77AC30" stroke-linejoin="round" stroke-width="1.32"/>
<circle cx="340.4" cy="532.6" r="2.0" fill="#77AC30"/>
<circle cx="348" cy="554.6" r="2.0" fill="#77AC30"/>
<circle cx="356" cy="563" r="2.0" fill="#77AC30"/>
<circle cx="364" cy="570" r="2.0" fill="#77AC30"/>
<circle cx="372.4" cy="576.6" r="2.0" fill="#77AC30"/>
<circle cx="381" cy="582" r="2.0" fill="#77AC30"/>
<circle cx="389" cy="589" r="2.0" fill="#77AC30"/>
<circle cx="397" cy="595" r="2.0" fill="#77AC30"/>
<circle cx="405" cy="601.4" r="2.0" fill="#77AC30"/>
<circle cx="412" cy="606.6" r="2.0" fill="#77AC30"/>
<circle cx="418" cy="609" r="2.0" fill="#77AC30"/>
<circle cx="424" cy="611" r="2.0" fill="#77AC30"/>
<circle cx="430" cy="613.4" r="2.0" fill="#77AC30"/>
<circle cx="437" cy="616" r="2.0" fill="#77AC30"/>
<circle cx="442" cy="616.6" r="2.0" fill="#77AC30"/>
<circle cx="448.18" cy="617.09" r="2.0" fill="#77AC30"/>
<circle cx="454.36" cy="617.45" r="2.0" fill="#77AC30"/>
<circle cx="460.55" cy="617.58" r="2.0" fill="#77AC30"/>
<circle cx="466.73" cy="617.7" r="2.0" fill="#77AC30"/>
<circle cx="472.91" cy="617.83" r="2.0" fill="#77AC30"/>
<circle cx="479.09" cy="617.96" r="2.0" fill="#77AC30"/>
<circle cx="485.27" cy="618.09" r="2.0" fill="#77AC30"/>
<circle cx="491.45" cy="618.22" r="2.0" fill="#77AC30"/>
<circle cx="497.64" cy="618.34" r="2.0" fill="#77AC30"/>
<circle cx="503.82" cy="618.47" r="2.0" fill="#77AC30"/>
<circle cx="510" cy="618.6" r="2.0" fill="#77AC30"/>
<path d="M342 510L343 529L348 545L358 563L368 577L376 593L382 605L388 612L396 616.6L404 618L418 618.6L437 619L470 619.2" fill="none" stroke="#4DBEEE" stroke-linejoin="round" stroke-dasharray="2.1 0.55 0.6 0.55" stroke-width="1.3"/>
<path d="M339.6 493L346.4 531L353 554L361 568L367 580L373.6 590L380 598.6L386 605L392 609L398 611L403 612L408 612.2L416 612.4L424 613L432 616L438 618L504 618.6" fill="none" stroke="#A2142F" stroke-linejoin="round" stroke-width="1.32"/>
<path d="M339.6 490L340.33 491.99L342.45 492.07L340.79 493.39L341.36 495.43L339.6 494.25L337.84 495.43L338.41 493.39L336.75 492.07L338.87 491.99Z" fill="#A2142F" stroke="#A2142F" stroke-width="0.5"/>
<path d="M346.4 528L347.13 529.99L349.25 530.07L347.59 531.39L348.16 533.43L346.4 532.25L344.64 533.43L345.21 531.39L343.55 530.07L345.67 529.99Z" fill="#A2142F" stroke="#A2142F" stroke-width="0.5"/>
<path d="M353 551L353.73 552.99L355.85 553.07L354.19 554.39L354.76 556.43L353 555.25L351.24 556.43L351.81 554.39L350.15 553.07L352.27 552.99Z" fill="#A2142F" stroke="#A2142F" stroke-width="0.5"/>
<path d="M361 565L361.73 566.99L363.85 567.07L362.19 568.39L362.76 570.43L361 569.25L359.24 570.43L359.81 568.39L358.15 567.07L360.27 566.99Z" fill="#A2142F" stroke="#A2142F" stroke-width="0.5"/>
<path d="M367 577L367.73 578.99L369.85 579.07L368.19 580.39L368.76 582.43L367 581.25L365.24 582.43L365.81 580.39L364.15 579.07L366.27 578.99Z" fill="#A2142F" stroke="#A2142F" stroke-width="0.5"/>
<path d="M373.6 587L374.33 588.99L376.45 589.07L374.79 590.39L375.36 592.43L373.6 591.25L371.84 592.43L372.41 590.39L370.75 589.07L372.87 588.99Z" fill="#A2142F" stroke="#A2142F" stroke-width="0.5"/>
<path d="M380 595.6L380.73 597.59L382.85 597.67L381.19 598.99L381.76 601.03L380 599.85L378.24 601.03L378.81 598.99L377.15 597.67L379.27 597.59Z" fill="#A2142F" stroke="#A2142F" stroke-width="0.5"/>
<path d="M386 602L386.73 603.99L388.85 604.07L387.19 605.39L387.76 607.43L386 606.25L384.24 607.43L384.81 605.39L383.15 604.07L385.27 603.99Z" fill="#A2142F" stroke="#A2142F" stroke-width="0.5"/>
<path d="M392 606L392.73 607.99L394.85 608.07L393.19 609.39L393.76 611.43L392 610.25L390.24 611.43L390.81 609.39L389.15 608.07L391.27 607.99Z" fill="#A2142F" stroke="#A2142F" stroke-width="0.5"/>
<path d="M398 608L398.73 609.99L400.85 610.07L399.19 611.39L399.76 613.43L398 612.25L396.24 613.43L396.81 611.39L395.15 610.07L397.27 609.99Z" fill="#A2142F" stroke="#A2142F" stroke-width="0.5"/>
<path d="M403 609L403.73 610.99L405.85 611.07L404.19 612.39L404.76 614.43L403 613.25L401.24 614.43L401.81 612.39L400.15 611.07L402.27 610.99Z" fill="#A2142F" stroke="#A2142F" stroke-width="0.5"/>
<path d="M408 609.2L408.73 611.19L410.85 611.27L409.19 612.59L409.76 614.63L408 613.45L406.24 614.63L406.81 612.59L405.15 611.27L407.27 611.19Z" fill="#A2142F" stroke="#A2142F" stroke-width="0.5"/>
<path d="M416 609.4L416.73 611.39L418.85 611.47L417.19 612.79L417.76 614.83L416 613.65L414.24 614.83L414.81 612.79L413.15 611.47L415.27 611.39Z" fill="#A2142F" stroke="#A2142F" stroke-width="0.5"/>
<path d="M424 610L424.73 611.99L426.85 612.07L425.19 613.39L425.76 615.43L424 614.25L422.24 615.43L422.81 613.39L421.15 612.07L423.27 611.99Z" fill="#A2142F" stroke="#A2142F" stroke-width="0.5"/>
<path d="M432 613L432.73 614.99L434.85 615.07L433.19 616.39L433.76 618.43L432 617.25L430.24 618.43L430.81 616.39L429.15 615.07L431.27 614.99Z" fill="#A2142F" stroke="#A2142F" stroke-width="0.5"/>
<path d="M438 615L438.73 616.99L440.85 617.07L439.19 618.39L439.76 620.43L438 619.25L436.24 620.43L436.81 618.39L435.15 617.07L437.27 616.99Z" fill="#A2142F" stroke="#A2142F" stroke-width="0.5"/>
<path d="M443.5 615.05L444.23 617.04L446.35 617.12L444.69 618.44L445.26 620.48L443.5 619.3L441.74 620.48L442.31 618.44L440.65 617.12L442.77 617.04Z" fill="#A2142F" stroke="#A2142F" stroke-width="0.5"/>
<path d="M449 615.1L449.73 617.09L451.85 617.17L450.19 618.49L450.76 620.53L449 619.35L447.24 620.53L447.81 618.49L446.15 617.17L448.27 617.09Z" fill="#A2142F" stroke="#A2142F" stroke-width="0.5"/>
<path d="M454.5 615.15L455.23 617.14L457.35 617.22L455.69 618.54L456.26 620.58L454.5 619.4L452.74 620.58L453.31 618.54L451.65 617.22L453.77 617.14Z" fill="#A2142F" stroke="#A2142F" stroke-width="0.5"/>
<path d="M460 615.2L460.73 617.19L462.85 617.27L461.19 618.59L461.76 620.63L460 619.45L458.24 620.63L458.81 618.59L457.15 617.27L459.27 617.19Z" fill="#A2142F" stroke="#A2142F" stroke-width="0.5"/>
<path d="M465.5 615.25L466.23 617.24L468.35 617.32L466.69 618.64L467.26 620.68L465.5 619.5L463.74 620.68L464.31 618.64L462.65 617.32L464.77 617.24Z" fill="#A2142F" stroke="#A2142F" stroke-width="0.5"/>
<path d="M471 615.3L471.73 617.29L473.85 617.37L472.19 618.69L472.76 620.73L471 619.55L469.24 620.73L469.81 618.69L468.15 617.37L470.27 617.29Z" fill="#A2142F" stroke="#A2142F" stroke-width="0.5"/>
<path d="M476.5 615.35L477.23 617.34L479.35 617.42L477.69 618.74L478.26 620.78L476.5 619.6L474.74 620.78L475.31 618.74L473.65 617.42L475.77 617.34Z" fill="#A2142F" stroke="#A2142F" stroke-width="0.5"/>
<path d="M482 615.4L482.73 617.39L484.85 617.47L483.19 618.79L483.76 620.83L482 619.65L480.24 620.83L480.81 618.79L479.15 617.47L481.27 617.39Z" fill="#A2142F" stroke="#A2142F" stroke-width="0.5"/>
<path d="M487.5 615.45L488.23 617.44L490.35 617.52L488.69 618.84L489.26 620.88L487.5 619.7L485.74 620.88L486.31 618.84L484.65 617.52L486.77 617.44Z" fill="#A2142F" stroke="#A2142F" stroke-width="0.5"/>
<path d="M493 615.5L493.73 617.49L495.85 617.57L494.19 618.89L494.76 620.93L493 619.75L491.24 620.93L491.81 618.89L490.15 617.57L492.27 617.49Z" fill="#A2142F" stroke="#A2142F" stroke-width="0.5"/>
<path d="M498.5 615.55L499.23 617.54L501.35 617.62L499.69 618.94L500.26 620.98L498.5 619.8L496.74 620.98L497.31 618.94L495.65 617.62L497.77 617.54Z" fill="#A2142F" stroke="#A2142F" stroke-width="0.5"/>
<path d="M504 615.6L504.73 617.59L506.85 617.67L505.19 618.99L505.76 621.03L504 619.85L502.24 621.03L502.81 618.99L501.15 617.67L503.27 617.59Z" fill="#A2142F" stroke="#A2142F" stroke-width="0.5"/>
<rect x="498.25" y="471.35" width="34.6" height="56.9" fill="#fff" stroke="#7a7a7a" stroke-width="0.8"/>
<path d="M500.15 476.25H514.85" stroke="#0072BD" fill="none" stroke-width="1.32"/>
<path d="M507.5 473.6L509.3 476.25L507.5 478.9L505.7 476.25Z" fill="none" stroke="#0072BD" stroke-width="1.3"/>
<text x="516.5" y="478.2" class="lg">s=0.1</text>
<path d="M500.15 484.18H514.85" stroke="#D95319" fill="none" stroke-width="1.32"/>
<path d="M505.3 484.18H509.7M507.5 481.98V486.38" stroke="#D95319" stroke-width="1" fill="none"/>
<text x="516.5" y="486.13" class="lg">s=0.3</text>
<path d="M500.15 492.11H514.85" stroke="#EDB120" fill="none" stroke-width="1.32"/>
<path d="M506.2 491.07H508.8L507.5 493.54Z" fill="#EDB120" stroke="#EDB120" stroke-width="0.5"/>
<text x="516.5" y="494.06" class="lg">s=0.7</text>
<path d="M500.15 500.04H514.85" stroke="#7E2F8E" fill="none" stroke-width="1.32"/>
<circle cx="507.5" cy="500.04" r="2.0" fill="#fff" fill-opacity="0.45" stroke="#7E2F8E" stroke-width="1.15"/>
<text x="516.5" y="501.99" class="lg">s=1.0</text>
<path d="M500.15 507.97H514.85" stroke="#77AC30" fill="none" stroke-width="1.32"/>
<circle cx="507.5" cy="507.97" r="2.0" fill="#77AC30"/>
<text x="516.5" y="509.92" class="lg">s=1.3</text>
<path d="M500.15 515.9H514.85" stroke="#4DBEEE" fill="none" stroke-dasharray="2.1 0.55 0.6 0.55" stroke-width="1.3"/>

<text x="516.5" y="517.85" class="lg">s=1.7</text>
<path d="M500.15 523.83H514.85" stroke="#A2142F" fill="none" stroke-width="1.32"/>
<path d="M507.5 520.83L508.23 522.82L510.35 522.9L508.69 524.22L509.26 526.26L507.5 525.08L505.74 526.26L506.31 524.22L504.65 522.9L506.77 522.82Z" fill="#A2142F" stroke="#A2142F" stroke-width="0.5"/>
<text x="516.5" y="525.78" class="lg">s=1.9</text>
<text x="429" y="658.6" class="cap" text-anchor="middle"><tspan font-weight="bold">(f)</tspan> (m n r) = (8000 1000 35)</text>
<rect x="31.55" y="690.15" width="207.85" height="164.05" fill="#fff" stroke="#7a7a7a" stroke-width="0.8"/>
<text x="31.55" y="863.6" class="tk" text-anchor="middle">0</text>
<text x="54.64" y="863.6" class="tk" text-anchor="middle">1</text>
<text x="77.74" y="863.6" class="tk" text-anchor="middle">2</text>
<text x="100.83" y="863.6" class="tk" text-anchor="middle">3</text>
<text x="123.93" y="863.6" class="tk" text-anchor="middle">4</text>
<text x="147.02" y="863.6" class="tk" text-anchor="middle">5</text>
<text x="170.12" y="863.6" class="tk" text-anchor="middle">6</text>
<text x="193.21" y="863.6" class="tk" text-anchor="middle">7</text>
<text x="216.31" y="863.6" class="tk" text-anchor="middle">8</text>
<text x="239.4" y="863.6" class="tk" text-anchor="middle">9</text>
<text x="29.25" y="857.1" class="tk" text-anchor="end">0</text>
<text x="29.25" y="836.59" class="tk" text-anchor="end">0.05</text>
<text x="29.25" y="816.09" class="tk" text-anchor="end">0.1</text>
<text x="29.25" y="795.58" class="tk" text-anchor="end">0.15</text>
<text x="29.25" y="775.08" class="tk" text-anchor="end">0.2</text>
<text x="29.25" y="754.57" class="tk" text-anchor="end">0.25</text>
<text x="29.25" y="734.06" class="tk" text-anchor="end">0.3</text>
<text x="29.25" y="713.56" class="tk" text-anchor="end">0.35</text>
<text x="29.25" y="693.05" class="tk" text-anchor="end">0.4</text>
<path d="M31.55 854.2v-2M31.55 690.15v2M54.64 854.2v-2M54.64 690.15v2M77.74 854.2v-2M77.74 690.15v2M100.83 854.2v-2M100.83 690.15v2M123.93 854.2v-2M123.93 690.15v2M147.02 854.2v-2M147.02 690.15v2M170.12 854.2v-2M170.12 690.15v2M193.21 854.2v-2M193.21 690.15v2M216.31 854.2v-2M216.31 690.15v2M239.4 854.2v-2M239.4 690.15v2M31.55 854.2h2M239.4 854.2h-2M31.55 833.69h2M239.4 833.69h-2M31.55 813.19h2M239.4 813.19h-2M31.55 792.68h2M239.4 792.68h-2M31.55 772.18h2M239.4 772.18h-2M31.55 751.67h2M239.4 751.67h-2M31.55 731.16h2M239.4 731.16h-2M31.55 710.66h2M239.4 710.66h-2M31.55 690.15h2M239.4 690.15h-2" stroke="#7a7a7a" stroke-width="0.8" fill="none"/>
<text x="135.17" y="686.55" class="tt" text-anchor="middle">Relative residual</text>
<text x="135.17" y="872.5" class="lb" text-anchor="middle">time(second)</text>
<text transform="translate(9.95 771.67) rotate(-90)" class="yl" text-anchor="middle">||WH - V||<tspan class="sub" dy="2.6">F</tspan><tspan dy="-2.6">/||V||</tspan><tspan class="sub" dy="2.6">F</tspan></text>
<path d="M37.4 705L42.4 726.4L53.2 723L68 744L79.6 757.5L89.6 765.8L98 777L105.6 781L113 783L119.6 784L126 785L132 785.6L137 786.2L238 791.4" fill="none" stroke="#0072BD" stroke-linejoin="round" stroke-width="1.32"/>
<path d="M37.4 702.35L39.2 705L37.4 707.65L35.6 705Z" fill="none" stroke="#0072BD" stroke-width="1.3"/>
<path d="M42.4 723.75L44.2 726.4L42.4 729.05L40.6 726.4Z" fill="none" stroke="#0072BD" stroke-width="1.3"/>
<path d="M53.2 720.35L55 723L53.2 725.65L51.4 723Z" fill="none" stroke="#0072BD" stroke-width="1.3"/>
<path d="M68 741.35L69.8 744L68 746.65L66.2 744Z" fill="none" stroke="#0072BD" stroke-width="1.3"/>
<path d="M79.6 754.85L81.4 757.5L79.6 760.15L77.8 757.5Z" fill="none" stroke="#0072BD" stroke-width="1.3"/>
<path d="M89.6 763.15L91.4 765.8L89.6 768.45L87.8 765.8Z" fill="none" stroke="#0072BD" stroke-width="1.3"/>
<path d="M98 774.35L99.8 777L98 779.65L96.2 777Z" fill="none" stroke="#0072BD" stroke-width="1.3"/>
<path d="M105.6 778.35L107.4 781L105.6 783.65L103.8 781Z" fill="none" stroke="#0072BD" stroke-width="1.3"/>
<path d="M113 780.35L114.8 783L113 785.65L111.2 783Z" fill="none" stroke="#0072BD" stroke-width="1.3"/>
<path d="M119.6 781.35L121.4 784L119.6 786.65L117.8 784Z" fill="none" stroke="#0072BD" stroke-width="1.3"/>
<path d="M126 782.35L127.8 785L126 787.65L124.2 785Z" fill="none" stroke="#0072BD" stroke-width="1.3"/>
<path d="M132 782.95L133.8 785.6L132 788.25L130.2 785.6Z" fill="none" stroke="#0072BD" stroke-width="1.3"/>
<path d="M137 783.55L138.8 786.2L137 788.85L135.2 786.2Z" fill="none" stroke="#0072BD" stroke-width="1.3"/>
<path d="M142.94 783.86L144.74 786.51L142.94 789.16L141.14 786.51Z" fill="none" stroke="#0072BD" stroke-width="1.3"/>
<path d="M148.88 784.16L150.68 786.81L148.88 789.46L147.08 786.81Z" fill="none" stroke="#0072BD" stroke-width="1.3"/>
<path d="M154.82 784.47L156.62 787.12L154.82 789.77L153.02 787.12Z" fill="none" stroke="#0072BD" stroke-width="1.3"/>
<path d="M160.76 784.77L162.56 787.42L160.76 790.07L158.96 787.42Z" fill="none" stroke="#0072BD" stroke-width="1.3"/>
<path d="M166.71 785.08L168.51 787.73L166.71 790.38L164.91 787.73Z" fill="none" stroke="#0072BD" stroke-width="1.3"/>
<path d="M172.65 785.39L174.45 788.04L172.65 790.69L170.85 788.04Z" fill="none" stroke="#0072BD" stroke-width="1.3"/>
<path d="M178.59 785.69L180.39 788.34L178.59 790.99L176.79 788.34Z" fill="none" stroke="#0072BD" stroke-width="1.3"/>
<path d="M184.53 786L186.33 788.65L184.53 791.3L182.73 788.65Z" fill="none" stroke="#0072BD" stroke-width="1.3"/>
<path d="M190.47 786.3L192.27 788.95L190.47 791.6L188.67 788.95Z" fill="none" stroke="#0072BD" stroke-width="1.3"/>
<path d="M196.41 786.61L198.21 789.26L196.41 791.91L194.61 789.26Z" fill="none" stroke="#0072BD" stroke-width="1.3"/>
<path d="M202.35 786.91L204.15 789.56L202.35 792.21L200.55 789.56Z" fill="none" stroke="#0072BD" stroke-width="1.3"/>
<path d="M208.29 787.22L210.09 789.87L208.29 792.52L206.49 789.87Z" fill="none" stroke="#0072BD" stroke-width="1.3"/>
<path d="M214.24 787.53L216.04 790.18L214.24 792.83L212.44 790.18Z" fill="none" stroke="#0072BD" stroke-width="1.3"/>
<path d="M220.18 787.83L221.98 790.48L220.18 793.13L218.38 790.48Z" fill="none" stroke="#0072BD" stroke-width="1.3"/>
<path d="M226.12 788.14L227.92 790.79L226.12 793.44L224.32 790.79Z" fill="none" stroke="#0072BD" stroke-width="1.3"/>
<path d="M232.06 788.44L233.86 791.09L232.06 793.74L230.26 791.09Z" fill="none" stroke="#0072BD" stroke-width="1.3"/>
<path d="M238 788.75L239.8 791.4L238 794.05L236.2 791.4Z" fill="none" stroke="#0072BD" stroke-width="1.3"/>
<path d="M37 703L47.6 749L55 775L61 781L68 784.4L74 786L88 787.6L108 790L128 792.2L137 793.4L170 797L218 804" fill="none" stroke="#D95319" stroke-linejoin="round" stroke-width="1.32"/>
<path d="M34.8 703H39.2M37 700.8V705.2" stroke="#D95319" stroke-width="1" fill="none"/>
<path d="M45.4 749H49.8M47.6 746.8V751.2" stroke="#D95319" stroke-width="1" fill="none"/>
<path d="M52.8 775H57.2M55 772.8V777.2" stroke="#D95319" stroke-width="1" fill="none"/>
<path d="M58.8 781H63.2M61 778.8V783.2" stroke="#D95319" stroke-width="1" fill="none"/>
<path d="M64.41 783.72H68.81M66.61 781.52V785.92" stroke="#D95319" stroke-width="1" fill="none"/>
<path d="M70.01 785.52H74.41M72.21 783.32V787.72" stroke="#D95319" stroke-width="1" fill="none"/>
<path d="M75.62 786.44H80.02M77.82 784.24V788.64" stroke="#D95319" stroke-width="1" fill="none"/>
<path d="M81.23 787.08H85.63M83.43 784.88V789.28" stroke="#D95319" stroke-width="1" fill="none"/>
<path d="M86.84 787.72H91.24M89.04 785.52V789.92" stroke="#D95319" stroke-width="1" fill="none"/>
<path d="M92.44 788.4H96.84M94.64 786.2V790.6" stroke="#D95319" stroke-width="1" fill="none"/>
<path d="M98.05 789.07H102.45M100.25 786.87V791.27" stroke="#D95319" stroke-width="1" fill="none"/>
<path d="M103.66 789.74H108.06M105.86 787.54V791.94" stroke="#D95319" stroke-width="1" fill="none"/>
<path d="M109.26 790.38H113.66M111.46 788.18V792.58" stroke="#D95319" stroke-width="1" fill="none"/>
<path d="M114.87 791H119.27M117.07 788.8V793.2" stroke="#D95319" stroke-width="1" fill="none"/>
<path d="M120.48 791.61H124.88M122.68 789.41V793.81" stroke="#D95319" stroke-width="1" fill="none"/>
<path d="M126.09 792.24H130.49M128.29 790.04V794.44" stroke="#D95319" stroke-width="1" fill="none"/>
<path d="M131.69 792.99H136.09M133.89 790.79V795.19" stroke="#D95319" stroke-width="1" fill="none"/>
<path d="M137.3 793.67H141.7M139.5 791.47V795.87" stroke="#D95319" stroke-width="1" fill="none"/>
<path d="M142.91 794.28H147.31M145.11 792.08V796.48" stroke="#D95319" stroke-width="1" fill="none"/>
<path d="M148.51 794.9H152.91M150.71 792.7V797.1" stroke="#D95319" stroke-width="1" fill="none"/>
<path d="M154.12 795.51H158.52M156.32 793.31V797.71" stroke="#D95319" stroke-width="1" fill="none"/>
<path d="M159.73 796.12H164.13M161.93 793.92V798.32" stroke="#D95319" stroke-width="1" fill="none"/>
<path d="M165.34 796.73H169.74M167.54 794.53V798.93" stroke="#D95319" stroke-width="1" fill="none"/>
<path d="M170.94 797.46H175.34M173.14 795.26V799.66" stroke="#D95319" stroke-width="1" fill="none"/>
<path d="M176.55 798.28H180.95M178.75 796.08V800.48" stroke="#D95319" stroke-width="1" fill="none"/>
<path d="M182.16 799.09H186.56M184.36 796.89V801.29" stroke="#D95319" stroke-width="1" fill="none"/>
<path d="M187.76 799.91H192.16M189.96 797.71V802.11" stroke="#D95319" stroke-width="1" fill="none"/>
<path d="M193.37 800.73H197.77M195.57 798.53V802.93" stroke="#D95319" stroke-width="1" fill="none"/>
<path d="M198.98 801.55H203.38M201.18 799.35V803.75" stroke="#D95319" stroke-width="1" fill="none"/>
<path d="M204.59 802.36H208.99M206.79 800.16V804.56" stroke="#D95319" stroke-width="1" fill="none"/>
<path d="M210.19 803.18H214.59M212.39 800.98V805.38" stroke="#D95319" stroke-width="1" fill="none"/>
<path d="M215.8 804H220.2M218 801.8V806.2" stroke="#D95319" stroke-width="1" fill="none"/>
<path d="M38.4 748.6L40 756L45 778L52 785.6L60 789L72 791.7L88 795.1L108 799.3L128 804.2L137 806.4L150 812L166 819L180 824L194 826.4L204 827.6" fill="none" stroke="#EDB120" stroke-linejoin="round" stroke-width="1.32"/>
<path d="M37.1 747.56H39.7L38.4 750.03Z" fill="#EDB120" stroke="#EDB120" stroke-width="0.5"/>
<path d="M40.41 762.49H43.01L41.71 764.96Z" fill="#EDB120" stroke="#EDB120" stroke-width="0.5"/>
<path d="M43.72 776.99H46.32L45.02 779.46Z" fill="#EDB120" stroke="#EDB120" stroke-width="0.5"/>
<path d="M47.04 780.58H49.64L48.34 783.05Z" fill="#EDB120" stroke="#EDB120" stroke-width="0.5"/>
<path d="M50.35 784.18H52.95L51.65 786.65Z" fill="#EDB120" stroke="#EDB120" stroke-width="0.5"/>
<path d="M53.66 785.82H56.26L54.96 788.29Z" fill="#EDB120" stroke="#EDB120" stroke-width="0.5"/>
<path d="M56.97 787.23H59.57L58.27 789.7Z" fill="#EDB120" stroke="#EDB120" stroke-width="0.5"/>
<path d="M60.28 788.32H62.88L61.58 790.79Z" fill="#EDB120" stroke="#EDB120" stroke-width="0.5"/>
<path d="M63.6 789.06H66.2L64.9 791.53Z" fill="#EDB120" stroke="#EDB120" stroke-width="0.5"/>
<path d="M66.91 789.81H69.51L68.21 792.28Z" fill="#EDB120" stroke="#EDB120" stroke-width="0.5"/>
<path d="M70.22 790.55H72.82L71.52 793.02Z" fill="#EDB120" stroke="#EDB120" stroke-width="0.5"/>
<path d="M73.53 791.26H76.13L74.83 793.73Z" fill="#EDB120" stroke="#EDB120" stroke-width="0.5"/>
<path d="M76.84 791.97H79.44L78.14 794.44Z" fill="#EDB120" stroke="#EDB120" stroke-width="0.5"/>
<path d="M80.16 792.67H82.76L81.46 795.14Z" fill="#EDB120" stroke="#EDB120" stroke-width="0.5"/>
<path d="M83.47 793.37H86.07L84.77 795.84Z" fill="#EDB120" stroke="#EDB120" stroke-width="0.5"/>
<path d="M86.78 794.08H89.38L88.08 796.55Z" fill="#EDB120" stroke="#EDB120" stroke-width="0.5"/>
<path d="M90.09 794.77H92.69L91.39 797.24Z" fill="#EDB120" stroke="#EDB120" stroke-width="0.5"/>
<path d="M93.4 795.47H96L94.7 797.94Z" fill="#EDB120" stroke="#EDB120" stroke-width="0.5"/>
<path d="M96.72 796.16H99.32L98.02 798.63Z" fill="#EDB120" stroke="#EDB120" stroke-width="0.5"/>
<path d="M100.03 796.86H102.63L101.33 799.33Z" fill="#EDB120" stroke="#EDB120" stroke-width="0.5"/>
<path d="M103.34 797.55H105.94L104.64 800.02Z" fill="#EDB120" stroke="#EDB120" stroke-width="0.5"/>
<path d="M106.65 798.25H109.25L107.95 800.72Z" fill="#EDB120" stroke="#EDB120" stroke-width="0.5"/>
<path d="M109.96 799.06H112.56L111.26 801.53Z" fill="#EDB120" stroke="#EDB120" stroke-width="0.5"/>
<path d="M113.28 799.87H115.88L114.58 802.34Z" fill="#EDB120" stroke="#EDB120" stroke-width="0.5"/>
<path d="M116.59 800.68H119.19L117.89 803.15Z" fill="#EDB120" stroke="#EDB120" stroke-width="0.5"/>
<path d="M119.9 801.49H122.5L121.2 803.96Z" fill="#EDB120" stroke="#EDB120" stroke-width="0.5"/>
<path d="M123.21 802.31H125.81L124.51 804.78Z" fill="#EDB120" stroke="#EDB120" stroke-width="0.5"/>
<path d="M126.52 803.12H129.12L127.82 805.59Z" fill="#EDB120" stroke="#EDB120" stroke-width="0.5"/>
<path d="M129.84 803.93H132.44L131.14 806.4Z" fill="#EDB120" stroke="#EDB120" stroke-width="0.5"/>
<path d="M133.15 804.74H135.75L134.45 807.21Z" fill="#EDB120" stroke="#EDB120" stroke-width="0.5"/>
<path d="M136.46 805.69H139.06L137.76 808.16Z" fill="#EDB120" stroke="#EDB120" stroke-width="0.5"/>
<path d="M139.77 807.11H142.37L141.07 809.58Z" fill="#EDB120" stroke="#EDB120" stroke-width="0.5"/>
<path d="M143.08 808.54H145.68L144.38 811.01Z" fill="#EDB120" stroke="#EDB120" stroke-width="0.5"/>
<path d="M146.4 809.97H149L147.7 812.44Z" fill="#EDB120" stroke="#EDB120" stroke-width="0.5"/>
<path d="M149.71 811.4H152.31L151.01 813.87Z" fill="#EDB120" stroke="#EDB120" stroke-width="0.5"/>
<path d="M153.02 812.85H155.62L154.32 815.32Z" fill="#EDB120" stroke="#EDB120" stroke-width="0.5"/>
<path d="M156.33 814.3H158.93L157.63 816.77Z" fill="#EDB120" stroke="#EDB120" stroke-width="0.5"/>
<path d="M159.64 815.75H162.24L160.94 818.22Z" fill="#EDB120" stroke="#EDB120" stroke-width="0.5"/>
<path d="M162.96 817.2H165.56L164.26 819.67Z" fill="#EDB120" stroke="#EDB120" stroke-width="0.5"/>
<path d="M166.27 818.52H168.87L167.57 820.99Z" fill="#EDB120" stroke="#EDB120" stroke-width="0.5"/>
<path d="M169.58 819.7H172.18L170.88 822.17Z" fill="#EDB120" stroke="#EDB120" stroke-width="0.5"/>
<path d="M172.89 820.89H175.49L174.19 823.36Z" fill="#EDB120" stroke="#EDB120" stroke-width="0.5"/>
<path d="M176.2 822.07H178.8L177.5 824.54Z" fill="#EDB120" stroke="#EDB120" stroke-width="0.5"/>
<path d="M179.52 823.1H182.12L180.82 825.57Z" fill="#EDB120" stroke="#EDB120" stroke-width="0.5"/>
<path d="M182.83 823.67H185.43L184.13 826.14Z" fill="#EDB120" stroke="#EDB120" stroke-width="0.5"/>
<path d="M186.14 824.24H188.74L187.44 826.71Z" fill="#EDB120" stroke="#EDB120" stroke-width="0.5"/>
<path d="M189.45 824.8H192.05L190.75 827.27Z" fill="#EDB120" stroke="#EDB120" stroke-width="0.5"/>
<path d="M192.76 825.37H195.36L194.06 827.84Z" fill="#EDB120" stroke="#EDB120" stroke-width="0.5"/>
<path d="M196.08 825.77H198.68L197.38 828.24Z" fill="#EDB120" stroke="#EDB120" stroke-width="0.5"/>
<path d="M199.39 826.16H201.99L200.69 828.63Z" fill="#EDB120" stroke="#EDB120" stroke-width="0.5"/>
<path d="M202.7 826.56H205.3L204 829.03Z" fill="#EDB120" stroke="#EDB120" stroke-width="0.5"/>
<path d="M39 765L46.4 780L53 786L59 789L65 792L72 795L78 798L84.4 800.4L91 803L97 806.4L103.6 809.6L110 813L116 816L122 819.6L128 822.4L134 825.6L140 828.6L146 831.6L151 833L156 834.4L161 835.2L166 835.8L171 836.1L176 836.3L181 836.5L186 836.6L196 838L203.5 838.2L211 838.4" fill="none" stroke="#7E2F8E" stroke-linejoin="round" stroke-width="1.32"/>
<circle cx="39" cy="765" r="2.0" fill="#fff" fill-opacity="0.45" stroke="#7E2F8E" stroke-width="1.15"/>
<circle cx="46.4" cy="780" r="2.0" fill="#fff" fill-opacity="0.45" stroke="#7E2F8E" stroke-width="1.15"/>
<circle cx="53" cy="786" r="2.0" fill="#fff" fill-opacity="0.45" stroke="#7E2F8E" stroke-width="1.15"/>
<circle cx="59" cy="789" r="2.0" fill="#fff" fill-opacity="0.45" stroke="#7E2F8E" stroke-width="1.15"/>
<circle cx="65" cy="792" r="2.0" fill="#fff" fill-opacity="0.45" stroke="#7E2F8E" stroke-width="1.15"/>
<circle cx="72" cy="795" r="2.0" fill="#fff" fill-opacity="0.45" stroke="#7E2F8E" stroke-width="1.15"/>
<circle cx="78" cy="798" r="2.0" fill="#fff" fill-opacity="0.45" stroke="#7E2F8E" stroke-width="1.15"/>
<circle cx="84.4" cy="800.4" r="2.0" fill="#fff" fill-opacity="0.45" stroke="#7E2F8E" stroke-width="1.15"/>
<circle cx="91" cy="803" r="2.0" fill="#fff" fill-opacity="0.45" stroke="#7E2F8E" stroke-width="1.15"/>
<circle cx="97" cy="806.4" r="2.0" fill="#fff" fill-opacity="0.45" stroke="#7E2F8E" stroke-width="1.15"/>
<circle cx="103.6" cy="809.6" r="2.0" fill="#fff" fill-opacity="0.45" stroke="#7E2F8E" stroke-width="1.15"/>
<circle cx="110" cy="813" r="2.0" fill="#fff" fill-opacity="0.45" stroke="#7E2F8E" stroke-width="1.15"/>
<circle cx="116" cy="816" r="2.0" fill="#fff" fill-opacity="0.45" stroke="#7E2F8E" stroke-width="1.15"/>
<circle cx="122" cy="819.6" r="2.0" fill="#fff" fill-opacity="0.45" stroke="#7E2F8E" stroke-width="1.15"/>
<circle cx="128" cy="822.4" r="2.0" fill="#fff" fill-opacity="0.45" stroke="#7E2F8E" stroke-width="1.15"/>
<circle cx="134" cy="825.6" r="2.0" fill="#fff" fill-opacity="0.45" stroke="#7E2F8E" stroke-width="1.15"/>
<circle cx="140" cy="828.6" r="2.0" fill="#fff" fill-opacity="0.45" stroke="#7E2F8E" stroke-width="1.15"/>
<circle cx="146" cy="831.6" r="2.0" fill="#fff" fill-opacity="0.45" stroke="#7E2F8E" stroke-width="1.15"/>
<circle cx="151" cy="833" r="2.0" fill="#fff" fill-opacity="0.45" stroke="#7E2F8E" stroke-width="1.15"/>
<circle cx="156" cy="834.4" r="2.0" fill="#fff" fill-opacity="0.45" stroke="#7E2F8E" stroke-width="1.15"/>
<circle cx="161" cy="835.2" r="2.0" fill="#fff" fill-opacity="0.45" stroke="#7E2F8E" stroke-width="1.15"/>
<circle cx="166" cy="835.8" r="2.0" fill="#fff" fill-opacity="0.45" stroke="#7E2F8E" stroke-width="1.15"/>
<circle cx="171" cy="836.1" r="2.0" fill="#fff" fill-opacity="0.45" stroke="#7E2F8E" stroke-width="1.15"/>
<circle cx="176" cy="836.3" r="2.0" fill="#fff" fill-opacity="0.45" stroke="#7E2F8E" stroke-width="1.15"/>
<circle cx="181" cy="836.5" r="2.0" fill="#fff" fill-opacity="0.45" stroke="#7E2F8E" stroke-width="1.15"/>
<circle cx="186" cy="836.6" r="2.0" fill="#fff" fill-opacity="0.45" stroke="#7E2F8E" stroke-width="1.15"/>
<circle cx="196" cy="838" r="2.0" fill="#fff" fill-opacity="0.45" stroke="#7E2F8E" stroke-width="1.15"/>
<circle cx="203.5" cy="838.2" r="2.0" fill="#fff" fill-opacity="0.45" stroke="#7E2F8E" stroke-width="1.15"/>
<circle cx="211" cy="838.4" r="2.0" fill="#fff" fill-opacity="0.45" stroke="#7E2F8E" stroke-width="1.15"/>
<path d="M40 762L46.4 781L53 789L60 794L67 799L76 806L84 811L92 816L99 820L106 823L113 826.4L119 828.4L125 830.4L131 832L137 833.6L146 838L154 840L162 841.6L170 842.6L200 843.6" fill="none" stroke="#77AC30" stroke-linejoin="round" stroke-width="1.32"/>
<circle cx="40" cy="762" r="2.0" fill="#77AC30"/>
<circle cx="46.4" cy="781" r="2.0" fill="#77AC30"/>
<circle cx="53" cy="789" r="2.0" fill="#77AC30"/>
<circle cx="60" cy="794" r="2.0" fill="#77AC30"/>
<circle cx="67" cy="799" r="2.0" fill="#77AC30"/>
<circle cx="76" cy="806" r="2.0" fill="#77AC30"/>
<circle cx="84" cy="811" r="2.0" fill="#77AC30"/>
<circle cx="92" cy="816" r="2.0" fill="#77AC30"/>
<circle cx="99" cy="820" r="2.0" fill="#77AC30"/>
<circle cx="106" cy="823" r="2.0" fill="#77AC30"/>
<circle cx="113" cy="826.4" r="2.0" fill="#77AC30"/>
<circle cx="119" cy="828.4" r="2.0" fill="#77AC30"/>
<circle cx="125" cy="830.4" r="2.0" fill="#77AC30"/>
<circle cx="131" cy="832" r="2.0" fill="#77AC30"/>
<circle cx="137" cy="833.6" r="2.0" fill="#77AC30"/>
<circle cx="146" cy="838" r="2.0" fill="#77AC30"/>
<circle cx="154" cy="840" r="2.0" fill="#77AC30"/>
<circle cx="162" cy="841.6" r="2.0" fill="#77AC30"/>
<circle cx="170" cy="842.6" r="2.0" fill="#77AC30"/>
<circle cx="177.5" cy="842.85" r="2.0" fill="#77AC30"/>
<circle cx="185" cy="843.1" r="2.0" fill="#77AC30"/>
<circle cx="192.5" cy="843.35" r="2.0" fill="#77AC30"/>
<circle cx="200" cy="843.6" r="2.0" fill="#77AC30"/>
<path d="M40 745L43 756L48 774L56 789L64 797L74 808L84 820L92 829L100 835.6L108 839.6L118 841.6L128 843L137 844L165 844.4" fill="none" stroke="#4DBEEE" stroke-linejoin="round" stroke-dasharray="2.1 0.55 0.6 0.55" stroke-width="1.3"/>
<path d="M41 726L48 762.6L56 781L65 791L74 803.6L82 814L90 823.6L97 831.6L104 836.4L110 838L116 838.4L120 838.6L126 838.7L134 839L142 839.6L150 840.2L158 841.3L166 842.4L173 843L180 843.6L222 844" fill="none" stroke="#A2142F" stroke-linejoin="round" stroke-width="1.32"/>
<path d="M41 723L41.73 724.99L43.85 725.07L42.19 726.39L42.76 728.43L41 727.25L39.24 728.43L39.81 726.39L38.15 725.07L40.27 724.99Z" fill="#A2142F" stroke="#A2142F" stroke-width="0.5"/>
<path d="M48 759.6L48.73 761.59L50.85 761.67L49.19 762.99L49.76 765.03L48 763.85L46.24 765.03L46.81 762.99L45.15 761.67L47.27 761.59Z" fill="#A2142F" stroke="#A2142F" stroke-width="0.5"/>
<path d="M56 778L56.73 779.99L58.85 780.07L57.19 781.39L57.76 783.43L56 782.25L54.24 783.43L54.81 781.39L53.15 780.07L55.27 779.99Z" fill="#A2142F" stroke="#A2142F" stroke-width="0.5"/>
<path d="M65 788L65.73 789.99L67.85 790.07L66.19 791.39L66.76 793.43L65 792.25L63.24 793.43L63.81 791.39L62.15 790.07L64.27 789.99Z" fill="#A2142F" stroke="#A2142F" stroke-width="0.5"/>
<path d="M74 800.6L74.73 802.59L76.85 802.67L75.19 803.99L75.76 806.03L74 804.85L72.24 806.03L72.81 803.99L71.15 802.67L73.27 802.59Z" fill="#A2142F" stroke="#A2142F" stroke-width="0.5"/>
<path d="M82 811L82.73 812.99L84.85 813.07L83.19 814.39L83.76 816.43L82 815.25L80.24 816.43L80.81 814.39L79.15 813.07L81.27 812.99Z" fill="#A2142F" stroke="#A2142F" stroke-width="0.5"/>
<path d="M90 820.6L90.73 822.59L92.85 822.67L91.19 823.99L91.76 826.03L90 824.85L88.24 826.03L88.81 823.99L87.15 822.67L89.27 822.59Z" fill="#A2142F" stroke="#A2142F" stroke-width="0.5"/>
<path d="M97 828.6L97.73 830.59L99.85 830.67L98.19 831.99L98.76 834.03L97 832.85L95.24 834.03L95.81 831.99L94.15 830.67L96.27 830.59Z" fill="#A2142F" stroke="#A2142F" stroke-width="0.5"/>
<path d="M104 833.4L104.73 835.39L106.85 835.47L105.19 836.79L105.76 838.83L104 837.65L102.24 838.83L102.81 836.79L101.15 835.47L103.27 835.39Z" fill="#A2142F" stroke="#A2142F" stroke-width="0.5"/>
<path d="M110 835L110.73 836.99L112.85 837.07L111.19 838.39L111.76 840.43L110 839.25L108.24 840.43L108.81 838.39L107.15 837.07L109.27 836.99Z" fill="#A2142F" stroke="#A2142F" stroke-width="0.5"/>
<path d="M116 835.4L116.73 837.39L118.85 837.47L117.19 838.79L117.76 840.83L116 839.65L114.24 840.83L114.81 838.79L113.15 837.47L115.27 837.39Z" fill="#A2142F" stroke="#A2142F" stroke-width="0.5"/>
<path d="M120 835.6L120.73 837.59L122.85 837.67L121.19 838.99L121.76 841.03L120 839.85L118.24 841.03L118.81 838.99L117.15 837.67L119.27 837.59Z" fill="#A2142F" stroke="#A2142F" stroke-width="0.5"/>
<path d="M126 835.7L126.73 837.69L128.85 837.77L127.19 839.09L127.76 841.13L126 839.95L124.24 841.13L124.81 839.09L123.15 837.77L125.27 837.69Z" fill="#A2142F" stroke="#A2142F" stroke-width="0.5"/>
<path d="M134 836L134.73 837.99L136.85 838.07L135.19 839.39L135.76 841.43L134 840.25L132.24 841.43L132.81 839.39L131.15 838.07L133.27 837.99Z" fill="#A2142F" stroke="#A2142F" stroke-width="0.5"/>
<path d="M142 836.6L142.73 838.59L144.85 838.67L143.19 839.99L143.76 842.03L142 840.85L140.24 842.03L140.81 839.99L139.15 838.67L141.27 838.59Z" fill="#A2142F" stroke="#A2142F" stroke-width="0.5"/>
<path d="M150 837.2L150.73 839.19L152.85 839.27L151.19 840.59L151.76 842.63L150 841.45L148.24 842.63L148.81 840.59L147.15 839.27L149.27 839.19Z" fill="#A2142F" stroke="#A2142F" stroke-width="0.5"/>
<path d="M158 838.3L158.73 840.29L160.85 840.37L159.19 841.69L159.76 843.73L158 842.55L156.24 843.73L156.81 841.69L155.15 840.37L157.27 840.29Z" fill="#A2142F" stroke="#A2142F" stroke-width="0.5"/>
<path d="M166 839.4L166.73 841.39L168.85 841.47L167.19 842.79L167.76 844.83L166 843.65L164.24 844.83L164.81 842.79L163.15 841.47L165.27 841.39Z" fill="#A2142F" stroke="#A2142F" stroke-width="0.5"/>
<path d="M173 840L173.73 841.99L175.85 842.07L174.19 843.39L174.76 845.43L173 844.25L171.24 845.43L171.81 843.39L170.15 842.07L172.27 841.99Z" fill="#A2142F" stroke="#A2142F" stroke-width="0.5"/>
<path d="M180 840.6L180.73 842.59L182.85 842.67L181.19 843.99L181.76 846.03L180 844.85L178.24 846.03L178.81 843.99L177.15 842.67L179.27 842.59Z" fill="#A2142F" stroke="#A2142F" stroke-width="0.5"/>
<path d="M185.25 840.65L185.98 842.64L188.1 842.72L186.44 844.04L187.01 846.08L185.25 844.9L183.49 846.08L184.06 844.04L182.4 842.72L184.52 842.64Z" fill="#A2142F" stroke="#A2142F" stroke-width="0.5"/>
<path d="M190.5 840.7L191.23 842.69L193.35 842.77L191.69 844.09L192.26 846.13L190.5 844.95L188.74 846.13L189.31 844.09L187.65 842.77L189.77 842.69Z" fill="#A2142F" stroke="#A2142F" stroke-width="0.5"/>
<path d="M195.75 840.75L196.48 842.74L198.6 842.82L196.94 844.14L197.51 846.18L195.75 845L193.99 846.18L194.56 844.14L192.9 842.82L195.02 842.74Z" fill="#A2142F" stroke="#A2142F" stroke-width="0.5"/>
<path d="M201 840.8L201.73 842.79L203.85 842.87L202.19 844.19L202.76 846.23L201 845.05L199.24 846.23L199.81 844.19L198.15 842.87L200.27 842.79Z" fill="#A2142F" stroke="#A2142F" stroke-width="0.5"/>
<path d="M206.25 840.85L206.98 842.84L209.1 842.92L207.44 844.24L208.01 846.28L206.25 845.1L204.49 846.28L205.06 844.24L203.4 842.92L205.52 842.84Z" fill="#A2142F" stroke="#A2142F" stroke-width="0.5"/>
<path d="M211.5 840.9L212.23 842.89L214.35 842.97L212.69 844.29L213.26 846.33L211.5 845.15L209.74 846.33L210.31 844.29L208.65 842.97L210.77 842.89Z" fill="#A2142F" stroke="#A2142F" stroke-width="0.5"/>
<path d="M216.75 840.95L217.48 842.94L219.6 843.02L217.94 844.34L218.51 846.38L216.75 845.2L214.99 846.38L215.56 844.34L213.9 843.02L216.02 842.94Z" fill="#A2142F" stroke="#A2142F" stroke-width="0.5"/>
<path d="M222 841L222.73 842.99L224.85 843.07L223.19 844.39L223.76 846.43L222 845.25L220.24 846.43L220.81 844.39L219.15 843.07L221.27 842.99Z" fill="#A2142F" stroke="#A2142F" stroke-width="0.5"/>
<rect x="198.95" y="696.25" width="34.6" height="56.9" fill="#fff" stroke="#7a7a7a" stroke-width="0.8"/>
<path d="M200.85 701.15H215.55" stroke="#0072BD" fill="none" stroke-width="1.32"/>
<path d="M208.2 698.5L210 701.15L208.2 703.8L206.4 701.15Z" fill="none" stroke="#0072BD" stroke-width="1.3"/>
<text x="217.2" y="703.1" class="lg">s=0.1</text>
<path d="M200.85 709.08H215.55" stroke="#D95319" fill="none" stroke-width="1.32"/>
<path d="M206 709.08H210.4M208.2 706.88V711.28" stroke="#D95319" stroke-width="1" fill="none"/>
<text x="217.2" y="711.03" class="lg">s=0.3</text>
<path d="M200.85 717.01H215.55" stroke="#EDB120" fill="none" stroke-width="1.32"/>
<path d="M206.9 715.97H209.5L208.2 718.44Z" fill="#EDB120" stroke="#EDB120" stroke-width="0.5"/>
<text x="217.2" y="718.96" class="lg">s=0.7</text>
<path d="M200.85 724.94H215.55" stroke="#7E2F8E" fill="none" stroke-width="1.32"/>
<circle cx="208.2" cy="724.94" r="2.0" fill="#fff" fill-opacity="0.45" stroke="#7E2F8E" stroke-width="1.15"/>
<text x="217.2" y="726.89" class="lg">s=1.0</text>
<path d="M200.85 732.87H215.55" stroke="#77AC30" fill="none" stroke-width="1.32"/>
<circle cx="208.2" cy="732.87" r="2.0" fill="#77AC30"/>
<text x="217.2" y="734.82" class="lg">s=1.3</text>
<path d="M200.85 740.8H215.55" stroke="#4DBEEE" fill="none" stroke-dasharray="2.1 0.55 0.6 0.55" stroke-width="1.3"/>

<text x="217.2" y="742.75" class="lg">s=1.7</text>
<path d="M200.85 748.73H215.55" stroke="#A2142F" fill="none" stroke-width="1.32"/>
<path d="M208.2 745.73L208.93 747.72L211.05 747.8L209.39 749.12L209.96 751.16L208.2 749.98L206.44 751.16L207.01 749.12L205.35 747.8L207.47 747.72Z" fill="#A2142F" stroke="#A2142F" stroke-width="0.5"/>
<text x="217.2" y="750.68" class="lg">s=1.9</text>
<text x="129.4" y="883.8" class="cap" text-anchor="middle"><tspan font-weight="bold">(g)</tspan> (m n r) = (10,000 1000 40)</text>
<rect x="331.6" y="690.15" width="207.1" height="164.05" fill="#fff" stroke="#7a7a7a" stroke-width="0.8"/>
<text x="331.6" y="863.6" class="tk" text-anchor="middle">0</text>
<text x="366.12" y="863.6" class="tk" text-anchor="middle">5</text>
<text x="400.63" y="863.6" class="tk" text-anchor="middle">10</text>
<text x="435.15" y="863.6" class="tk" text-anchor="middle">15</text>
<text x="469.67" y="863.6" class="tk" text-anchor="middle">20</text>
<text x="504.18" y="863.6" class="tk" text-anchor="middle">25</text>
<text x="538.7" y="863.6" class="tk" text-anchor="middle">30</text>
<text x="328.6" y="857.1" class="tk" text-anchor="end">0</text>
<text x="328.6" y="833.66" class="tk" text-anchor="end">0.05</text>
<text x="328.6" y="810.23" class="tk" text-anchor="end">0.1</text>
<text x="328.6" y="786.79" class="tk" text-anchor="end">0.15</text>
<text x="328.6" y="763.36" class="tk" text-anchor="end">0.2</text>
<text x="328.6" y="739.92" class="tk" text-anchor="end">0.25</text>
<text x="328.6" y="716.49" class="tk" text-anchor="end">0.3</text>
<text x="328.6" y="693.05" class="tk" text-anchor="end">0.35</text>
<path d="M331.6 854.2v-2M331.6 690.15v2M366.12 854.2v-2M366.12 690.15v2M400.63 854.2v-2M400.63 690.15v2M435.15 854.2v-2M435.15 690.15v2M469.67 854.2v-2M469.67 690.15v2M504.18 854.2v-2M504.18 690.15v2M538.7 854.2v-2M538.7 690.15v2M331.6 854.2h2M538.7 854.2h-2M331.6 830.76h2M538.7 830.76h-2M331.6 807.33h2M538.7 807.33h-2M331.6 783.89h2M538.7 783.89h-2M331.6 760.46h2M538.7 760.46h-2M331.6 737.02h2M538.7 737.02h-2M331.6 713.59h2M538.7 713.59h-2M331.6 690.15h2M538.7 690.15h-2" stroke="#7a7a7a" stroke-width="0.8" fill="none"/>
<text x="434.85" y="686.55" class="tt" text-anchor="middle">Relative residual</text>
<text x="434.85" y="872.5" class="lb" text-anchor="middle">time(second)</text>
<text transform="translate(310 771.67) rotate(-90)" class="yl" text-anchor="middle">||WH - V||<tspan class="sub" dy="2.6">F</tspan><tspan dy="-2.6">/||V||</tspan><tspan class="sub" dy="2.6">F</tspan></text>
<path d="M336.6 691.6L343 710.4L351 717L363.6 731.4L373 748L381 759.4L387.4 764.5L394 769.5L401 774.6L407 777L413 778L418 779L424 779.6L430 780.2L436 780.6L502 784.4" fill="none" stroke="#0072BD" stroke-linejoin="round" stroke-width="1.32"/>
<path d="M336.6 688.95L338.4 691.6L336.6 694.25L334.8 691.6Z" fill="none" stroke="#0072BD" stroke-width="1.3"/>
<path d="M343 707.75L344.8 710.4L343 713.05L341.2 710.4Z" fill="none" stroke="#0072BD" stroke-width="1.3"/>
<path d="M351 714.35L352.8 717L351 719.65L349.2 717Z" fill="none" stroke="#0072BD" stroke-width="1.3"/>
<path d="M363.6 728.75L365.4 731.4L363.6 734.05L361.8 731.4Z" fill="none" stroke="#0072BD" stroke-width="1.3"/>
<path d="M373 745.35L374.8 748L373 750.65L371.2 748Z" fill="none" stroke="#0072BD" stroke-width="1.3"/>
<path d="M381 756.75L382.8 759.4L381 762.05L379.2 759.4Z" fill="none" stroke="#0072BD" stroke-width="1.3"/>
<path d="M387.4 761.85L389.2 764.5L387.4 767.15L385.6 764.5Z" fill="none" stroke="#0072BD" stroke-width="1.3"/>
<path d="M394 766.85L395.8 769.5L394 772.15L392.2 769.5Z" fill="none" stroke="#0072BD" stroke-width="1.3"/>
<path d="M401 771.95L402.8 774.6L401 777.25L399.2 774.6Z" fill="none" stroke="#0072BD" stroke-width="1.3"/>
<path d="M407 774.35L408.8 777L407 779.65L405.2 777Z" fill="none" stroke="#0072BD" stroke-width="1.3"/>
<path d="M413 775.35L414.8 778L413 780.65L411.2 778Z" fill="none" stroke="#0072BD" stroke-width="1.3"/>
<path d="M418 776.35L419.8 779L418 781.65L416.2 779Z" fill="none" stroke="#0072BD" stroke-width="1.3"/>
<path d="M424 776.95L425.8 779.6L424 782.25L422.2 779.6Z" fill="none" stroke="#0072BD" stroke-width="1.3"/>
<path d="M430 777.55L431.8 780.2L430 782.85L428.2 780.2Z" fill="none" stroke="#0072BD" stroke-width="1.3"/>
<path d="M436 777.95L437.8 780.6L436 783.25L434.2 780.6Z" fill="none" stroke="#0072BD" stroke-width="1.3"/>
<path d="M440.4 778.2L442.2 780.85L440.4 783.5L438.6 780.85Z" fill="none" stroke="#0072BD" stroke-width="1.3"/>
<path d="M444.8 778.46L446.6 781.11L444.8 783.76L443 781.11Z" fill="none" stroke="#0072BD" stroke-width="1.3"/>
<path d="M449.2 778.71L451 781.36L449.2 784.01L447.4 781.36Z" fill="none" stroke="#0072BD" stroke-width="1.3"/>
<path d="M453.6 778.96L455.4 781.61L453.6 784.26L451.8 781.61Z" fill="none" stroke="#0072BD" stroke-width="1.3"/>
<path d="M458 779.22L459.8 781.87L458 784.52L456.2 781.87Z" fill="none" stroke="#0072BD" stroke-width="1.3"/>
<path d="M462.4 779.47L464.2 782.12L462.4 784.77L460.6 782.12Z" fill="none" stroke="#0072BD" stroke-width="1.3"/>
<path d="M466.8 779.72L468.6 782.37L466.8 785.02L465 782.37Z" fill="none" stroke="#0072BD" stroke-width="1.3"/>
<path d="M471.2 779.98L473 782.63L471.2 785.28L469.4 782.63Z" fill="none" stroke="#0072BD" stroke-width="1.3"/>
<path d="M475.6 780.23L477.4 782.88L475.6 785.53L473.8 782.88Z" fill="none" stroke="#0072BD" stroke-width="1.3"/>
<path d="M480 780.48L481.8 783.13L480 785.78L478.2 783.13Z" fill="none" stroke="#0072BD" stroke-width="1.3"/>
<path d="M484.4 780.74L486.2 783.39L484.4 786.04L482.6 783.39Z" fill="none" stroke="#0072BD" stroke-width="1.3"/>
<path d="M488.8 780.99L490.6 783.64L488.8 786.29L487 783.64Z" fill="none" stroke="#0072BD" stroke-width="1.3"/>
<path d="M493.2 781.24L495 783.89L493.2 786.54L491.4 783.89Z" fill="none" stroke="#0072BD" stroke-width="1.3"/>
<path d="M497.6 781.5L499.4 784.15L497.6 786.8L495.8 784.15Z" fill="none" stroke="#0072BD" stroke-width="1.3"/>
<path d="M502 781.75L503.8 784.4L502 787.05L500.2 784.4Z" fill="none" stroke="#0072BD" stroke-width="1.3"/>
<path d="M336.6 690.6L345.6 745L354 765L360 775L365 778L371 779.6L382 782L398 784L418 786L437 787.8L481 793.6" fill="none" stroke="#D95319" stroke-linejoin="round" stroke-width="1.32"/>
<path d="M334.4 690.6H338.8M336.6 688.4V692.8" stroke="#D95319" stroke-width="1" fill="none"/>
<path d="M343.4 745H347.8M345.6 742.8V747.2" stroke="#D95319" stroke-width="1" fill="none"/>
<path d="M351.8 765H356.2M354 762.8V767.2" stroke="#D95319" stroke-width="1" fill="none"/>
<path d="M357.8 775H362.2M360 772.8V777.2" stroke="#D95319" stroke-width="1" fill="none"/>
<path d="M362.45 777.79H366.85M364.65 775.59V779.99" stroke="#D95319" stroke-width="1" fill="none"/>
<path d="M367.11 779.15H371.51M369.31 776.95V781.35" stroke="#D95319" stroke-width="1" fill="none"/>
<path d="M371.76 780.25H376.16M373.96 778.05V782.45" stroke="#D95319" stroke-width="1" fill="none"/>
<path d="M376.42 781.26H380.82M378.62 779.06V783.46" stroke="#D95319" stroke-width="1" fill="none"/>
<path d="M381.07 782.16H385.47M383.27 779.96V784.36" stroke="#D95319" stroke-width="1" fill="none"/>
<path d="M385.72 782.74H390.12M387.92 780.54V784.94" stroke="#D95319" stroke-width="1" fill="none"/>
<path d="M390.38 783.32H394.78M392.58 781.12V785.52" stroke="#D95319" stroke-width="1" fill="none"/>
<path d="M395.03 783.9H399.43M397.23 781.7V786.1" stroke="#D95319" stroke-width="1" fill="none"/>
<path d="M399.68 784.39H404.08M401.88 782.19V786.59" stroke="#D95319" stroke-width="1" fill="none"/>
<path d="M404.34 784.85H408.74M406.54 782.65V787.05" stroke="#D95319" stroke-width="1" fill="none"/>
<path d="M408.99 785.32H413.39M411.19 783.12V787.52" stroke="#D95319" stroke-width="1" fill="none"/>
<path d="M413.65 785.78H418.05M415.85 783.58V787.98" stroke="#D95319" stroke-width="1" fill="none"/>
<path d="M418.3 786.24H422.7M420.5 784.04V788.44" stroke="#D95319" stroke-width="1" fill="none"/>
<path d="M422.95 786.68H427.35M425.15 784.48V788.88" stroke="#D95319" stroke-width="1" fill="none"/>
<path d="M427.61 787.12H432.01M429.81 784.92V789.32" stroke="#D95319" stroke-width="1" fill="none"/>
<path d="M432.26 787.56H436.66M434.46 785.36V789.76" stroke="#D95319" stroke-width="1" fill="none"/>
<path d="M436.92 788.08H441.32M439.12 785.88V790.28" stroke="#D95319" stroke-width="1" fill="none"/>
<path d="M441.57 788.69H445.97M443.77 786.49V790.89" stroke="#D95319" stroke-width="1" fill="none"/>
<path d="M446.22 789.31H450.62M448.42 787.11V791.51" stroke="#D95319" stroke-width="1" fill="none"/>
<path d="M450.88 789.92H455.28M453.08 787.72V792.12" stroke="#D95319" stroke-width="1" fill="none"/>
<path d="M455.53 790.53H459.93M457.73 788.33V792.73" stroke="#D95319" stroke-width="1" fill="none"/>
<path d="M460.18 791.15H464.58M462.38 788.95V793.35" stroke="#D95319" stroke-width="1" fill="none"/>
<path d="M464.84 791.76H469.24M467.04 789.56V793.96" stroke="#D95319" stroke-width="1" fill="none"/>
<path d="M469.49 792.37H473.89M471.69 790.17V794.57" stroke="#D95319" stroke-width="1" fill="none"/>
<path d="M474.15 792.99H478.55M476.35 790.79V795.19" stroke="#D95319" stroke-width="1" fill="none"/>
<path d="M478.8 793.6H483.2M481 791.4V795.8" stroke="#D95319" stroke-width="1" fill="none"/>
<path d="M336.6 741L338 752L343 772L349 778L356 783L366 786L378 789L392 792.4L408 796.4L422 800L437 804L484 815" fill="none" stroke="#EDB120" stroke-linejoin="round" stroke-width="1.32"/>
<path d="M335.3 739.96H337.9L336.6 742.43Z" fill="#EDB120" stroke="#EDB120" stroke-width="0.5"/>
<path d="M339.18 760.88H341.78L340.48 763.35Z" fill="#EDB120" stroke="#EDB120" stroke-width="0.5"/>
<path d="M343.06 772.32H345.66L344.36 774.79Z" fill="#EDB120" stroke="#EDB120" stroke-width="0.5"/>
<path d="M346.94 776.2H349.54L348.24 778.67Z" fill="#EDB120" stroke="#EDB120" stroke-width="0.5"/>
<path d="M350.82 779.19H353.42L352.12 781.66Z" fill="#EDB120" stroke="#EDB120" stroke-width="0.5"/>
<path d="M354.69 781.96H357.29L355.99 784.43Z" fill="#EDB120" stroke="#EDB120" stroke-width="0.5"/>
<path d="M358.57 783.12H361.17L359.87 785.59Z" fill="#EDB120" stroke="#EDB120" stroke-width="0.5"/>
<path d="M362.45 784.29H365.05L363.75 786.76Z" fill="#EDB120" stroke="#EDB120" stroke-width="0.5"/>
<path d="M366.33 785.37H368.93L367.63 787.84Z" fill="#EDB120" stroke="#EDB120" stroke-width="0.5"/>
<path d="M370.21 786.34H372.81L371.51 788.81Z" fill="#EDB120" stroke="#EDB120" stroke-width="0.5"/>
<path d="M374.09 787.31H376.69L375.39 789.78Z" fill="#EDB120" stroke="#EDB120" stroke-width="0.5"/>
<path d="M377.97 788.27H380.57L379.27 790.74Z" fill="#EDB120" stroke="#EDB120" stroke-width="0.5"/>
<path d="M381.85 789.21H384.45L383.15 791.68Z" fill="#EDB120" stroke="#EDB120" stroke-width="0.5"/>
<path d="M385.73 790.15H388.33L387.03 792.62Z" fill="#EDB120" stroke="#EDB120" stroke-width="0.5"/>
<path d="M389.61 791.09H392.21L390.91 793.56Z" fill="#EDB120" stroke="#EDB120" stroke-width="0.5"/>
<path d="M393.48 792.06H396.08L394.78 794.53Z" fill="#EDB120" stroke="#EDB120" stroke-width="0.5"/>
<path d="M397.36 793.03H399.96L398.66 795.5Z" fill="#EDB120" stroke="#EDB120" stroke-width="0.5"/>
<path d="M401.24 794H403.84L402.54 796.47Z" fill="#EDB120" stroke="#EDB120" stroke-width="0.5"/>
<path d="M405.12 794.97H407.72L406.42 797.44Z" fill="#EDB120" stroke="#EDB120" stroke-width="0.5"/>
<path d="M409 795.95H411.6L410.3 798.42Z" fill="#EDB120" stroke="#EDB120" stroke-width="0.5"/>
<path d="M412.88 796.95H415.48L414.18 799.42Z" fill="#EDB120" stroke="#EDB120" stroke-width="0.5"/>
<path d="M416.76 797.95H419.36L418.06 800.42Z" fill="#EDB120" stroke="#EDB120" stroke-width="0.5"/>
<path d="M420.64 798.94H423.24L421.94 801.41Z" fill="#EDB120" stroke="#EDB120" stroke-width="0.5"/>
<path d="M424.52 799.98H427.12L425.82 802.45Z" fill="#EDB120" stroke="#EDB120" stroke-width="0.5"/>
<path d="M428.39 801.01H430.99L429.69 803.48Z" fill="#EDB120" stroke="#EDB120" stroke-width="0.5"/>
<path d="M432.27 802.05H434.87L433.57 804.52Z" fill="#EDB120" stroke="#EDB120" stroke-width="0.5"/>
<path d="M436.15 803.07H438.75L437.45 805.54Z" fill="#EDB120" stroke="#EDB120" stroke-width="0.5"/>
<path d="M440.03 803.97H442.63L441.33 806.44Z" fill="#EDB120" stroke="#EDB120" stroke-width="0.5"/>
<path d="M443.91 804.88H446.51L445.21 807.35Z" fill="#EDB120" stroke="#EDB120" stroke-width="0.5"/>
<path d="M447.79 805.79H450.39L449.09 808.26Z" fill="#EDB120" stroke="#EDB120" stroke-width="0.5"/>
<path d="M451.67 806.7H454.27L452.97 809.17Z" fill="#EDB120" stroke="#EDB120" stroke-width="0.5"/>
<path d="M455.55 807.61H458.15L456.85 810.08Z" fill="#EDB120" stroke="#EDB120" stroke-width="0.5"/>
<path d="M459.43 808.51H462.03L460.73 810.98Z" fill="#EDB120" stroke="#EDB120" stroke-width="0.5"/>
<path d="M463.31 809.42H465.91L464.61 811.89Z" fill="#EDB120" stroke="#EDB120" stroke-width="0.5"/>
<path d="M467.18 810.33H469.78L468.48 812.8Z" fill="#EDB120" stroke="#EDB120" stroke-width="0.5"/>
<path d="M471.06 811.24H473.66L472.36 813.71Z" fill="#EDB120" stroke="#EDB120" stroke-width="0.5"/>
<path d="M474.94 812.14H477.54L476.24 814.61Z" fill="#EDB120" stroke="#EDB120" stroke-width="0.5"/>
<path d="M478.82 813.05H481.42L480.12 815.52Z" fill="#EDB120" stroke="#EDB120" stroke-width="0.5"/>
<path d="M482.7 813.96H485.3L484 816.43Z" fill="#EDB120" stroke="#EDB120" stroke-width="0.5"/>
<path d="M336.4 755L342.4 773.6L348 781L354 784.4L360 788L366 791.6L371 794.4L377 797.6L383 801L389 803.6L395 806.4L401 809L407 812L412 814.4L417 816L422 817.6L427 819L432 820L437 821L442 821.9L447 822.8L452 823.6L456 824.3L460 825L468 826.6L477 828L485 829.2L493 830.4L501.6 831.4L510 832.4" fill="none" stroke="#7E2F8E" stroke-linejoin="round" stroke-width="1.32"/>
<circle cx="336.4" cy="755" r="2.0" fill="#fff" fill-opacity="0.45" stroke="#7E2F8E" stroke-width="1.15"/>
<circle cx="342.4" cy="773.6" r="2.0" fill="#fff" fill-opacity="0.45" stroke="#7E2F8E" stroke-width="1.15"/>
<circle cx="348" cy="781" r="2.0" fill="#fff" fill-opacity="0.45" stroke="#7E2F8E" stroke-width="1.15"/>
<circle cx="354" cy="784.4" r="2.0" fill="#fff" fill-opacity="0.45" stroke="#7E2F8E" stroke-width="1.15"/>
<circle cx="360" cy="788" r="2.0" fill="#fff" fill-opacity="0.45" stroke="#7E2F8E" stroke-width="1.15"/>
<circle cx="366" cy="791.6" r="2.0" fill="#fff" fill-opacity="0.45" stroke="#7E2F8E" stroke-width="1.15"/>
<circle cx="371" cy="794.4" r="2.0" fill="#fff" fill-opacity="0.45" stroke="#7E2F8E" stroke-width="1.15"/>
<circle cx="377" cy="797.6" r="2.0" fill="#fff" fill-opacity="0.45" stroke="#7E2F8E" stroke-width="1.15"/>
<circle cx="383" cy="801" r="2.0" fill="#fff" fill-opacity="0.45" stroke="#7E2F8E" stroke-width="1.15"/>
<circle cx="389" cy="803.6" r="2.0" fill="#fff" fill-opacity="0.45" stroke="#7E2F8E" stroke-width="1.15"/>
<circle cx="395" cy="806.4" r="2.0" fill="#fff" fill-opacity="0.45" stroke="#7E2F8E" stroke-width="1.15"/>
<circle cx="401" cy="809" r="2.0" fill="#fff" fill-opacity="0.45" stroke="#7E2F8E" stroke-width="1.15"/>
<circle cx="407" cy="812" r="2.0" fill="#fff" fill-opacity="0.45" stroke="#7E2F8E" stroke-width="1.15"/>
<circle cx="412" cy="814.4" r="2.0" fill="#fff" fill-opacity="0.45" stroke="#7E2F8E" stroke-width="1.15"/>
<circle cx="417" cy="816" r="2.0" fill="#fff" fill-opacity="0.45" stroke="#7E2F8E" stroke-width="1.15"/>
<circle cx="422" cy="817.6" r="2.0" fill="#fff" fill-opacity="0.45" stroke="#7E2F8E" stroke-width="1.15"/>
<circle cx="427" cy="819" r="2.0" fill="#fff" fill-opacity="0.45" stroke="#7E2F8E" stroke-width="1.15"/>
<circle cx="432" cy="820" r="2.0" fill="#fff" fill-opacity="0.45" stroke="#7E2F8E" stroke-width="1.15"/>
<circle cx="437" cy="821" r="2.0" fill="#fff" fill-opacity="0.45" stroke="#7E2F8E" stroke-width="1.15"/>
<circle cx="442" cy="821.9" r="2.0" fill="#fff" fill-opacity="0.45" stroke="#7E2F8E" stroke-width="1.15"/>
<circle cx="447" cy="822.8" r="2.0" fill="#fff" fill-opacity="0.45" stroke="#7E2F8E" stroke-width="1.15"/>
<circle cx="452" cy="823.6" r="2.0" fill="#fff" fill-opacity="0.45" stroke="#7E2F8E" stroke-width="1.15"/>
<circle cx="456" cy="824.3" r="2.0" fill="#fff" fill-opacity="0.45" stroke="#7E2F8E" stroke-width="1.15"/>
<circle cx="460" cy="825" r="2.0" fill="#fff" fill-opacity="0.45" stroke="#7E2F8E" stroke-width="1.15"/>
<circle cx="468" cy="826.6" r="2.0" fill="#fff" fill-opacity="0.45" stroke="#7E2F8E" stroke-width="1.15"/>
<circle cx="477" cy="828" r="2.0" fill="#fff" fill-opacity="0.45" stroke="#7E2F8E" stroke-width="1.15"/>
<circle cx="485" cy="829.2" r="2.0" fill="#fff" fill-opacity="0.45" stroke="#7E2F8E" stroke-width="1.15"/>
<circle cx="493" cy="830.4" r="2.0" fill="#fff" fill-opacity="0.45" stroke="#7E2F8E" stroke-width="1.15"/>
<circle cx="501.6" cy="831.4" r="2.0" fill="#fff" fill-opacity="0.45" stroke="#7E2F8E" stroke-width="1.15"/>
<circle cx="510" cy="832.4" r="2.0" fill="#fff" fill-opacity="0.45" stroke="#7E2F8E" stroke-width="1.15"/>
<path d="M337.6 753.6L342.4 772L349 781.6L356 786L363 791L370 796L378 802L386 808L393 812.4L400 817L408 821L415 824L422 827L429 829.6L437 832L440 832.6L450 834.6L459 836.6L468 839L475 840.4L484 841L492 841.4L500 841.5L507.6 841.6" fill="none" stroke="#77AC30" stroke-linejoin="round" stroke-width="1.32"/>
<circle cx="337.6" cy="753.6" r="2.0" fill="#77AC30"/>
<circle cx="342.4" cy="772" r="2.0" fill="#77AC30"/>
<circle cx="349" cy="781.6" r="2.0" fill="#77AC30"/>
<circle cx="356" cy="786" r="2.0" fill="#77AC30"/>
<circle cx="363" cy="791" r="2.0" fill="#77AC30"/>
<circle cx="370" cy="796" r="2.0" fill="#77AC30"/>
<circle cx="378" cy="802" r="2.0" fill="#77AC30"/>
<circle cx="386" cy="808" r="2.0" fill="#77AC30"/>
<circle cx="393" cy="812.4" r="2.0" fill="#77AC30"/>
<circle cx="400" cy="817" r="2.0" fill="#77AC30"/>
<circle cx="408" cy="821" r="2.0" fill="#77AC30"/>
<circle cx="415" cy="824" r="2.0" fill="#77AC30"/>
<circle cx="422" cy="827" r="2.0" fill="#77AC30"/>
<circle cx="429" cy="829.6" r="2.0" fill="#77AC30"/>
<circle cx="437" cy="832" r="2.0" fill="#77AC30"/>
<circle cx="440" cy="832.6" r="2.0" fill="#77AC30"/>
<circle cx="450" cy="834.6" r="2.0" fill="#77AC30"/>
<circle cx="459" cy="836.6" r="2.0" fill="#77AC30"/>
<circle cx="468" cy="839" r="2.0" fill="#77AC30"/>
<circle cx="475" cy="840.4" r="2.0" fill="#77AC30"/>
<circle cx="484" cy="841" r="2.0" fill="#77AC30"/>
<circle cx="492" cy="841.4" r="2.0" fill="#77AC30"/>
<circle cx="500" cy="841.5" r="2.0" fill="#77AC30"/>
<circle cx="507.6" cy="841.6" r="2.0" fill="#77AC30"/>
<path d="M337 743L340 756L344 772L350 782L358 790L364 799L370 809L376 817L382 824.4L388 830.4L394 835L400 837.6L408 839.6L418 841L428 842L437 843L470 843" fill="none" stroke="#4DBEEE" stroke-linejoin="round" stroke-dasharray="2.1 0.55 0.6 0.55" stroke-width="1.3"/>
<path d="M338 716L345 752L351.6 773L357.6 786.4L363.6 797L370 807L376 815.6L382 823L388 829L394 833L399 835.6L404 836.6L408 836.8L417 837L426 838L434 840.4L440 841.2L501 841.6" fill="none" stroke="#A2142F" stroke-linejoin="round" stroke-width="1.32"/>
<path d="M338 713L338.73 714.99L340.85 715.07L339.19 716.39L339.76 718.43L338 717.25L336.24 718.43L336.81 716.39L335.15 715.07L337.27 714.99Z" fill="#A2142F" stroke="#A2142F" stroke-width="0.5"/>
<path d="M345 749L345.73 750.99L347.85 751.07L346.19 752.39L346.76 754.43L345 753.25L343.24 754.43L343.81 752.39L342.15 751.07L344.27 750.99Z" fill="#A2142F" stroke="#A2142F" stroke-width="0.5"/>
<path d="M351.6 770L352.33 771.99L354.45 772.07L352.79 773.39L353.36 775.43L351.6 774.25L349.84 775.43L350.41 773.39L348.75 772.07L350.87 771.99Z" fill="#A2142F" stroke="#A2142F" stroke-width="0.5"/>
<path d="M357.6 783.4L358.33 785.39L360.45 785.47L358.79 786.79L359.36 788.83L357.6 787.65L355.84 788.83L356.41 786.79L354.75 785.47L356.87 785.39Z" fill="#A2142F" stroke="#A2142F" stroke-width="0.5"/>
<path d="M363.6 794L364.33 795.99L366.45 796.07L364.79 797.39L365.36 799.43L363.6 798.25L361.84 799.43L362.41 797.39L360.75 796.07L362.87 795.99Z" fill="#A2142F" stroke="#A2142F" stroke-width="0.5"/>
<path d="M370 804L370.73 805.99L372.85 806.07L371.19 807.39L371.76 809.43L370 808.25L368.24 809.43L368.81 807.39L367.15 806.07L369.27 805.99Z" fill="#A2142F" stroke="#A2142F" stroke-width="0.5"/>
<path d="M376 812.6L376.73 814.59L378.85 814.67L377.19 815.99L377.76 818.03L376 816.85L374.24 818.03L374.81 815.99L373.15 814.67L375.27 814.59Z" fill="#A2142F" stroke="#A2142F" stroke-width="0.5"/>
<path d="M382 820L382.73 821.99L384.85 822.07L383.19 823.39L383.76 825.43L382 824.25L380.24 825.43L380.81 823.39L379.15 822.07L381.27 821.99Z" fill="#A2142F" stroke="#A2142F" stroke-width="0.5"/>
<path d="M388 826L388.73 827.99L390.85 828.07L389.19 829.39L389.76 831.43L388 830.25L386.24 831.43L386.81 829.39L385.15 828.07L387.27 827.99Z" fill="#A2142F" stroke="#A2142F" stroke-width="0.5"/>
<path d="M394 830L394.73 831.99L396.85 832.07L395.19 833.39L395.76 835.43L394 834.25L392.24 835.43L392.81 833.39L391.15 832.07L393.27 831.99Z" fill="#A2142F" stroke="#A2142F" stroke-width="0.5"/>
<path d="M399 832.6L399.73 834.59L401.85 834.67L400.19 835.99L400.76 838.03L399 836.85L397.24 838.03L397.81 835.99L396.15 834.67L398.27 834.59Z" fill="#A2142F" stroke="#A2142F" stroke-width="0.5"/>
<path d="M404 833.6L404.73 835.59L406.85 835.67L405.19 836.99L405.76 839.03L404 837.85L402.24 839.03L402.81 836.99L401.15 835.67L403.27 835.59Z" fill="#A2142F" stroke="#A2142F" stroke-width="0.5"/>
<path d="M408 833.8L408.73 835.79L410.85 835.87L409.19 837.19L409.76 839.23L408 838.05L406.24 839.23L406.81 837.19L405.15 835.87L407.27 835.79Z" fill="#A2142F" stroke="#A2142F" stroke-width="0.5"/>
<path d="M417 834L417.73 835.99L419.85 836.07L418.19 837.39L418.76 839.43L417 838.25L415.24 839.43L415.81 837.39L414.15 836.07L416.27 835.99Z" fill="#A2142F" stroke="#A2142F" stroke-width="0.5"/>
<path d="M426 835L426.73 836.99L428.85 837.07L427.19 838.39L427.76 840.43L426 839.25L424.24 840.43L424.81 838.39L423.15 837.07L425.27 836.99Z" fill="#A2142F" stroke="#A2142F" stroke-width="0.5"/>
<path d="M434 837.4L434.73 839.39L436.85 839.47L435.19 840.79L435.76 842.83L434 841.65L432.24 842.83L432.81 840.79L431.15 839.47L433.27 839.39Z" fill="#A2142F" stroke="#A2142F" stroke-width="0.5"/>
<path d="M440 838.2L440.73 840.19L442.85 840.27L441.19 841.59L441.76 843.63L440 842.45L438.24 843.63L438.81 841.59L437.15 840.27L439.27 840.19Z" fill="#A2142F" stroke="#A2142F" stroke-width="0.5"/>
<path d="M445.55 838.24L446.28 840.23L448.4 840.31L446.73 841.62L447.31 843.66L445.55 842.49L443.78 843.66L444.36 841.62L442.69 840.31L444.81 840.23Z" fill="#A2142F" stroke="#A2142F" stroke-width="0.5"/>
<path d="M451.09 838.27L451.83 840.26L453.94 840.35L452.28 841.66L452.85 843.7L451.09 842.52L449.33 843.7L449.9 841.66L448.24 840.35L450.36 840.26Z" fill="#A2142F" stroke="#A2142F" stroke-width="0.5"/>
<path d="M456.64 838.31L457.37 840.3L459.49 840.38L457.83 841.7L458.4 843.74L456.64 842.56L454.87 843.74L455.45 841.7L453.78 840.38L455.9 840.3Z" fill="#A2142F" stroke="#A2142F" stroke-width="0.5"/>
<path d="M462.18 838.35L462.92 840.33L465.03 840.42L463.37 841.73L463.95 843.77L462.18 842.6L460.42 843.77L460.99 841.73L459.33 840.42L461.45 840.33Z" fill="#A2142F" stroke="#A2142F" stroke-width="0.5"/>
<path d="M467.73 838.38L468.46 840.37L470.58 840.45L468.92 841.77L469.49 843.81L467.73 842.63L465.96 843.81L466.54 841.77L464.87 840.45L466.99 840.37Z" fill="#A2142F" stroke="#A2142F" stroke-width="0.5"/>
<path d="M473.27 838.42L474.01 840.41L476.13 840.49L474.46 841.8L475.04 843.85L473.27 842.67L471.51 843.85L472.08 841.8L470.42 840.49L472.54 840.41Z" fill="#A2142F" stroke="#A2142F" stroke-width="0.5"/>
<path d="M478.82 838.45L479.55 840.44L481.67 840.53L480.01 841.84L480.58 843.88L478.82 842.7L477.05 843.88L477.63 841.84L475.97 840.53L478.08 840.44Z" fill="#A2142F" stroke="#A2142F" stroke-width="0.5"/>
<path d="M484.36 838.49L485.1 840.48L487.22 840.56L485.55 841.88L486.13 843.92L484.36 842.74L482.6 843.92L483.17 841.88L481.51 840.56L483.63 840.48Z" fill="#A2142F" stroke="#A2142F" stroke-width="0.5"/>
<path d="M489.91 838.53L490.64 840.52L492.76 840.6L491.1 841.91L491.67 843.95L489.91 842.78L488.15 843.95L488.72 841.91L487.06 840.6L489.17 840.52Z" fill="#A2142F" stroke="#A2142F" stroke-width="0.5"/>
<path d="M495.45 838.56L496.19 840.55L498.31 840.64L496.64 841.95L497.22 843.99L495.45 842.81L493.69 843.99L494.27 841.95L492.6 840.64L494.72 840.55Z" fill="#A2142F" stroke="#A2142F" stroke-width="0.5"/>
<path d="M501 838.6L501.73 840.59L503.85 840.67L502.19 841.99L502.76 844.03L501 842.85L499.24 844.03L499.81 841.99L498.15 840.67L500.27 840.59Z" fill="#A2142F" stroke="#A2142F" stroke-width="0.5"/>
<rect x="498.25" y="696.25" width="34.6" height="56.9" fill="#fff" stroke="#7a7a7a" stroke-width="0.8"/>
<path d="M500.15 701.15H514.85" stroke="#0072BD" fill="none" stroke-width="1.32"/>
<path d="M507.5 698.5L509.3 701.15L507.5 703.8L505.7 701.15Z" fill="none" stroke="#0072BD" stroke-width="1.3"/>
<text x="516.5" y="703.1" class="lg">s=0.1</text>
<path d="M500.15 709.08H514.85" stroke="#D95319" fill="none" stroke-width="1.32"/>
<path d="M505.3 709.08H509.7M507.5 706.88V711.28" stroke="#D95319" stroke-width="1" fill="none"/>
<text x="516.5" y="711.03" class="lg">s=0.3</text>
<path d="M500.15 717.01H514.85" stroke="#EDB120" fill="none" stroke-width="1.32"/>
<path d="M506.2 715.97H508.8L507.5 718.44Z" fill="#EDB120" stroke="#EDB120" stroke-width="0.5"/>
<text x="516.5" y="718.96" class="lg">s=0.7</text>
<path d="M500.15 724.94H514.85" stroke="#7E2F8E" fill="none" stroke-width="1.32"/>
<circle cx="507.5" cy="724.94" r="2.0" fill="#fff" fill-opacity="0.45" stroke="#7E2F8E" stroke-width="1.15"/>
<text x="516.5" y="726.89" class="lg">s=1.0</text>
<path d="M500.15 732.87H514.85" stroke="#77AC30" fill="none" stroke-width="1.32"/>
<circle cx="507.5" cy="732.87" r="2.0" fill="#77AC30"/>
<text x="516.5" y="734.82" class="lg">s=1.3</text>
<path d="M500.15 740.8H514.85" stroke="#4DBEEE" fill="none" stroke-dasharray="2.1 0.55 0.6 0.55" stroke-width="1.3"/>

<text x="516.5" y="742.75" class="lg">s=1.7</text>
<path d="M500.15 748.73H514.85" stroke="#A2142F" fill="none" stroke-width="1.32"/>
<path d="M507.5 745.73L508.23 747.72L510.35 747.8L508.69 749.12L509.26 751.16L507.5 749.98L505.74 751.16L506.31 749.12L504.65 747.8L506.77 747.72Z" fill="#A2142F" stroke="#A2142F" stroke-width="0.5"/>
<text x="516.5" y="750.68" class="lg">s=1.9</text>
<text x="429" y="883.8" class="cap" text-anchor="middle"><tspan font-weight="bold">(h)</tspan> (m n r) = (30,000 1000 45)</text>
</g>
</svg>
</body></html>
